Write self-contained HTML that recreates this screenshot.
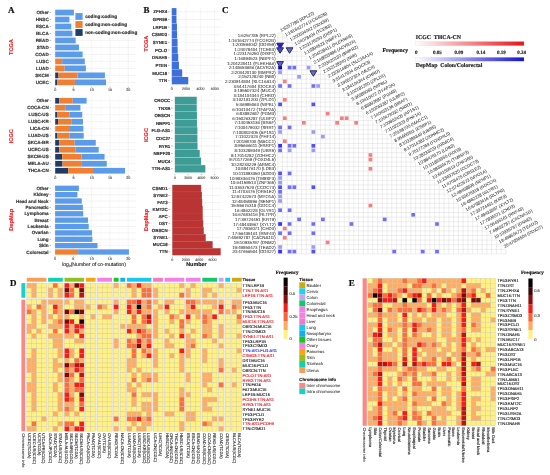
<!DOCTYPE html><html><head><meta charset="utf-8"><title>Co-mutation figure</title><style>html,body{margin:0;padding:0;background:#fff;width:550px;height:475px;overflow:hidden}svg{display:block}</style></head><body><svg width="550" height="475" viewBox="0 0 550 475" shape-rendering="auto" text-rendering="geometricPrecision">
<rect x="0" y="0" width="550" height="475" fill="#fff"/>
<line x1="55.20" y1="9.20" x2="55.20" y2="86.30" stroke="#E6E6E6" stroke-width="0.45"/>
<line x1="73.47" y1="9.20" x2="73.47" y2="86.30" stroke="#E6E6E6" stroke-width="0.45"/>
<line x1="91.75" y1="9.20" x2="91.75" y2="86.30" stroke="#E6E6E6" stroke-width="0.45"/>
<line x1="110.03" y1="9.20" x2="110.03" y2="86.30" stroke="#E6E6E6" stroke-width="0.45"/>
<line x1="128.30" y1="9.20" x2="128.30" y2="86.30" stroke="#E6E6E6" stroke-width="0.45"/>
<line x1="64.34" y1="9.20" x2="64.34" y2="86.30" stroke="#F2F2F2" stroke-width="0.3"/>
<line x1="82.61" y1="9.20" x2="82.61" y2="86.30" stroke="#F2F2F2" stroke-width="0.3"/>
<line x1="100.89" y1="9.20" x2="100.89" y2="86.30" stroke="#F2F2F2" stroke-width="0.3"/>
<line x1="119.16" y1="9.20" x2="119.16" y2="86.30" stroke="#F2F2F2" stroke-width="0.3"/>
<line x1="53.70" y1="12.55" x2="136.00" y2="12.55" stroke="#E6E6E6" stroke-width="0.45"/>
<line x1="53.70" y1="19.53" x2="136.00" y2="19.53" stroke="#E6E6E6" stroke-width="0.45"/>
<line x1="53.70" y1="26.51" x2="136.00" y2="26.51" stroke="#E6E6E6" stroke-width="0.45"/>
<line x1="53.70" y1="33.49" x2="136.00" y2="33.49" stroke="#E6E6E6" stroke-width="0.45"/>
<line x1="53.70" y1="40.47" x2="136.00" y2="40.47" stroke="#E6E6E6" stroke-width="0.45"/>
<line x1="53.70" y1="47.45" x2="136.00" y2="47.45" stroke="#E6E6E6" stroke-width="0.45"/>
<line x1="53.70" y1="54.43" x2="136.00" y2="54.43" stroke="#E6E6E6" stroke-width="0.45"/>
<line x1="53.70" y1="61.41" x2="136.00" y2="61.41" stroke="#E6E6E6" stroke-width="0.45"/>
<line x1="53.70" y1="68.39" x2="136.00" y2="68.39" stroke="#E6E6E6" stroke-width="0.45"/>
<line x1="53.70" y1="75.37" x2="136.00" y2="75.37" stroke="#E6E6E6" stroke-width="0.45"/>
<line x1="53.70" y1="82.35" x2="136.00" y2="82.35" stroke="#E6E6E6" stroke-width="0.45"/>
<rect x="55.2" y="9.68" width="18.64" height="5.75" fill="#5B9BE8"/>
<text x="48.70" y="12.55" font-size="4.55" fill="#333333" stroke="#333333" stroke-width="0.16" text-anchor="end" font-family="'Liberation Sans', Arial, sans-serif" font-weight="bold" dominant-baseline="central">Other</text>
<line x1="49.70" y1="12.55" x2="51.20" y2="12.55" stroke="#555" stroke-width="0.4"/>
<rect x="55.2" y="16.66" width="14.25" height="5.75" fill="#5B9BE8"/>
<text x="48.70" y="19.53" font-size="4.55" fill="#333333" stroke="#333333" stroke-width="0.16" text-anchor="end" font-family="'Liberation Sans', Arial, sans-serif" font-weight="bold" dominant-baseline="central">HNSC</text>
<line x1="49.70" y1="19.53" x2="51.20" y2="19.53" stroke="#555" stroke-width="0.4"/>
<rect x="55.2" y="23.64" width="16.08" height="5.75" fill="#5B9BE8"/>
<text x="48.70" y="26.51" font-size="4.55" fill="#333333" stroke="#333333" stroke-width="0.16" text-anchor="end" font-family="'Liberation Sans', Arial, sans-serif" font-weight="bold" dominant-baseline="central">ESCA</text>
<line x1="49.70" y1="26.51" x2="51.20" y2="26.51" stroke="#555" stroke-width="0.4"/>
<rect x="55.2" y="30.62" width="17.18" height="5.75" fill="#5B9BE8"/>
<text x="48.70" y="33.49" font-size="4.55" fill="#333333" stroke="#333333" stroke-width="0.16" text-anchor="end" font-family="'Liberation Sans', Arial, sans-serif" font-weight="bold" dominant-baseline="central">BLCA</text>
<line x1="49.70" y1="33.49" x2="51.20" y2="33.49" stroke="#555" stroke-width="0.4"/>
<rect x="55.2" y="37.59" width="20.47" height="5.75" fill="#5B9BE8"/>
<text x="48.70" y="40.47" font-size="4.55" fill="#333333" stroke="#333333" stroke-width="0.16" text-anchor="end" font-family="'Liberation Sans', Arial, sans-serif" font-weight="bold" dominant-baseline="central">READ</text>
<line x1="49.70" y1="40.47" x2="51.20" y2="40.47" stroke="#555" stroke-width="0.4"/>
<rect x="55.2" y="44.58" width="23.76" height="5.75" fill="#5B9BE8"/>
<text x="48.70" y="47.45" font-size="4.55" fill="#333333" stroke="#333333" stroke-width="0.16" text-anchor="end" font-family="'Liberation Sans', Arial, sans-serif" font-weight="bold" dominant-baseline="central">STAD</text>
<line x1="49.70" y1="47.45" x2="51.20" y2="47.45" stroke="#555" stroke-width="0.4"/>
<rect x="55.2" y="51.56" width="27.41" height="5.75" fill="#5B9BE8"/>
<text x="48.70" y="54.43" font-size="4.55" fill="#333333" stroke="#333333" stroke-width="0.16" text-anchor="end" font-family="'Liberation Sans', Arial, sans-serif" font-weight="bold" dominant-baseline="central">COAD</text>
<line x1="49.70" y1="54.43" x2="51.20" y2="54.43" stroke="#555" stroke-width="0.4"/>
<rect x="55.2" y="58.53" width="6.94" height="5.75" fill="#EF7F32"/>
<rect x="62.14" y="58.53" width="22.66" height="5.75" fill="#5B9BE8"/>
<text x="48.70" y="61.41" font-size="4.55" fill="#333333" stroke="#333333" stroke-width="0.16" text-anchor="end" font-family="'Liberation Sans', Arial, sans-serif" font-weight="bold" dominant-baseline="central">LUSC</text>
<line x1="49.70" y1="61.41" x2="51.20" y2="61.41" stroke="#555" stroke-width="0.4"/>
<rect x="55.2" y="65.52" width="9.5" height="5.75" fill="#EF7F32"/>
<rect x="64.7" y="65.52" width="21.2" height="5.75" fill="#5B9BE8"/>
<text x="48.70" y="68.39" font-size="4.55" fill="#333333" stroke="#333333" stroke-width="0.16" text-anchor="end" font-family="'Liberation Sans', Arial, sans-serif" font-weight="bold" dominant-baseline="central">LUAD</text>
<line x1="49.70" y1="68.39" x2="51.20" y2="68.39" stroke="#555" stroke-width="0.4"/>
<rect x="55.2" y="72.5" width="3.29" height="5.75" fill="#1F3B66"/>
<rect x="58.49" y="72.5" width="19.01" height="5.75" fill="#EF7F32"/>
<rect x="77.5" y="72.5" width="27.41" height="5.75" fill="#5B9BE8"/>
<text x="48.70" y="75.37" font-size="4.55" fill="#333333" stroke="#333333" stroke-width="0.16" text-anchor="end" font-family="'Liberation Sans', Arial, sans-serif" font-weight="bold" dominant-baseline="central">SKCM</text>
<line x1="49.70" y1="75.37" x2="51.20" y2="75.37" stroke="#555" stroke-width="0.4"/>
<rect x="55.2" y="79.48" width="2.19" height="5.75" fill="#1F3B66"/>
<rect x="57.39" y="79.48" width="17.54" height="5.75" fill="#EF7F32"/>
<rect x="74.94" y="79.48" width="31.07" height="5.75" fill="#5B9BE8"/>
<text x="48.70" y="82.35" font-size="4.55" fill="#333333" stroke="#333333" stroke-width="0.16" text-anchor="end" font-family="'Liberation Sans', Arial, sans-serif" font-weight="bold" dominant-baseline="central">UCEC</text>
<line x1="49.70" y1="82.35" x2="51.20" y2="82.35" stroke="#555" stroke-width="0.4"/>
<line x1="55.20" y1="86.80" x2="55.20" y2="88.10" stroke="#555" stroke-width="0.4"/>
<text x="55.20" y="89.80" font-size="3.7" fill="#555" stroke="#555" stroke-width="0.14" text-anchor="middle" font-family="'Liberation Sans', Arial, sans-serif" dominant-baseline="central">0</text>
<line x1="73.47" y1="86.80" x2="73.47" y2="88.10" stroke="#555" stroke-width="0.4"/>
<text x="73.47" y="89.80" font-size="3.7" fill="#555" stroke="#555" stroke-width="0.14" text-anchor="middle" font-family="'Liberation Sans', Arial, sans-serif" dominant-baseline="central">5</text>
<line x1="91.75" y1="86.80" x2="91.75" y2="88.10" stroke="#555" stroke-width="0.4"/>
<text x="91.75" y="89.80" font-size="3.7" fill="#555" stroke="#555" stroke-width="0.14" text-anchor="middle" font-family="'Liberation Sans', Arial, sans-serif" dominant-baseline="central">10</text>
<line x1="110.03" y1="86.80" x2="110.03" y2="88.10" stroke="#555" stroke-width="0.4"/>
<text x="110.03" y="89.80" font-size="3.7" fill="#555" stroke="#555" stroke-width="0.14" text-anchor="middle" font-family="'Liberation Sans', Arial, sans-serif" dominant-baseline="central">15</text>
<line x1="128.30" y1="86.80" x2="128.30" y2="88.10" stroke="#555" stroke-width="0.4"/>
<text x="128.30" y="89.80" font-size="3.7" fill="#555" stroke="#555" stroke-width="0.14" text-anchor="middle" font-family="'Liberation Sans', Arial, sans-serif" dominant-baseline="central">20</text>
<text x="11.50" y="47.00" font-size="5.6" fill="#E8262A" stroke="#E8262A" stroke-width="0.16" text-anchor="middle" font-family="'Liberation Sans', Arial, sans-serif" font-weight="bold" dominant-baseline="central" transform="rotate(-90 11.50 47.00)">TCGA</text>
<line x1="55.20" y1="97.00" x2="55.20" y2="174.60" stroke="#E6E6E6" stroke-width="0.45"/>
<line x1="73.47" y1="97.00" x2="73.47" y2="174.60" stroke="#E6E6E6" stroke-width="0.45"/>
<line x1="91.75" y1="97.00" x2="91.75" y2="174.60" stroke="#E6E6E6" stroke-width="0.45"/>
<line x1="110.03" y1="97.00" x2="110.03" y2="174.60" stroke="#E6E6E6" stroke-width="0.45"/>
<line x1="128.30" y1="97.00" x2="128.30" y2="174.60" stroke="#E6E6E6" stroke-width="0.45"/>
<line x1="64.34" y1="97.00" x2="64.34" y2="174.60" stroke="#F2F2F2" stroke-width="0.3"/>
<line x1="82.61" y1="97.00" x2="82.61" y2="174.60" stroke="#F2F2F2" stroke-width="0.3"/>
<line x1="100.89" y1="97.00" x2="100.89" y2="174.60" stroke="#F2F2F2" stroke-width="0.3"/>
<line x1="119.16" y1="97.00" x2="119.16" y2="174.60" stroke="#F2F2F2" stroke-width="0.3"/>
<line x1="53.70" y1="100.75" x2="136.00" y2="100.75" stroke="#E6E6E6" stroke-width="0.45"/>
<line x1="53.70" y1="107.75" x2="136.00" y2="107.75" stroke="#E6E6E6" stroke-width="0.45"/>
<line x1="53.70" y1="114.75" x2="136.00" y2="114.75" stroke="#E6E6E6" stroke-width="0.45"/>
<line x1="53.70" y1="121.75" x2="136.00" y2="121.75" stroke="#E6E6E6" stroke-width="0.45"/>
<line x1="53.70" y1="128.75" x2="136.00" y2="128.75" stroke="#E6E6E6" stroke-width="0.45"/>
<line x1="53.70" y1="135.75" x2="136.00" y2="135.75" stroke="#E6E6E6" stroke-width="0.45"/>
<line x1="53.70" y1="142.75" x2="136.00" y2="142.75" stroke="#E6E6E6" stroke-width="0.45"/>
<line x1="53.70" y1="149.75" x2="136.00" y2="149.75" stroke="#E6E6E6" stroke-width="0.45"/>
<line x1="53.70" y1="156.75" x2="136.00" y2="156.75" stroke="#E6E6E6" stroke-width="0.45"/>
<line x1="53.70" y1="163.75" x2="136.00" y2="163.75" stroke="#E6E6E6" stroke-width="0.45"/>
<line x1="53.70" y1="170.75" x2="136.00" y2="170.75" stroke="#E6E6E6" stroke-width="0.45"/>
<rect x="55.2" y="97.9" width="4.02" height="5.7" fill="#1F3B66"/>
<rect x="59.22" y="97.9" width="13.52" height="5.7" fill="#EF7F32"/>
<rect x="72.74" y="97.9" width="13.89" height="5.7" fill="#5B9BE8"/>
<text x="48.70" y="100.75" font-size="4.55" fill="#333333" stroke="#333333" stroke-width="0.16" text-anchor="end" font-family="'Liberation Sans', Arial, sans-serif" font-weight="bold" dominant-baseline="central">Other</text>
<line x1="49.70" y1="100.75" x2="51.20" y2="100.75" stroke="#555" stroke-width="0.4"/>
<rect x="55.2" y="104.9" width="10.6" height="5.7" fill="#EF7F32"/>
<rect x="65.8" y="104.9" width="14.62" height="5.7" fill="#5B9BE8"/>
<text x="48.70" y="107.75" font-size="4.55" fill="#333333" stroke="#333333" stroke-width="0.16" text-anchor="end" font-family="'Liberation Sans', Arial, sans-serif" font-weight="bold" dominant-baseline="central">COCA-CN</text>
<line x1="49.70" y1="107.75" x2="51.20" y2="107.75" stroke="#555" stroke-width="0.4"/>
<rect x="55.2" y="111.9" width="1.83" height="5.7" fill="#1F3B66"/>
<rect x="57.03" y="111.9" width="12.43" height="5.7" fill="#EF7F32"/>
<rect x="69.45" y="111.9" width="12.79" height="5.7" fill="#5B9BE8"/>
<text x="48.70" y="114.75" font-size="4.55" fill="#333333" stroke="#333333" stroke-width="0.16" text-anchor="end" font-family="'Liberation Sans', Arial, sans-serif" font-weight="bold" dominant-baseline="central">LUSC-US</text>
<line x1="49.70" y1="114.75" x2="51.20" y2="114.75" stroke="#555" stroke-width="0.4"/>
<rect x="55.2" y="118.9" width="2.92" height="5.7" fill="#1F3B66"/>
<rect x="58.12" y="118.9" width="13.16" height="5.7" fill="#EF7F32"/>
<rect x="71.28" y="118.9" width="11.7" height="5.7" fill="#5B9BE8"/>
<text x="48.70" y="121.75" font-size="4.55" fill="#333333" stroke="#333333" stroke-width="0.16" text-anchor="end" font-family="'Liberation Sans', Arial, sans-serif" font-weight="bold" dominant-baseline="central">LUSC-KR</text>
<line x1="49.70" y1="121.75" x2="51.20" y2="121.75" stroke="#555" stroke-width="0.4"/>
<rect x="55.2" y="125.9" width="13.89" height="5.7" fill="#EF7F32"/>
<rect x="69.09" y="125.9" width="14.25" height="5.7" fill="#5B9BE8"/>
<text x="48.70" y="128.75" font-size="4.55" fill="#333333" stroke="#333333" stroke-width="0.16" text-anchor="end" font-family="'Liberation Sans', Arial, sans-serif" font-weight="bold" dominant-baseline="central">LICA-CN</text>
<line x1="49.70" y1="128.75" x2="51.20" y2="128.75" stroke="#555" stroke-width="0.4"/>
<rect x="55.2" y="132.9" width="1.83" height="5.7" fill="#1F3B66"/>
<rect x="57.03" y="132.9" width="12.43" height="5.7" fill="#EF7F32"/>
<rect x="69.45" y="132.9" width="14.25" height="5.7" fill="#5B9BE8"/>
<text x="48.70" y="135.75" font-size="4.55" fill="#333333" stroke="#333333" stroke-width="0.16" text-anchor="end" font-family="'Liberation Sans', Arial, sans-serif" font-weight="bold" dominant-baseline="central">LUAD-US</text>
<line x1="49.70" y1="135.75" x2="51.20" y2="135.75" stroke="#555" stroke-width="0.4"/>
<rect x="55.2" y="139.9" width="4.02" height="5.7" fill="#1F3B66"/>
<rect x="59.22" y="139.9" width="15.35" height="5.7" fill="#EF7F32"/>
<rect x="74.57" y="139.9" width="21.2" height="5.7" fill="#5B9BE8"/>
<text x="48.70" y="142.75" font-size="4.55" fill="#333333" stroke="#333333" stroke-width="0.16" text-anchor="end" font-family="'Liberation Sans', Arial, sans-serif" font-weight="bold" dominant-baseline="central">SKCA-BR</text>
<line x1="49.70" y1="142.75" x2="51.20" y2="142.75" stroke="#555" stroke-width="0.4"/>
<rect x="55.2" y="146.9" width="4.02" height="5.7" fill="#1F3B66"/>
<rect x="59.22" y="146.9" width="16.45" height="5.7" fill="#EF7F32"/>
<rect x="75.67" y="146.9" width="23.03" height="5.7" fill="#5B9BE8"/>
<text x="48.70" y="149.75" font-size="4.55" fill="#333333" stroke="#333333" stroke-width="0.16" text-anchor="end" font-family="'Liberation Sans', Arial, sans-serif" font-weight="bold" dominant-baseline="central">UCEC-US</text>
<line x1="49.70" y1="149.75" x2="51.20" y2="149.75" stroke="#555" stroke-width="0.4"/>
<rect x="55.2" y="153.9" width="6.94" height="5.7" fill="#1F3B66"/>
<rect x="62.14" y="153.9" width="19.37" height="5.7" fill="#EF7F32"/>
<rect x="81.52" y="153.9" width="23.03" height="5.7" fill="#5B9BE8"/>
<text x="48.70" y="156.75" font-size="4.55" fill="#333333" stroke="#333333" stroke-width="0.16" text-anchor="end" font-family="'Liberation Sans', Arial, sans-serif" font-weight="bold" dominant-baseline="central">SKCM-US</text>
<line x1="49.70" y1="156.75" x2="51.20" y2="156.75" stroke="#555" stroke-width="0.4"/>
<rect x="55.2" y="160.9" width="7.31" height="5.7" fill="#1F3B66"/>
<rect x="62.51" y="160.9" width="19.37" height="5.7" fill="#EF7F32"/>
<rect x="81.88" y="160.9" width="24.85" height="5.7" fill="#5B9BE8"/>
<text x="48.70" y="163.75" font-size="4.55" fill="#333333" stroke="#333333" stroke-width="0.16" text-anchor="end" font-family="'Liberation Sans', Arial, sans-serif" font-weight="bold" dominant-baseline="central">MELA-AU</text>
<line x1="49.70" y1="163.75" x2="51.20" y2="163.75" stroke="#555" stroke-width="0.4"/>
<rect x="55.2" y="167.9" width="12.98" height="5.7" fill="#1F3B66"/>
<rect x="68.18" y="167.9" width="24.85" height="5.7" fill="#EF7F32"/>
<rect x="93.03" y="167.9" width="31.98" height="5.7" fill="#5B9BE8"/>
<text x="48.70" y="170.75" font-size="4.55" fill="#333333" stroke="#333333" stroke-width="0.16" text-anchor="end" font-family="'Liberation Sans', Arial, sans-serif" font-weight="bold" dominant-baseline="central">THCA-CN</text>
<line x1="49.70" y1="170.75" x2="51.20" y2="170.75" stroke="#555" stroke-width="0.4"/>
<line x1="55.20" y1="175.10" x2="55.20" y2="176.40" stroke="#555" stroke-width="0.4"/>
<text x="55.20" y="178.00" font-size="3.7" fill="#555" stroke="#555" stroke-width="0.14" text-anchor="middle" font-family="'Liberation Sans', Arial, sans-serif" dominant-baseline="central">0</text>
<line x1="73.47" y1="175.10" x2="73.47" y2="176.40" stroke="#555" stroke-width="0.4"/>
<text x="73.47" y="178.00" font-size="3.7" fill="#555" stroke="#555" stroke-width="0.14" text-anchor="middle" font-family="'Liberation Sans', Arial, sans-serif" dominant-baseline="central">5</text>
<line x1="91.75" y1="175.10" x2="91.75" y2="176.40" stroke="#555" stroke-width="0.4"/>
<text x="91.75" y="178.00" font-size="3.7" fill="#555" stroke="#555" stroke-width="0.14" text-anchor="middle" font-family="'Liberation Sans', Arial, sans-serif" dominant-baseline="central">10</text>
<line x1="110.03" y1="175.10" x2="110.03" y2="176.40" stroke="#555" stroke-width="0.4"/>
<text x="110.03" y="178.00" font-size="3.7" fill="#555" stroke="#555" stroke-width="0.14" text-anchor="middle" font-family="'Liberation Sans', Arial, sans-serif" dominant-baseline="central">15</text>
<line x1="128.30" y1="175.10" x2="128.30" y2="176.40" stroke="#555" stroke-width="0.4"/>
<text x="128.30" y="178.00" font-size="3.7" fill="#555" stroke="#555" stroke-width="0.14" text-anchor="middle" font-family="'Liberation Sans', Arial, sans-serif" dominant-baseline="central">20</text>
<text x="11.60" y="136.20" font-size="5.6" fill="#E8262A" stroke="#E8262A" stroke-width="0.16" text-anchor="middle" font-family="'Liberation Sans', Arial, sans-serif" font-weight="bold" dominant-baseline="central" transform="rotate(-90 11.60 136.20)">ICGC</text>
<line x1="55.10" y1="185.20" x2="55.10" y2="255.40" stroke="#E6E6E6" stroke-width="0.45"/>
<line x1="73.38" y1="185.20" x2="73.38" y2="255.40" stroke="#E6E6E6" stroke-width="0.45"/>
<line x1="91.65" y1="185.20" x2="91.65" y2="255.40" stroke="#E6E6E6" stroke-width="0.45"/>
<line x1="109.92" y1="185.20" x2="109.92" y2="255.40" stroke="#E6E6E6" stroke-width="0.45"/>
<line x1="128.20" y1="185.20" x2="128.20" y2="255.40" stroke="#E6E6E6" stroke-width="0.45"/>
<line x1="64.24" y1="185.20" x2="64.24" y2="255.40" stroke="#F2F2F2" stroke-width="0.3"/>
<line x1="82.51" y1="185.20" x2="82.51" y2="255.40" stroke="#F2F2F2" stroke-width="0.3"/>
<line x1="100.79" y1="185.20" x2="100.79" y2="255.40" stroke="#F2F2F2" stroke-width="0.3"/>
<line x1="119.06" y1="185.20" x2="119.06" y2="255.40" stroke="#F2F2F2" stroke-width="0.3"/>
<line x1="53.60" y1="188.30" x2="136.00" y2="188.30" stroke="#E6E6E6" stroke-width="0.45"/>
<line x1="53.60" y1="194.67" x2="136.00" y2="194.67" stroke="#E6E6E6" stroke-width="0.45"/>
<line x1="53.60" y1="201.04" x2="136.00" y2="201.04" stroke="#E6E6E6" stroke-width="0.45"/>
<line x1="53.60" y1="207.41" x2="136.00" y2="207.41" stroke="#E6E6E6" stroke-width="0.45"/>
<line x1="53.60" y1="213.78" x2="136.00" y2="213.78" stroke="#E6E6E6" stroke-width="0.45"/>
<line x1="53.60" y1="220.15" x2="136.00" y2="220.15" stroke="#E6E6E6" stroke-width="0.45"/>
<line x1="53.60" y1="226.52" x2="136.00" y2="226.52" stroke="#E6E6E6" stroke-width="0.45"/>
<line x1="53.60" y1="232.89" x2="136.00" y2="232.89" stroke="#E6E6E6" stroke-width="0.45"/>
<line x1="53.60" y1="239.26" x2="136.00" y2="239.26" stroke="#E6E6E6" stroke-width="0.45"/>
<line x1="53.60" y1="245.63" x2="136.00" y2="245.63" stroke="#E6E6E6" stroke-width="0.45"/>
<line x1="53.60" y1="252.00" x2="136.00" y2="252.00" stroke="#E6E6E6" stroke-width="0.45"/>
<rect x="55.1" y="185.65" width="23.76" height="5.3" fill="#5B9BE8"/>
<text x="48.60" y="188.30" font-size="4.55" fill="#333333" stroke="#333333" stroke-width="0.16" text-anchor="end" font-family="'Liberation Sans', Arial, sans-serif" font-weight="bold" dominant-baseline="central">Other</text>
<line x1="49.60" y1="188.30" x2="51.10" y2="188.30" stroke="#555" stroke-width="0.4"/>
<rect x="55.1" y="192.02" width="22.3" height="5.3" fill="#5B9BE8"/>
<text x="48.60" y="194.67" font-size="4.55" fill="#333333" stroke="#333333" stroke-width="0.16" text-anchor="end" font-family="'Liberation Sans', Arial, sans-serif" font-weight="bold" dominant-baseline="central">Kidney</text>
<line x1="49.60" y1="194.67" x2="51.10" y2="194.67" stroke="#555" stroke-width="0.4"/>
<rect x="55.1" y="198.39" width="26.68" height="5.3" fill="#5B9BE8"/>
<text x="48.60" y="201.04" font-size="4.55" fill="#333333" stroke="#333333" stroke-width="0.16" text-anchor="end" font-family="'Liberation Sans', Arial, sans-serif" font-weight="bold" dominant-baseline="central">Head and Neck</text>
<line x1="49.60" y1="201.04" x2="51.10" y2="201.04" stroke="#555" stroke-width="0.4"/>
<rect x="55.1" y="204.76" width="27.78" height="5.3" fill="#5B9BE8"/>
<text x="48.60" y="207.41" font-size="4.55" fill="#333333" stroke="#333333" stroke-width="0.16" text-anchor="end" font-family="'Liberation Sans', Arial, sans-serif" font-weight="bold" dominant-baseline="central">Pancreatic</text>
<line x1="49.60" y1="207.41" x2="51.10" y2="207.41" stroke="#555" stroke-width="0.4"/>
<rect x="55.1" y="211.13" width="28.14" height="5.3" fill="#5B9BE8"/>
<text x="48.60" y="213.78" font-size="4.55" fill="#333333" stroke="#333333" stroke-width="0.16" text-anchor="end" font-family="'Liberation Sans', Arial, sans-serif" font-weight="bold" dominant-baseline="central">Lymphoma</text>
<line x1="49.60" y1="213.78" x2="51.10" y2="213.78" stroke="#555" stroke-width="0.4"/>
<rect x="55.1" y="217.5" width="32.89" height="5.3" fill="#5B9BE8"/>
<text x="48.60" y="220.15" font-size="4.55" fill="#333333" stroke="#333333" stroke-width="0.16" text-anchor="end" font-family="'Liberation Sans', Arial, sans-serif" font-weight="bold" dominant-baseline="central">Breast</text>
<line x1="49.60" y1="220.15" x2="51.10" y2="220.15" stroke="#555" stroke-width="0.4"/>
<rect x="55.1" y="223.87" width="33.63" height="5.3" fill="#5B9BE8"/>
<text x="48.60" y="226.52" font-size="4.55" fill="#333333" stroke="#333333" stroke-width="0.16" text-anchor="end" font-family="'Liberation Sans', Arial, sans-serif" font-weight="bold" dominant-baseline="central">Leukemia</text>
<line x1="49.60" y1="226.52" x2="51.10" y2="226.52" stroke="#555" stroke-width="0.4"/>
<rect x="55.1" y="230.24" width="36.92" height="5.3" fill="#5B9BE8"/>
<text x="48.60" y="232.89" font-size="4.55" fill="#333333" stroke="#333333" stroke-width="0.16" text-anchor="end" font-family="'Liberation Sans', Arial, sans-serif" font-weight="bold" dominant-baseline="central">Ovarian</text>
<line x1="49.60" y1="232.89" x2="51.10" y2="232.89" stroke="#555" stroke-width="0.4"/>
<rect x="55.1" y="236.61" width="37.28" height="5.3" fill="#5B9BE8"/>
<text x="48.60" y="239.26" font-size="4.55" fill="#333333" stroke="#333333" stroke-width="0.16" text-anchor="end" font-family="'Liberation Sans', Arial, sans-serif" font-weight="bold" dominant-baseline="central">Lung</text>
<line x1="49.60" y1="239.26" x2="51.10" y2="239.26" stroke="#555" stroke-width="0.4"/>
<rect x="55.1" y="242.98" width="42.4" height="5.3" fill="#5B9BE8"/>
<text x="48.60" y="245.63" font-size="4.55" fill="#333333" stroke="#333333" stroke-width="0.16" text-anchor="end" font-family="'Liberation Sans', Arial, sans-serif" font-weight="bold" dominant-baseline="central">Skin</text>
<line x1="49.60" y1="245.63" x2="51.10" y2="245.63" stroke="#555" stroke-width="0.4"/>
<rect x="55.1" y="249.35" width="23.03" height="5.3" fill="#EF7F32"/>
<rect x="78.13" y="249.35" width="50.8" height="5.3" fill="#5B9BE8"/>
<text x="48.60" y="252.00" font-size="4.55" fill="#333333" stroke="#333333" stroke-width="0.16" text-anchor="end" font-family="'Liberation Sans', Arial, sans-serif" font-weight="bold" dominant-baseline="central">Colorectal</text>
<line x1="49.60" y1="252.00" x2="51.10" y2="252.00" stroke="#555" stroke-width="0.4"/>
<line x1="55.10" y1="255.90" x2="55.10" y2="257.20" stroke="#555" stroke-width="0.4"/>
<text x="55.10" y="258.60" font-size="3.7" fill="#555" stroke="#555" stroke-width="0.14" text-anchor="middle" font-family="'Liberation Sans', Arial, sans-serif" dominant-baseline="central">0</text>
<line x1="73.38" y1="255.90" x2="73.38" y2="257.20" stroke="#555" stroke-width="0.4"/>
<text x="73.38" y="258.60" font-size="3.7" fill="#555" stroke="#555" stroke-width="0.14" text-anchor="middle" font-family="'Liberation Sans', Arial, sans-serif" dominant-baseline="central">5</text>
<line x1="91.65" y1="255.90" x2="91.65" y2="257.20" stroke="#555" stroke-width="0.4"/>
<text x="91.65" y="258.60" font-size="3.7" fill="#555" stroke="#555" stroke-width="0.14" text-anchor="middle" font-family="'Liberation Sans', Arial, sans-serif" dominant-baseline="central">10</text>
<line x1="109.92" y1="255.90" x2="109.92" y2="257.20" stroke="#555" stroke-width="0.4"/>
<text x="109.92" y="258.60" font-size="3.7" fill="#555" stroke="#555" stroke-width="0.14" text-anchor="middle" font-family="'Liberation Sans', Arial, sans-serif" dominant-baseline="central">15</text>
<line x1="128.20" y1="255.90" x2="128.20" y2="257.20" stroke="#555" stroke-width="0.4"/>
<text x="128.20" y="258.60" font-size="3.7" fill="#555" stroke="#555" stroke-width="0.14" text-anchor="middle" font-family="'Liberation Sans', Arial, sans-serif" dominant-baseline="central">20</text>
<text x="11.70" y="219.80" font-size="5.6" fill="#E8262A" stroke="#E8262A" stroke-width="0.16" text-anchor="middle" font-family="'Liberation Sans', Arial, sans-serif" font-weight="bold" dominant-baseline="central" transform="rotate(-90 11.70 219.80)">DepMap</text>
<rect x="74" y="11.5" width="64" height="25.5" fill="#fff"/>
<rect x="75.4" y="13.1" width="7.2" height="6.8" fill="#5B9BE8"/>
<text x="85.20" y="16.50" font-size="4.65" fill="#333333" stroke="#333333" stroke-width="0.16" text-anchor="start" font-family="'Liberation Sans', Arial, sans-serif" font-weight="bold" dominant-baseline="central">coding:coding</text>
<rect x="75.4" y="21.1" width="7.2" height="6.8" fill="#EF7F32"/>
<text x="85.20" y="24.50" font-size="4.65" fill="#333333" stroke="#333333" stroke-width="0.16" text-anchor="start" font-family="'Liberation Sans', Arial, sans-serif" font-weight="bold" dominant-baseline="central">coding:non-coding</text>
<rect x="75.4" y="29.1" width="7.2" height="6.8" fill="#1F3B66"/>
<text x="85.20" y="32.50" font-size="4.65" fill="#333333" stroke="#333333" stroke-width="0.16" text-anchor="start" font-family="'Liberation Sans', Arial, sans-serif" font-weight="bold" dominant-baseline="central">non-coding:non-coding</text>
<text x="94.00" y="265.00" font-size="5.1" fill="#333" stroke="#333" stroke-width="0.14" text-anchor="middle" font-family="'Liberation Sans', Arial, sans-serif" dominant-baseline="central">log<tspan font-size="3.1" dy="1.3">2</tspan><tspan dy="-1.3">(Number of co-mutation)</tspan></text>
<line x1="171.80" y1="7.50" x2="171.80" y2="86.00" stroke="#E6E6E6" stroke-width="0.45"/>
<line x1="186.10" y1="7.50" x2="186.10" y2="86.00" stroke="#E6E6E6" stroke-width="0.45"/>
<line x1="200.40" y1="7.50" x2="200.40" y2="86.00" stroke="#E6E6E6" stroke-width="0.45"/>
<line x1="214.70" y1="7.50" x2="214.70" y2="86.00" stroke="#E6E6E6" stroke-width="0.45"/>
<line x1="178.95" y1="7.50" x2="178.95" y2="86.00" stroke="#F2F2F2" stroke-width="0.3"/>
<line x1="193.25" y1="7.50" x2="193.25" y2="86.00" stroke="#F2F2F2" stroke-width="0.3"/>
<line x1="207.55" y1="7.50" x2="207.55" y2="86.00" stroke="#F2F2F2" stroke-width="0.3"/>
<line x1="170.30" y1="11.80" x2="221.50" y2="11.80" stroke="#E6E6E6" stroke-width="0.45"/>
<line x1="170.30" y1="19.45" x2="221.50" y2="19.45" stroke="#E6E6E6" stroke-width="0.45"/>
<line x1="170.30" y1="27.10" x2="221.50" y2="27.10" stroke="#E6E6E6" stroke-width="0.45"/>
<line x1="170.30" y1="34.75" x2="221.50" y2="34.75" stroke="#E6E6E6" stroke-width="0.45"/>
<line x1="170.30" y1="42.40" x2="221.50" y2="42.40" stroke="#E6E6E6" stroke-width="0.45"/>
<line x1="170.30" y1="50.05" x2="221.50" y2="50.05" stroke="#E6E6E6" stroke-width="0.45"/>
<line x1="170.30" y1="57.70" x2="221.50" y2="57.70" stroke="#E6E6E6" stroke-width="0.45"/>
<line x1="170.30" y1="65.35" x2="221.50" y2="65.35" stroke="#E6E6E6" stroke-width="0.45"/>
<line x1="170.30" y1="73.00" x2="221.50" y2="73.00" stroke="#E6E6E6" stroke-width="0.45"/>
<line x1="170.30" y1="80.65" x2="221.50" y2="80.65" stroke="#E6E6E6" stroke-width="0.45"/>
<rect x="171.8" y="8.12" width="4.65" height="7.35" fill="#3D70D8"/>
<text x="167.20" y="11.80" font-size="4.4" fill="#333333" stroke="#333333" stroke-width="0.16" text-anchor="end" font-family="'Liberation Sans', Arial, sans-serif" font-weight="bold" dominant-baseline="central">ZFHX4</text>
<line x1="168.00" y1="11.80" x2="169.60" y2="11.80" stroke="#555" stroke-width="0.4"/>
<rect x="171.8" y="15.78" width="4.65" height="7.35" fill="#3D70D8"/>
<text x="167.20" y="19.45" font-size="4.4" fill="#333333" stroke="#333333" stroke-width="0.16" text-anchor="end" font-family="'Liberation Sans', Arial, sans-serif" font-weight="bold" dominant-baseline="central">GPR98</text>
<line x1="168.00" y1="19.45" x2="169.60" y2="19.45" stroke="#555" stroke-width="0.4"/>
<rect x="171.8" y="23.43" width="5.15" height="7.35" fill="#3D70D8"/>
<text x="167.20" y="27.10" font-size="4.4" fill="#333333" stroke="#333333" stroke-width="0.16" text-anchor="end" font-family="'Liberation Sans', Arial, sans-serif" font-weight="bold" dominant-baseline="central">LRP1B</text>
<line x1="168.00" y1="27.10" x2="169.60" y2="27.10" stroke="#555" stroke-width="0.4"/>
<rect x="171.8" y="31.07" width="5.29" height="7.35" fill="#3D70D8"/>
<text x="167.20" y="34.75" font-size="4.4" fill="#333333" stroke="#333333" stroke-width="0.16" text-anchor="end" font-family="'Liberation Sans', Arial, sans-serif" font-weight="bold" dominant-baseline="central">CSMD3</text>
<line x1="168.00" y1="34.75" x2="169.60" y2="34.75" stroke="#555" stroke-width="0.4"/>
<rect x="171.8" y="38.73" width="5.72" height="7.35" fill="#3D70D8"/>
<text x="167.20" y="42.40" font-size="4.4" fill="#333333" stroke="#333333" stroke-width="0.16" text-anchor="end" font-family="'Liberation Sans', Arial, sans-serif" font-weight="bold" dominant-baseline="central">SYNE1</text>
<line x1="168.00" y1="42.40" x2="169.60" y2="42.40" stroke="#555" stroke-width="0.4"/>
<rect x="171.8" y="46.37" width="5.86" height="7.35" fill="#3D70D8"/>
<text x="167.20" y="50.05" font-size="4.4" fill="#333333" stroke="#333333" stroke-width="0.16" text-anchor="end" font-family="'Liberation Sans', Arial, sans-serif" font-weight="bold" dominant-baseline="central">PCLO</text>
<line x1="168.00" y1="50.05" x2="169.60" y2="50.05" stroke="#555" stroke-width="0.4"/>
<rect x="171.8" y="54.02" width="6.44" height="7.35" fill="#3D70D8"/>
<text x="167.20" y="57.70" font-size="4.4" fill="#333333" stroke="#333333" stroke-width="0.16" text-anchor="end" font-family="'Liberation Sans', Arial, sans-serif" font-weight="bold" dominant-baseline="central">DNAH5</text>
<line x1="168.00" y1="57.70" x2="169.60" y2="57.70" stroke="#555" stroke-width="0.4"/>
<rect x="171.8" y="61.68" width="7.15" height="7.35" fill="#3D70D8"/>
<text x="167.20" y="65.35" font-size="4.4" fill="#333333" stroke="#333333" stroke-width="0.16" text-anchor="end" font-family="'Liberation Sans', Arial, sans-serif" font-weight="bold" dominant-baseline="central">PTEN</text>
<line x1="168.00" y1="65.35" x2="169.60" y2="65.35" stroke="#555" stroke-width="0.4"/>
<rect x="171.8" y="69.33" width="10.37" height="7.35" fill="#3D70D8"/>
<text x="167.20" y="73.00" font-size="4.4" fill="#333333" stroke="#333333" stroke-width="0.16" text-anchor="end" font-family="'Liberation Sans', Arial, sans-serif" font-weight="bold" dominant-baseline="central">MUC16</text>
<line x1="168.00" y1="73.00" x2="169.60" y2="73.00" stroke="#555" stroke-width="0.4"/>
<rect x="171.8" y="76.98" width="16.45" height="7.35" fill="#3D70D8"/>
<text x="167.20" y="80.65" font-size="4.4" fill="#333333" stroke="#333333" stroke-width="0.16" text-anchor="end" font-family="'Liberation Sans', Arial, sans-serif" font-weight="bold" dominant-baseline="central">TTN</text>
<line x1="168.00" y1="80.65" x2="169.60" y2="80.65" stroke="#555" stroke-width="0.4"/>
<line x1="171.80" y1="86.50" x2="171.80" y2="87.80" stroke="#555" stroke-width="0.4"/>
<text x="171.80" y="88.70" font-size="3.6" fill="#555" stroke="#555" stroke-width="0.14" text-anchor="middle" font-family="'Liberation Sans', Arial, sans-serif" dominant-baseline="central">0</text>
<line x1="186.10" y1="86.50" x2="186.10" y2="87.80" stroke="#555" stroke-width="0.4"/>
<text x="186.10" y="88.70" font-size="3.6" fill="#555" stroke="#555" stroke-width="0.14" text-anchor="middle" font-family="'Liberation Sans', Arial, sans-serif" dominant-baseline="central">2000</text>
<line x1="200.40" y1="86.50" x2="200.40" y2="87.80" stroke="#555" stroke-width="0.4"/>
<text x="200.40" y="88.70" font-size="3.6" fill="#555" stroke="#555" stroke-width="0.14" text-anchor="middle" font-family="'Liberation Sans', Arial, sans-serif" dominant-baseline="central">4000</text>
<line x1="214.70" y1="86.50" x2="214.70" y2="87.80" stroke="#555" stroke-width="0.4"/>
<text x="214.70" y="88.70" font-size="3.6" fill="#555" stroke="#555" stroke-width="0.14" text-anchor="middle" font-family="'Liberation Sans', Arial, sans-serif" dominant-baseline="central">6000</text>
<text x="146.70" y="43.60" font-size="5.6" fill="#E8262A" stroke="#E8262A" stroke-width="0.16" text-anchor="middle" font-family="'Liberation Sans', Arial, sans-serif" font-weight="bold" dominant-baseline="central" transform="rotate(-90 146.70 43.60)">TCGA</text>
<line x1="174.90" y1="95.50" x2="174.90" y2="173.50" stroke="#E6E6E6" stroke-width="0.45"/>
<line x1="188.14" y1="95.50" x2="188.14" y2="173.50" stroke="#E6E6E6" stroke-width="0.45"/>
<line x1="201.38" y1="95.50" x2="201.38" y2="173.50" stroke="#E6E6E6" stroke-width="0.45"/>
<line x1="214.62" y1="95.50" x2="214.62" y2="173.50" stroke="#E6E6E6" stroke-width="0.45"/>
<line x1="181.52" y1="95.50" x2="181.52" y2="173.50" stroke="#F2F2F2" stroke-width="0.3"/>
<line x1="194.76" y1="95.50" x2="194.76" y2="173.50" stroke="#F2F2F2" stroke-width="0.3"/>
<line x1="208.00" y1="95.50" x2="208.00" y2="173.50" stroke="#F2F2F2" stroke-width="0.3"/>
<line x1="221.24" y1="95.50" x2="221.24" y2="173.50" stroke="#F2F2F2" stroke-width="0.3"/>
<line x1="173.40" y1="100.40" x2="221.50" y2="100.40" stroke="#E6E6E6" stroke-width="0.45"/>
<line x1="173.40" y1="108.00" x2="221.50" y2="108.00" stroke="#E6E6E6" stroke-width="0.45"/>
<line x1="173.40" y1="115.60" x2="221.50" y2="115.60" stroke="#E6E6E6" stroke-width="0.45"/>
<line x1="173.40" y1="123.20" x2="221.50" y2="123.20" stroke="#E6E6E6" stroke-width="0.45"/>
<line x1="173.40" y1="130.80" x2="221.50" y2="130.80" stroke="#E6E6E6" stroke-width="0.45"/>
<line x1="173.40" y1="138.40" x2="221.50" y2="138.40" stroke="#E6E6E6" stroke-width="0.45"/>
<line x1="173.40" y1="146.00" x2="221.50" y2="146.00" stroke="#E6E6E6" stroke-width="0.45"/>
<line x1="173.40" y1="153.60" x2="221.50" y2="153.60" stroke="#E6E6E6" stroke-width="0.45"/>
<line x1="173.40" y1="161.20" x2="221.50" y2="161.20" stroke="#E6E6E6" stroke-width="0.45"/>
<line x1="173.40" y1="168.80" x2="221.50" y2="168.80" stroke="#E6E6E6" stroke-width="0.45"/>
<rect x="174.9" y="96.75" width="21.85" height="7.3" fill="#3E9C97"/>
<text x="170.30" y="100.40" font-size="4.4" fill="#333333" stroke="#333333" stroke-width="0.16" text-anchor="end" font-family="'Liberation Sans', Arial, sans-serif" font-weight="bold" dominant-baseline="central">CROCC</text>
<line x1="171.10" y1="100.40" x2="172.70" y2="100.40" stroke="#555" stroke-width="0.4"/>
<rect x="174.9" y="104.35" width="21.85" height="7.3" fill="#3E9C97"/>
<text x="170.30" y="108.00" font-size="4.4" fill="#333333" stroke="#333333" stroke-width="0.16" text-anchor="end" font-family="'Liberation Sans', Arial, sans-serif" font-weight="bold" dominant-baseline="central">TNXB</text>
<line x1="171.10" y1="108.00" x2="172.70" y2="108.00" stroke="#555" stroke-width="0.4"/>
<rect x="174.9" y="111.95" width="22.04" height="7.3" fill="#3E9C97"/>
<text x="170.30" y="115.60" font-size="4.4" fill="#333333" stroke="#333333" stroke-width="0.16" text-anchor="end" font-family="'Liberation Sans', Arial, sans-serif" font-weight="bold" dominant-baseline="central">OBSCN</text>
<line x1="171.10" y1="115.60" x2="172.70" y2="115.60" stroke="#555" stroke-width="0.4"/>
<rect x="174.9" y="119.55" width="22.04" height="7.3" fill="#3E9C97"/>
<text x="170.30" y="123.20" font-size="4.4" fill="#333333" stroke="#333333" stroke-width="0.16" text-anchor="end" font-family="'Liberation Sans', Arial, sans-serif" font-weight="bold" dominant-baseline="central">NBPF1</text>
<line x1="171.10" y1="123.20" x2="172.70" y2="123.20" stroke="#555" stroke-width="0.4"/>
<rect x="174.9" y="127.15" width="22.51" height="7.3" fill="#3E9C97"/>
<text x="170.30" y="130.80" font-size="4.4" fill="#333333" stroke="#333333" stroke-width="0.16" text-anchor="end" font-family="'Liberation Sans', Arial, sans-serif" font-weight="bold" dominant-baseline="central">FLG-AS1</text>
<line x1="171.10" y1="130.80" x2="172.70" y2="130.80" stroke="#555" stroke-width="0.4"/>
<rect x="174.9" y="134.75" width="22.51" height="7.3" fill="#3E9C97"/>
<text x="170.30" y="138.40" font-size="4.4" fill="#333333" stroke="#333333" stroke-width="0.16" text-anchor="end" font-family="'Liberation Sans', Arial, sans-serif" font-weight="bold" dominant-baseline="central">CDC27</text>
<line x1="171.10" y1="138.40" x2="172.70" y2="138.40" stroke="#555" stroke-width="0.4"/>
<rect x="174.9" y="142.35" width="22.64" height="7.3" fill="#3E9C97"/>
<text x="170.30" y="146.00" font-size="4.4" fill="#333333" stroke="#333333" stroke-width="0.16" text-anchor="end" font-family="'Liberation Sans', Arial, sans-serif" font-weight="bold" dominant-baseline="central">RYR1</text>
<line x1="171.10" y1="146.00" x2="172.70" y2="146.00" stroke="#555" stroke-width="0.4"/>
<rect x="174.9" y="149.95" width="24.82" height="7.3" fill="#3E9C97"/>
<text x="170.30" y="153.60" font-size="4.4" fill="#333333" stroke="#333333" stroke-width="0.16" text-anchor="end" font-family="'Liberation Sans', Arial, sans-serif" font-weight="bold" dominant-baseline="central">NBPF20</text>
<line x1="171.10" y1="153.60" x2="172.70" y2="153.60" stroke="#555" stroke-width="0.4"/>
<rect x="174.9" y="157.55" width="26.15" height="7.3" fill="#3E9C97"/>
<text x="170.30" y="161.20" font-size="4.4" fill="#333333" stroke="#333333" stroke-width="0.16" text-anchor="end" font-family="'Liberation Sans', Arial, sans-serif" font-weight="bold" dominant-baseline="central">MUC4</text>
<line x1="171.10" y1="161.20" x2="172.70" y2="161.20" stroke="#555" stroke-width="0.4"/>
<rect x="174.9" y="165.15" width="30.45" height="7.3" fill="#3E9C97"/>
<text x="170.30" y="168.80" font-size="4.4" fill="#333333" stroke="#333333" stroke-width="0.16" text-anchor="end" font-family="'Liberation Sans', Arial, sans-serif" font-weight="bold" dominant-baseline="central">TTN-AS1</text>
<line x1="171.10" y1="168.80" x2="172.70" y2="168.80" stroke="#555" stroke-width="0.4"/>
<line x1="174.90" y1="174.00" x2="174.90" y2="175.30" stroke="#555" stroke-width="0.4"/>
<text x="174.90" y="177.50" font-size="3.6" fill="#555" stroke="#555" stroke-width="0.14" text-anchor="middle" font-family="'Liberation Sans', Arial, sans-serif" dominant-baseline="central">0</text>
<line x1="188.14" y1="174.00" x2="188.14" y2="175.30" stroke="#555" stroke-width="0.4"/>
<text x="188.14" y="177.50" font-size="3.6" fill="#555" stroke="#555" stroke-width="0.14" text-anchor="middle" font-family="'Liberation Sans', Arial, sans-serif" dominant-baseline="central">2000</text>
<line x1="201.38" y1="174.00" x2="201.38" y2="175.30" stroke="#555" stroke-width="0.4"/>
<text x="201.38" y="177.50" font-size="3.6" fill="#555" stroke="#555" stroke-width="0.14" text-anchor="middle" font-family="'Liberation Sans', Arial, sans-serif" dominant-baseline="central">4000</text>
<line x1="214.62" y1="174.00" x2="214.62" y2="175.30" stroke="#555" stroke-width="0.4"/>
<text x="214.62" y="177.50" font-size="3.6" fill="#555" stroke="#555" stroke-width="0.14" text-anchor="middle" font-family="'Liberation Sans', Arial, sans-serif" dominant-baseline="central">6000</text>
<text x="146.70" y="135.00" font-size="5.6" fill="#E8262A" stroke="#E8262A" stroke-width="0.16" text-anchor="middle" font-family="'Liberation Sans', Arial, sans-serif" font-weight="bold" dominant-baseline="central" transform="rotate(-90 146.70 135.00)">ICGC</text>
<line x1="172.30" y1="184.50" x2="172.30" y2="256.00" stroke="#E6E6E6" stroke-width="0.45"/>
<line x1="185.74" y1="184.50" x2="185.74" y2="256.00" stroke="#E6E6E6" stroke-width="0.45"/>
<line x1="199.18" y1="184.50" x2="199.18" y2="256.00" stroke="#E6E6E6" stroke-width="0.45"/>
<line x1="212.62" y1="184.50" x2="212.62" y2="256.00" stroke="#E6E6E6" stroke-width="0.45"/>
<line x1="179.02" y1="184.50" x2="179.02" y2="256.00" stroke="#F2F2F2" stroke-width="0.3"/>
<line x1="192.46" y1="184.50" x2="192.46" y2="256.00" stroke="#F2F2F2" stroke-width="0.3"/>
<line x1="205.90" y1="184.50" x2="205.90" y2="256.00" stroke="#F2F2F2" stroke-width="0.3"/>
<line x1="219.34" y1="184.50" x2="219.34" y2="256.00" stroke="#F2F2F2" stroke-width="0.3"/>
<line x1="170.80" y1="188.40" x2="221.50" y2="188.40" stroke="#E6E6E6" stroke-width="0.45"/>
<line x1="170.80" y1="195.44" x2="221.50" y2="195.44" stroke="#E6E6E6" stroke-width="0.45"/>
<line x1="170.80" y1="202.48" x2="221.50" y2="202.48" stroke="#E6E6E6" stroke-width="0.45"/>
<line x1="170.80" y1="209.52" x2="221.50" y2="209.52" stroke="#E6E6E6" stroke-width="0.45"/>
<line x1="170.80" y1="216.56" x2="221.50" y2="216.56" stroke="#E6E6E6" stroke-width="0.45"/>
<line x1="170.80" y1="223.60" x2="221.50" y2="223.60" stroke="#E6E6E6" stroke-width="0.45"/>
<line x1="170.80" y1="230.64" x2="221.50" y2="230.64" stroke="#E6E6E6" stroke-width="0.45"/>
<line x1="170.80" y1="237.68" x2="221.50" y2="237.68" stroke="#E6E6E6" stroke-width="0.45"/>
<line x1="170.80" y1="244.72" x2="221.50" y2="244.72" stroke="#E6E6E6" stroke-width="0.45"/>
<line x1="170.80" y1="251.76" x2="221.50" y2="251.76" stroke="#E6E6E6" stroke-width="0.45"/>
<rect x="172.3" y="184.88" width="28.9" height="7.04" fill="#BA3434"/>
<text x="167.70" y="188.40" font-size="4.4" fill="#333333" stroke="#333333" stroke-width="0.16" text-anchor="end" font-family="'Liberation Sans', Arial, sans-serif" font-weight="bold" dominant-baseline="central">CSMD1</text>
<line x1="168.50" y1="188.40" x2="170.10" y2="188.40" stroke="#555" stroke-width="0.4"/>
<rect x="172.3" y="191.92" width="29.57" height="7.04" fill="#BA3434"/>
<text x="167.70" y="195.44" font-size="4.4" fill="#333333" stroke="#333333" stroke-width="0.16" text-anchor="end" font-family="'Liberation Sans', Arial, sans-serif" font-weight="bold" dominant-baseline="central">SYNE2</text>
<line x1="168.50" y1="195.44" x2="170.10" y2="195.44" stroke="#555" stroke-width="0.4"/>
<rect x="172.3" y="198.96" width="29.9" height="7.04" fill="#BA3434"/>
<text x="167.70" y="202.48" font-size="4.4" fill="#333333" stroke="#333333" stroke-width="0.16" text-anchor="end" font-family="'Liberation Sans', Arial, sans-serif" font-weight="bold" dominant-baseline="central">FAT3</text>
<line x1="168.50" y1="202.48" x2="170.10" y2="202.48" stroke="#555" stroke-width="0.4"/>
<rect x="172.3" y="206" width="30.37" height="7.04" fill="#BA3434"/>
<text x="167.70" y="209.52" font-size="4.4" fill="#333333" stroke="#333333" stroke-width="0.16" text-anchor="end" font-family="'Liberation Sans', Arial, sans-serif" font-weight="bold" dominant-baseline="central">KMT2C</text>
<line x1="168.50" y1="209.52" x2="170.10" y2="209.52" stroke="#555" stroke-width="0.4"/>
<rect x="172.3" y="213.04" width="30.44" height="7.04" fill="#BA3434"/>
<text x="167.70" y="216.56" font-size="4.4" fill="#333333" stroke="#333333" stroke-width="0.16" text-anchor="end" font-family="'Liberation Sans', Arial, sans-serif" font-weight="bold" dominant-baseline="central">APC</text>
<line x1="168.50" y1="216.56" x2="170.10" y2="216.56" stroke="#555" stroke-width="0.4"/>
<rect x="172.3" y="220.08" width="30.91" height="7.04" fill="#BA3434"/>
<text x="167.70" y="223.60" font-size="4.4" fill="#333333" stroke="#333333" stroke-width="0.16" text-anchor="end" font-family="'Liberation Sans', Arial, sans-serif" font-weight="bold" dominant-baseline="central">DST</text>
<line x1="168.50" y1="223.60" x2="170.10" y2="223.60" stroke="#555" stroke-width="0.4"/>
<rect x="172.3" y="227.12" width="31.45" height="7.04" fill="#BA3434"/>
<text x="167.70" y="230.64" font-size="4.4" fill="#333333" stroke="#333333" stroke-width="0.16" text-anchor="end" font-family="'Liberation Sans', Arial, sans-serif" font-weight="bold" dominant-baseline="central">OBSCN</text>
<line x1="168.50" y1="230.64" x2="170.10" y2="230.64" stroke="#555" stroke-width="0.4"/>
<rect x="172.3" y="234.16" width="33.4" height="7.04" fill="#BA3434"/>
<text x="167.70" y="237.68" font-size="4.4" fill="#333333" stroke="#333333" stroke-width="0.16" text-anchor="end" font-family="'Liberation Sans', Arial, sans-serif" font-weight="bold" dominant-baseline="central">SYNE1</text>
<line x1="168.50" y1="237.68" x2="170.10" y2="237.68" stroke="#555" stroke-width="0.4"/>
<rect x="172.3" y="241.2" width="40.32" height="7.04" fill="#BA3434"/>
<text x="167.70" y="244.72" font-size="4.4" fill="#333333" stroke="#333333" stroke-width="0.16" text-anchor="end" font-family="'Liberation Sans', Arial, sans-serif" font-weight="bold" dominant-baseline="central">MUC16</text>
<line x1="168.50" y1="244.72" x2="170.10" y2="244.72" stroke="#555" stroke-width="0.4"/>
<rect x="172.3" y="248.24" width="48.38" height="7.04" fill="#BA3434"/>
<text x="167.70" y="251.76" font-size="4.4" fill="#333333" stroke="#333333" stroke-width="0.16" text-anchor="end" font-family="'Liberation Sans', Arial, sans-serif" font-weight="bold" dominant-baseline="central">TTN</text>
<line x1="168.50" y1="251.76" x2="170.10" y2="251.76" stroke="#555" stroke-width="0.4"/>
<line x1="172.30" y1="256.50" x2="172.30" y2="257.80" stroke="#555" stroke-width="0.4"/>
<text x="172.30" y="259.60" font-size="3.6" fill="#555" stroke="#555" stroke-width="0.14" text-anchor="middle" font-family="'Liberation Sans', Arial, sans-serif" dominant-baseline="central">0</text>
<line x1="185.74" y1="256.50" x2="185.74" y2="257.80" stroke="#555" stroke-width="0.4"/>
<text x="185.74" y="259.60" font-size="3.6" fill="#555" stroke="#555" stroke-width="0.14" text-anchor="middle" font-family="'Liberation Sans', Arial, sans-serif" dominant-baseline="central">2000</text>
<line x1="199.18" y1="256.50" x2="199.18" y2="257.80" stroke="#555" stroke-width="0.4"/>
<text x="199.18" y="259.60" font-size="3.6" fill="#555" stroke="#555" stroke-width="0.14" text-anchor="middle" font-family="'Liberation Sans', Arial, sans-serif" dominant-baseline="central">4000</text>
<line x1="212.62" y1="256.50" x2="212.62" y2="257.80" stroke="#555" stroke-width="0.4"/>
<text x="212.62" y="259.60" font-size="3.6" fill="#555" stroke="#555" stroke-width="0.14" text-anchor="middle" font-family="'Liberation Sans', Arial, sans-serif" dominant-baseline="central">6000</text>
<text x="147.00" y="220.00" font-size="5.6" fill="#E8262A" stroke="#E8262A" stroke-width="0.16" text-anchor="middle" font-family="'Liberation Sans', Arial, sans-serif" font-weight="bold" dominant-baseline="central" transform="rotate(-90 147.00 220.00)">DepMap</text>
<text x="196.40" y="264.80" font-size="5.4" fill="#222" stroke="#222" stroke-width="0.16" text-anchor="middle" font-family="'Liberation Sans', Arial, sans-serif" font-weight="bold" dominant-baseline="central">Number</text>
<rect x="277.7" y="33.1" width="4.75" height="4.6" fill="#fff" stroke="none"/>
<rect x="277.7" y="37.7" width="9.51" height="4.6" fill="#fff" stroke="none"/>
<rect x="277.7" y="42.3" width="14.27" height="4.6" fill="#fff" stroke="none"/>
<rect x="277.7" y="46.9" width="19.02" height="4.6" fill="#fff" stroke="none"/>
<rect x="277.7" y="51.5" width="23.77" height="4.6" fill="#fff" stroke="none"/>
<rect x="277.7" y="56.1" width="28.53" height="4.6" fill="#fff" stroke="none"/>
<rect x="277.7" y="60.7" width="33.28" height="4.6" fill="#fff" stroke="none"/>
<rect x="277.7" y="65.3" width="38.04" height="4.6" fill="#fff" stroke="none"/>
<rect x="277.7" y="69.9" width="42.8" height="4.6" fill="#fff" stroke="none"/>
<rect x="277.7" y="74.5" width="47.55" height="4.6" fill="#fff" stroke="none"/>
<rect x="277.7" y="79.1" width="52.3" height="4.6" fill="#fff" stroke="none"/>
<rect x="277.7" y="83.7" width="57.06" height="4.6" fill="#fff" stroke="none"/>
<rect x="277.7" y="88.3" width="61.81" height="4.6" fill="#fff" stroke="none"/>
<rect x="277.7" y="92.9" width="66.57" height="4.6" fill="#fff" stroke="none"/>
<rect x="277.7" y="97.5" width="71.33" height="4.6" fill="#fff" stroke="none"/>
<rect x="277.7" y="102.1" width="76.08" height="4.6" fill="#fff" stroke="none"/>
<rect x="277.7" y="106.7" width="80.83" height="4.6" fill="#fff" stroke="none"/>
<rect x="277.7" y="111.3" width="85.59" height="4.6" fill="#fff" stroke="none"/>
<rect x="277.7" y="115.9" width="90.34" height="4.6" fill="#fff" stroke="none"/>
<rect x="277.7" y="120.5" width="95.1" height="4.6" fill="#fff" stroke="none"/>
<rect x="277.7" y="125.1" width="99.86" height="4.6" fill="#fff" stroke="none"/>
<rect x="277.7" y="129.7" width="104.61" height="4.6" fill="#fff" stroke="none"/>
<rect x="277.7" y="134.3" width="109.36" height="4.6" fill="#fff" stroke="none"/>
<rect x="277.7" y="138.9" width="114.12" height="4.6" fill="#fff" stroke="none"/>
<rect x="277.7" y="143.5" width="118.88" height="4.6" fill="#fff" stroke="none"/>
<rect x="277.7" y="148.1" width="123.63" height="4.6" fill="#fff" stroke="none"/>
<rect x="277.7" y="152.7" width="128.38" height="4.6" fill="#fff" stroke="none"/>
<rect x="277.7" y="157.3" width="133.14" height="4.6" fill="#fff" stroke="none"/>
<rect x="277.7" y="161.9" width="137.9" height="4.6" fill="#fff" stroke="none"/>
<rect x="277.7" y="166.5" width="142.65" height="4.6" fill="#fff" stroke="none"/>
<rect x="277.7" y="171.1" width="147.41" height="4.6" fill="#fff" stroke="none"/>
<rect x="277.7" y="175.7" width="152.16" height="4.6" fill="#fff" stroke="none"/>
<rect x="277.7" y="180.3" width="156.91" height="4.6" fill="#fff" stroke="none"/>
<rect x="277.7" y="184.9" width="161.67" height="4.6" fill="#fff" stroke="none"/>
<rect x="277.7" y="189.5" width="166.42" height="4.6" fill="#fff" stroke="none"/>
<rect x="277.7" y="194.1" width="171.18" height="4.6" fill="#fff" stroke="none"/>
<rect x="277.7" y="198.7" width="175.94" height="4.6" fill="#fff" stroke="none"/>
<rect x="277.7" y="203.3" width="180.69" height="4.6" fill="#fff" stroke="none"/>
<rect x="277.7" y="207.9" width="185.44" height="4.6" fill="#fff" stroke="none"/>
<rect x="277.7" y="212.5" width="190.2" height="4.6" fill="#fff" stroke="none"/>
<rect x="277.7" y="217.1" width="194.95" height="4.6" fill="#fff" stroke="none"/>
<rect x="277.7" y="221.7" width="199.71" height="4.6" fill="#fff" stroke="none"/>
<rect x="277.7" y="226.3" width="204.47" height="4.6" fill="#fff" stroke="none"/>
<rect x="277.7" y="230.9" width="209.22" height="4.6" fill="#fff" stroke="none"/>
<rect x="277.7" y="235.5" width="213.97" height="4.6" fill="#fff" stroke="none"/>
<rect x="277.7" y="240.1" width="218.73" height="4.6" fill="#fff" stroke="none"/>
<rect x="277.7" y="244.7" width="223.48" height="4.6" fill="#fff" stroke="none"/>
<rect x="277.7" y="249.3" width="228.24" height="4.6" fill="#fff" stroke="none"/>
<path d="M277.70 33.10H282.45M277.70 37.70H287.21M277.70 42.30H291.96M277.70 46.90H296.72M277.70 51.50H301.47M277.70 56.10H306.23M277.70 60.70H310.99M277.70 65.30H315.74M277.70 69.90H320.50M277.70 74.50H325.25M277.70 79.10H330.00M277.70 83.70H334.76M277.70 88.30H339.51M277.70 92.90H344.27M277.70 97.50H349.02M277.70 102.10H353.78M277.70 106.70H358.53M277.70 111.30H363.29M277.70 115.90H368.04M277.70 120.50H372.80M277.70 125.10H377.56M277.70 129.70H382.31M277.70 134.30H387.06M277.70 138.90H391.82M277.70 143.50H396.57M277.70 148.10H401.33M277.70 152.70H406.08M277.70 157.30H410.84M277.70 161.90H415.60M277.70 166.50H420.35M277.70 171.10H425.11M277.70 175.70H429.86M277.70 180.30H434.62M277.70 184.90H439.37M277.70 189.50H444.12M277.70 194.10H448.88M277.70 198.70H453.63M277.70 203.30H458.39M277.70 207.90H463.14M277.70 212.50H467.90M277.70 217.10H472.65M277.70 221.70H477.41M277.70 226.30H482.16M277.70 230.90H486.92M277.70 235.50H491.67M277.70 240.10H496.43M277.70 244.70H501.18M277.70 249.30H505.94M277.70 253.90H505.94M277.70 33.10V253.90M282.45 33.10V253.90M287.21 37.70V253.90M291.96 42.30V253.90M296.72 46.90V253.90M301.47 51.50V253.90M306.23 56.10V253.90M310.99 60.70V253.90M315.74 65.30V253.90M320.50 69.90V253.90M325.25 74.50V253.90M330.00 79.10V253.90M334.76 83.70V253.90M339.51 88.30V253.90M344.27 92.90V253.90M349.02 97.50V253.90M353.78 102.10V253.90M358.53 106.70V253.90M363.29 111.30V253.90M368.04 115.90V253.90M372.80 120.50V253.90M377.56 125.10V253.90M382.31 129.70V253.90M387.06 134.30V253.90M391.82 138.90V253.90M396.57 143.50V253.90M401.33 148.10V253.90M406.08 152.70V253.90M410.84 157.30V253.90M415.60 161.90V253.90M420.35 166.50V253.90M425.11 171.10V253.90M429.86 175.70V253.90M434.62 180.30V253.90M439.37 184.90V253.90M444.12 189.50V253.90M448.88 194.10V253.90M453.63 198.70V253.90M458.39 203.30V253.90M463.14 207.90V253.90M467.90 212.50V253.90M472.65 217.10V253.90M477.41 221.70V253.90M482.16 226.30V253.90M486.92 230.90V253.90M491.67 235.50V253.90M496.43 240.10V253.90M501.18 244.70V253.90M505.94 249.30V253.90" stroke="#CFCFCF" stroke-width="0.35" fill="none"/>
<rect x="278.2" y="65.8" width="3.75" height="3.6" fill="#0000E6"/>
<rect x="287.71" y="65.8" width="3.75" height="3.6" fill="#7070F2"/>
<rect x="292.46" y="65.8" width="3.75" height="3.6" fill="#7070F2"/>
<rect x="306.73" y="65.8" width="3.75" height="3.6" fill="#9C9CF3"/>
<rect x="278.2" y="70.4" width="3.75" height="3.6" fill="#9C9CF3"/>
<rect x="297.22" y="75" width="3.75" height="3.6" fill="#9C9CF3"/>
<rect x="282.95" y="79.6" width="3.75" height="3.6" fill="#F47F7F"/>
<rect x="278.2" y="84.2" width="3.75" height="3.6" fill="#7070F2"/>
<rect x="287.71" y="84.2" width="3.75" height="3.6" fill="#7070F2"/>
<rect x="311.49" y="84.2" width="3.75" height="3.6" fill="#7070F2"/>
<rect x="316.24" y="84.2" width="3.75" height="3.6" fill="#9C9CF3"/>
<rect x="282.95" y="98" width="3.75" height="3.6" fill="#F47F7F"/>
<rect x="278.2" y="102.6" width="3.75" height="3.6" fill="#5252F0"/>
<rect x="311.49" y="102.6" width="3.75" height="3.6" fill="#5252F0"/>
<rect x="325.75" y="111.8" width="3.75" height="3.6" fill="#F47F7F"/>
<rect x="282.95" y="116.4" width="3.75" height="3.6" fill="#F47F7F"/>
<rect x="340.01" y="116.4" width="3.75" height="3.6" fill="#F47F7F"/>
<rect x="344.77" y="116.4" width="3.75" height="3.6" fill="#F47F7F"/>
<rect x="301.97" y="121" width="3.75" height="3.6" fill="#F47F7F"/>
<rect x="335.26" y="121" width="3.75" height="3.6" fill="#F47F7F"/>
<rect x="354.28" y="121" width="3.75" height="3.6" fill="#F47F7F"/>
<rect x="278.2" y="125.6" width="3.75" height="3.6" fill="#7070F2"/>
<rect x="287.71" y="125.6" width="3.75" height="3.6" fill="#7070F2"/>
<rect x="278.2" y="130.2" width="3.75" height="3.6" fill="#9C9CF3"/>
<rect x="311.49" y="130.2" width="3.75" height="3.6" fill="#9C9CF3"/>
<rect x="321" y="134.8" width="3.75" height="3.6" fill="#9C9CF3"/>
<rect x="282.95" y="139.4" width="3.75" height="3.6" fill="#F47F7F"/>
<rect x="278.2" y="144" width="3.75" height="3.6" fill="#3434EE"/>
<rect x="287.71" y="144" width="3.75" height="3.6" fill="#7070F2"/>
<rect x="292.46" y="144" width="3.75" height="3.6" fill="#7070F2"/>
<rect x="311.49" y="144" width="3.75" height="3.6" fill="#5252F0"/>
<rect x="278.2" y="148.6" width="3.75" height="3.6" fill="#7070F2"/>
<rect x="287.71" y="148.6" width="3.75" height="3.6" fill="#9C9CF3"/>
<rect x="311.49" y="148.6" width="3.75" height="3.6" fill="#9C9CF3"/>
<rect x="368.54" y="153.2" width="3.75" height="3.6" fill="#F47F7F"/>
<rect x="368.54" y="157.8" width="3.75" height="3.6" fill="#F47F7F"/>
<rect x="368.54" y="167" width="3.75" height="3.6" fill="#F47F7F"/>
<rect x="278.2" y="171.6" width="3.75" height="3.6" fill="#5252F0"/>
<rect x="287.71" y="171.6" width="3.75" height="3.6" fill="#7070F2"/>
<rect x="278.2" y="176.2" width="3.75" height="3.6" fill="#9C9CF3"/>
<rect x="278.2" y="180.8" width="3.75" height="3.6" fill="#9C9CF3"/>
<rect x="278.2" y="185.4" width="3.75" height="3.6" fill="#5252F0"/>
<rect x="287.71" y="185.4" width="3.75" height="3.6" fill="#7070F2"/>
<rect x="292.46" y="185.4" width="3.75" height="3.6" fill="#7070F2"/>
<rect x="311.49" y="185.4" width="3.75" height="3.6" fill="#5252F0"/>
<rect x="278.2" y="190" width="3.75" height="3.6" fill="#7070F2"/>
<rect x="278.2" y="194.6" width="3.75" height="3.6" fill="#9C9CF3"/>
<rect x="278.2" y="199.2" width="3.75" height="3.6" fill="#9C9CF3"/>
<rect x="368.54" y="203.8" width="3.75" height="3.6" fill="#F47F7F"/>
<rect x="278.2" y="208.4" width="3.75" height="3.6" fill="#7070F2"/>
<rect x="287.71" y="208.4" width="3.75" height="3.6" fill="#7070F2"/>
<rect x="411.34" y="213" width="3.75" height="3.6" fill="#7070F2"/>
<rect x="297.22" y="217.6" width="3.75" height="3.6" fill="#7070F2"/>
<rect x="321" y="217.6" width="3.75" height="3.6" fill="#7070F2"/>
<rect x="382.81" y="217.6" width="3.75" height="3.6" fill="#7070F2"/>
<rect x="278.2" y="222.2" width="3.75" height="3.6" fill="#3434EE"/>
<rect x="287.71" y="222.2" width="3.75" height="3.6" fill="#7070F2"/>
<rect x="311.49" y="222.2" width="3.75" height="3.6" fill="#7070F2"/>
<rect x="349.52" y="222.2" width="3.75" height="3.6" fill="#7070F2"/>
<rect x="435.12" y="222.2" width="3.75" height="3.6" fill="#7070F2"/>
<rect x="282.95" y="226.8" width="3.75" height="3.6" fill="#F47F7F"/>
<rect x="278.2" y="231.4" width="3.75" height="3.6" fill="#7070F2"/>
<rect x="287.71" y="231.4" width="3.75" height="3.6" fill="#7070F2"/>
<rect x="311.49" y="231.4" width="3.75" height="3.6" fill="#7070F2"/>
<rect x="282.95" y="236" width="3.75" height="3.6" fill="#F47F7F"/>
<rect x="325.75" y="240.6" width="3.75" height="3.6" fill="#F47F7F"/>
<rect x="278.2" y="245.2" width="3.75" height="3.6" fill="#9C9CF3"/>
<rect x="311.49" y="245.2" width="3.75" height="3.6" fill="#9C9CF3"/>
<rect x="278.2" y="249.8" width="3.75" height="3.6" fill="#3434EE"/>
<rect x="287.71" y="249.8" width="3.75" height="3.6" fill="#7070F2"/>
<rect x="292.46" y="249.8" width="3.75" height="3.6" fill="#7070F2"/>
<rect x="311.49" y="249.8" width="3.75" height="3.6" fill="#5252F0"/>
<rect x="392.32" y="249.8" width="3.75" height="3.6" fill="#7070F2"/>
<rect x="420.85" y="249.8" width="3.75" height="3.6" fill="#7070F2"/>
<rect x="435.12" y="249.8" width="3.75" height="3.6" fill="#7070F2"/>
<path d="M276.68 43.20H283.48L280.08 48.70Z" fill="#2020EA" stroke="#2E2E3E" stroke-width="1.0" stroke-linejoin="round"/>
<path d="M276.68 47.80H283.48L280.08 53.30Z" fill="#4646E6" stroke="#2E2E3E" stroke-width="1.0" stroke-linejoin="round"/>
<path d="M286.19 47.80H292.99L289.59 53.30Z" fill="#6666E6" stroke="#2E2E3E" stroke-width="1.0" stroke-linejoin="round"/>
<path d="M276.68 61.60H283.48L280.08 67.10Z" fill="#6060E8" stroke="#2E2E3E" stroke-width="1.0" stroke-linejoin="round"/>
<path d="M309.96 70.80H316.76L313.36 76.30Z" fill="#6A6AE8" stroke="#2E2E3E" stroke-width="1.0" stroke-linejoin="round"/>
<text x="275.60" y="35.40" font-size="4.35" fill="#3a3a3a" stroke="#3a3a3a" stroke-width="0.05" text-anchor="end" font-family="'Liberation Sans', Arial, sans-serif" dominant-baseline="central">1:6257785 (RPL22)</text>
<text x="275.60" y="40.00" font-size="4.35" fill="#3a3a3a" stroke="#3a3a3a" stroke-width="0.05" text-anchor="end" font-family="'Liberation Sans', Arial, sans-serif" dominant-baseline="central">1:161642774 (FCGR2B)</text>
<text x="275.60" y="44.60" font-size="4.35" fill="#3a3a3a" stroke="#3a3a3a" stroke-width="0.05" text-anchor="end" font-family="'Liberation Sans', Arial, sans-serif" dominant-baseline="central">1:200594042 (DDX59)</text>
<text x="275.60" y="49.20" font-size="4.35" fill="#3a3a3a" stroke="#3a3a3a" stroke-width="0.05" text-anchor="end" font-family="'Liberation Sans', Arial, sans-serif" dominant-baseline="central">1:24078404 (TCEB3)</text>
<text x="275.60" y="53.80" font-size="4.35" fill="#3a3a3a" stroke="#3a3a3a" stroke-width="0.05" text-anchor="end" font-family="'Liberation Sans', Arial, sans-serif" dominant-baseline="central">1:223176250 (DISP1)</text>
<text x="275.60" y="58.40" font-size="4.35" fill="#3a3a3a" stroke="#3a3a3a" stroke-width="0.05" text-anchor="end" font-family="'Liberation Sans', Arial, sans-serif" dominant-baseline="central">1:16894523 (NBPF1)</text>
<text x="275.60" y="63.00" font-size="4.35" fill="#3a3a3a" stroke="#3a3a3a" stroke-width="0.05" text-anchor="end" font-family="'Liberation Sans', Arial, sans-serif" dominant-baseline="central">1:204228411 (PLEKHA6)</text>
<text x="275.60" y="67.60" font-size="4.35" fill="#3a3a3a" stroke="#3a3a3a" stroke-width="0.05" text-anchor="end" font-family="'Liberation Sans', Arial, sans-serif" dominant-baseline="central">2:148653686 (ACVR2A)</text>
<text x="275.60" y="72.20" font-size="4.35" fill="#3a3a3a" stroke="#3a3a3a" stroke-width="0.05" text-anchor="end" font-family="'Liberation Sans', Arial, sans-serif" dominant-baseline="central">2:203420130 (BMPR2)</text>
<text x="275.60" y="76.80" font-size="4.35" fill="#3a3a3a" stroke="#3a3a3a" stroke-width="0.05" text-anchor="end" font-family="'Liberation Sans', Arial, sans-serif" dominant-baseline="central">2:152128240 (NMI)</text>
<text x="275.60" y="81.40" font-size="4.35" fill="#3a3a3a" stroke="#3a3a3a" stroke-width="0.05" text-anchor="end" font-family="'Liberation Sans', Arial, sans-serif" dominant-baseline="central">2:230914804 (SLC16A14)</text>
<text x="275.60" y="86.00" font-size="4.35" fill="#3a3a3a" stroke="#3a3a3a" stroke-width="0.05" text-anchor="end" font-family="'Liberation Sans', Arial, sans-serif" dominant-baseline="central">3:51417604 (DOCK3)</text>
<text x="275.60" y="90.60" font-size="4.35" fill="#3a3a3a" stroke="#3a3a3a" stroke-width="0.05" text-anchor="end" font-family="'Liberation Sans', Arial, sans-serif" dominant-baseline="central">3:195507324 (MUC4)</text>
<text x="275.60" y="95.20" font-size="4.35" fill="#3a3a3a" stroke="#3a3a3a" stroke-width="0.05" text-anchor="end" font-family="'Liberation Sans', Arial, sans-serif" dominant-baseline="central">3:184104344 (CHRD)</text>
<text x="275.60" y="99.80" font-size="4.35" fill="#3a3a3a" stroke="#3a3a3a" stroke-width="0.05" text-anchor="end" font-family="'Liberation Sans', Arial, sans-serif" dominant-baseline="central">3:102181200 (ZPLD1)</text>
<text x="275.60" y="104.40" font-size="4.35" fill="#3a3a3a" stroke="#3a3a3a" stroke-width="0.05" text-anchor="end" font-family="'Liberation Sans', Arial, sans-serif" dominant-baseline="central">5:36985063 (NIPBL)</text>
<text x="275.60" y="109.00" font-size="4.35" fill="#3a3a3a" stroke="#3a3a3a" stroke-width="0.05" text-anchor="end" font-family="'Liberation Sans', Arial, sans-serif" dominant-baseline="central">6:10410472 (TFAP2A)</text>
<text x="275.60" y="113.60" font-size="4.35" fill="#3a3a3a" stroke="#3a3a3a" stroke-width="0.05" text-anchor="end" font-family="'Liberation Sans', Arial, sans-serif" dominant-baseline="central">6:83892687 (PGM3)</text>
<text x="275.60" y="118.20" font-size="4.35" fill="#3a3a3a" stroke="#3a3a3a" stroke-width="0.05" text-anchor="end" font-family="'Liberation Sans', Arial, sans-serif" dominant-baseline="central">6:150263287 (ULBP2)</text>
<text x="275.60" y="122.80" font-size="4.35" fill="#3a3a3a" stroke="#3a3a3a" stroke-width="0.05" text-anchor="end" font-family="'Liberation Sans', Arial, sans-serif" dominant-baseline="central">7:140453136 (BRAF)</text>
<text x="275.60" y="127.40" font-size="4.35" fill="#3a3a3a" stroke="#3a3a3a" stroke-width="0.05" text-anchor="end" font-family="'Liberation Sans', Arial, sans-serif" dominant-baseline="central">7:100479032 (SRRT)</text>
<text x="275.60" y="132.00" font-size="4.35" fill="#3a3a3a" stroke="#3a3a3a" stroke-width="0.05" text-anchor="end" font-family="'Liberation Sans', Arial, sans-serif" dominant-baseline="central">7:100802405 (AP1S1)</text>
<text x="275.60" y="136.60" font-size="4.35" fill="#3a3a3a" stroke="#3a3a3a" stroke-width="0.05" text-anchor="end" font-family="'Liberation Sans', Arial, sans-serif" dominant-baseline="central">7:11022323 (PHF14)</text>
<text x="275.60" y="141.20" font-size="4.35" fill="#3a3a3a" stroke="#3a3a3a" stroke-width="0.05" text-anchor="end" font-family="'Liberation Sans', Arial, sans-serif" dominant-baseline="central">7:20198700 (MACC1)</text>
<text x="275.60" y="145.80" font-size="4.35" fill="#3a3a3a" stroke="#3a3a3a" stroke-width="0.05" text-anchor="end" font-family="'Liberation Sans', Arial, sans-serif" dominant-baseline="central">8:95666611 (ESRP1)</text>
<text x="275.60" y="150.40" font-size="4.35" fill="#3a3a3a" stroke="#3a3a3a" stroke-width="0.05" text-anchor="end" font-family="'Liberation Sans', Arial, sans-serif" dominant-baseline="central">8:103289349 (UBR5)</text>
<text x="275.60" y="155.00" font-size="4.35" fill="#3a3a3a" stroke="#3a3a3a" stroke-width="0.05" text-anchor="end" font-family="'Liberation Sans', Arial, sans-serif" dominant-baseline="central">8:17014282 (ZDHHC2)</text>
<text x="275.60" y="159.60" font-size="4.35" fill="#3a3a3a" stroke="#3a3a3a" stroke-width="0.05" text-anchor="end" font-family="'Liberation Sans', Arial, sans-serif" dominant-baseline="central">9:70177269 (FOXD4L5)</text>
<text x="275.60" y="164.20" font-size="4.35" fill="#3a3a3a" stroke="#3a3a3a" stroke-width="0.05" text-anchor="end" font-family="'Liberation Sans', Arial, sans-serif" dominant-baseline="central">10:28233229 (ARMC4)</text>
<text x="275.60" y="168.80" font-size="4.35" fill="#3a3a3a" stroke="#3a3a3a" stroke-width="0.05" text-anchor="end" font-family="'Liberation Sans', Arial, sans-serif" dominant-baseline="central">10:88476170 (LDB3)</text>
<text x="275.60" y="173.40" font-size="4.35" fill="#3a3a3a" stroke="#3a3a3a" stroke-width="0.05" text-anchor="end" font-family="'Liberation Sans', Arial, sans-serif" dominant-baseline="central">10:111893350 (ADD3)</text>
<text x="275.60" y="178.00" font-size="4.35" fill="#3a3a3a" stroke="#3a3a3a" stroke-width="0.05" text-anchor="end" font-family="'Liberation Sans', Arial, sans-serif" dominant-baseline="central">10:98336475 (TM9SF3)</text>
<text x="275.60" y="182.60" font-size="4.35" fill="#3a3a3a" stroke="#3a3a3a" stroke-width="0.05" text-anchor="end" font-family="'Liberation Sans', Arial, sans-serif" dominant-baseline="central">10:64159513 (ZNF365)</text>
<text x="275.60" y="187.20" font-size="4.35" fill="#3a3a3a" stroke="#3a3a3a" stroke-width="0.05" text-anchor="end" font-family="'Liberation Sans', Arial, sans-serif" dominant-baseline="central">11:33637520 (CCDC73)</text>
<text x="275.60" y="191.80" font-size="4.35" fill="#3a3a3a" stroke="#3a3a3a" stroke-width="0.05" text-anchor="end" font-family="'Liberation Sans', Arial, sans-serif" dominant-baseline="central">11:4703475 (OR51E2)</text>
<text x="275.60" y="196.40" font-size="4.35" fill="#3a3a3a" stroke="#3a3a3a" stroke-width="0.05" text-anchor="end" font-family="'Liberation Sans', Arial, sans-serif" dominant-baseline="central">12:57422573 (MYO1A)</text>
<text x="275.60" y="201.00" font-size="4.35" fill="#3a3a3a" stroke="#3a3a3a" stroke-width="0.05" text-anchor="end" font-family="'Liberation Sans', Arial, sans-serif" dominant-baseline="central">12:48458896 (SENP1)</text>
<text x="275.60" y="205.60" font-size="4.35" fill="#3a3a3a" stroke="#3a3a3a" stroke-width="0.05" text-anchor="end" font-family="'Liberation Sans', Arial, sans-serif" dominant-baseline="central">15:55676318 (GDCC4)</text>
<text x="275.60" y="210.20" font-size="4.35" fill="#3a3a3a" stroke="#3a3a3a" stroke-width="0.05" text-anchor="end" font-family="'Liberation Sans', Arial, sans-serif" dominant-baseline="central">16:4862228 (GLYR1)</text>
<text x="275.60" y="214.80" font-size="4.35" fill="#3a3a3a" stroke="#3a3a3a" stroke-width="0.05" text-anchor="end" font-family="'Liberation Sans', Arial, sans-serif" dominant-baseline="central">16:67683416 (RLTPR)</text>
<text x="275.60" y="219.40" font-size="4.35" fill="#3a3a3a" stroke="#3a3a3a" stroke-width="0.05" text-anchor="end" font-family="'Liberation Sans', Arial, sans-serif" dominant-baseline="central">17:39724451 (KRT9)</text>
<text x="275.60" y="224.00" font-size="4.35" fill="#3a3a3a" stroke="#3a3a3a" stroke-width="0.05" text-anchor="end" font-family="'Liberation Sans', Arial, sans-serif" dominant-baseline="central">17:48433967 (XYLT2)</text>
<text x="275.60" y="228.60" font-size="4.35" fill="#3a3a3a" stroke="#3a3a3a" stroke-width="0.05" text-anchor="end" font-family="'Liberation Sans', Arial, sans-serif" dominant-baseline="central">17:7806071 (CHD3)</text>
<text x="275.60" y="233.20" font-size="4.35" fill="#3a3a3a" stroke="#3a3a3a" stroke-width="0.05" text-anchor="end" font-family="'Liberation Sans', Arial, sans-serif" dominant-baseline="central">17:56435161 (RNF43)</text>
<text x="275.60" y="237.80" font-size="4.35" fill="#3a3a3a" stroke="#3a3a3a" stroke-width="0.05" text-anchor="end" font-family="'Liberation Sans', Arial, sans-serif" dominant-baseline="central">7:48692787 (CACNA1G)</text>
<text x="275.60" y="242.40" font-size="4.35" fill="#3a3a3a" stroke="#3a3a3a" stroke-width="0.05" text-anchor="end" font-family="'Liberation Sans', Arial, sans-serif" dominant-baseline="central">19:10935797 (DNM2)</text>
<text x="275.60" y="247.00" font-size="4.35" fill="#3a3a3a" stroke="#3a3a3a" stroke-width="0.05" text-anchor="end" font-family="'Liberation Sans', Arial, sans-serif" dominant-baseline="central">19:49850473 (TEAD2)</text>
<text x="275.60" y="251.60" font-size="4.35" fill="#3a3a3a" stroke="#3a3a3a" stroke-width="0.05" text-anchor="end" font-family="'Liberation Sans', Arial, sans-serif" dominant-baseline="central">20:47656504 (DDX27)</text>
<text x="280.45" y="30.50" font-size="4.35" fill="#3a3a3a" stroke="#3a3a3a" stroke-width="0.05" font-family="'Liberation Sans', Arial, sans-serif" dominant-baseline="central" transform="rotate(-28 280.45 30.50)">1:6257785 (RPL22)</text>
<text x="285.21" y="35.10" font-size="4.35" fill="#3a3a3a" stroke="#3a3a3a" stroke-width="0.05" font-family="'Liberation Sans', Arial, sans-serif" dominant-baseline="central" transform="rotate(-28 285.21 35.10)">1:161642774 (FCGR2B)</text>
<text x="289.96" y="39.70" font-size="4.35" fill="#3a3a3a" stroke="#3a3a3a" stroke-width="0.05" font-family="'Liberation Sans', Arial, sans-serif" dominant-baseline="central" transform="rotate(-28 289.96 39.70)">1:200594042 (DDX59)</text>
<text x="294.72" y="44.30" font-size="4.35" fill="#3a3a3a" stroke="#3a3a3a" stroke-width="0.05" font-family="'Liberation Sans', Arial, sans-serif" dominant-baseline="central" transform="rotate(-28 294.72 44.30)">1:24078404 (TCEB3)</text>
<text x="299.47" y="48.90" font-size="4.35" fill="#3a3a3a" stroke="#3a3a3a" stroke-width="0.05" font-family="'Liberation Sans', Arial, sans-serif" dominant-baseline="central" transform="rotate(-28 299.47 48.90)">1:223176250 (DISP1)</text>
<text x="304.23" y="53.50" font-size="4.35" fill="#3a3a3a" stroke="#3a3a3a" stroke-width="0.05" font-family="'Liberation Sans', Arial, sans-serif" dominant-baseline="central" transform="rotate(-28 304.23 53.50)">1:16894523 (NBPF1)</text>
<text x="308.99" y="58.10" font-size="4.35" fill="#3a3a3a" stroke="#3a3a3a" stroke-width="0.05" font-family="'Liberation Sans', Arial, sans-serif" dominant-baseline="central" transform="rotate(-28 308.99 58.10)">1:204228411 (PLEKHA6)</text>
<text x="313.74" y="62.70" font-size="4.35" fill="#3a3a3a" stroke="#3a3a3a" stroke-width="0.05" font-family="'Liberation Sans', Arial, sans-serif" dominant-baseline="central" transform="rotate(-28 313.74 62.70)">2:148653686 (ACVR2A)</text>
<text x="318.50" y="67.30" font-size="4.35" fill="#3a3a3a" stroke="#3a3a3a" stroke-width="0.05" font-family="'Liberation Sans', Arial, sans-serif" dominant-baseline="central" transform="rotate(-28 318.50 67.30)">2:203420130 (BMPR2)</text>
<text x="323.25" y="71.90" font-size="4.35" fill="#3a3a3a" stroke="#3a3a3a" stroke-width="0.05" font-family="'Liberation Sans', Arial, sans-serif" dominant-baseline="central" transform="rotate(-28 323.25 71.90)">2:152128240 (NMI)</text>
<text x="328.00" y="76.50" font-size="4.35" fill="#3a3a3a" stroke="#3a3a3a" stroke-width="0.05" font-family="'Liberation Sans', Arial, sans-serif" dominant-baseline="central" transform="rotate(-28 328.00 76.50)">2:230914804 (SLC16A14)</text>
<text x="332.76" y="81.10" font-size="4.35" fill="#3a3a3a" stroke="#3a3a3a" stroke-width="0.05" font-family="'Liberation Sans', Arial, sans-serif" dominant-baseline="central" transform="rotate(-28 332.76 81.10)">3:51417604 (DOCK3)</text>
<text x="337.51" y="85.70" font-size="4.35" fill="#3a3a3a" stroke="#3a3a3a" stroke-width="0.05" font-family="'Liberation Sans', Arial, sans-serif" dominant-baseline="central" transform="rotate(-28 337.51 85.70)">3:195507324 (MUC4)</text>
<text x="342.27" y="90.30" font-size="4.35" fill="#3a3a3a" stroke="#3a3a3a" stroke-width="0.05" font-family="'Liberation Sans', Arial, sans-serif" dominant-baseline="central" transform="rotate(-28 342.27 90.30)">3:184104344 (CHRD)</text>
<text x="347.02" y="94.90" font-size="4.35" fill="#3a3a3a" stroke="#3a3a3a" stroke-width="0.05" font-family="'Liberation Sans', Arial, sans-serif" dominant-baseline="central" transform="rotate(-28 347.02 94.90)">3:102181200 (ZPLD1)</text>
<text x="351.78" y="99.50" font-size="4.35" fill="#3a3a3a" stroke="#3a3a3a" stroke-width="0.05" font-family="'Liberation Sans', Arial, sans-serif" dominant-baseline="central" transform="rotate(-28 351.78 99.50)">5:36985063 (NIPBL)</text>
<text x="356.53" y="104.10" font-size="4.35" fill="#3a3a3a" stroke="#3a3a3a" stroke-width="0.05" font-family="'Liberation Sans', Arial, sans-serif" dominant-baseline="central" transform="rotate(-28 356.53 104.10)">6:10410472 (TFAP2A)</text>
<text x="361.29" y="108.70" font-size="4.35" fill="#3a3a3a" stroke="#3a3a3a" stroke-width="0.05" font-family="'Liberation Sans', Arial, sans-serif" dominant-baseline="central" transform="rotate(-28 361.29 108.70)">6:83892687 (PGM3)</text>
<text x="366.04" y="113.30" font-size="4.35" fill="#3a3a3a" stroke="#3a3a3a" stroke-width="0.05" font-family="'Liberation Sans', Arial, sans-serif" dominant-baseline="central" transform="rotate(-28 366.04 113.30)">6:150263287 (ULBP2)</text>
<text x="370.80" y="117.90" font-size="4.35" fill="#3a3a3a" stroke="#3a3a3a" stroke-width="0.05" font-family="'Liberation Sans', Arial, sans-serif" dominant-baseline="central" transform="rotate(-28 370.80 117.90)">7:140453136 (BRAF)</text>
<text x="375.56" y="122.50" font-size="4.35" fill="#3a3a3a" stroke="#3a3a3a" stroke-width="0.05" font-family="'Liberation Sans', Arial, sans-serif" dominant-baseline="central" transform="rotate(-28 375.56 122.50)">7:100479032 (SRRT)</text>
<text x="380.31" y="127.10" font-size="4.35" fill="#3a3a3a" stroke="#3a3a3a" stroke-width="0.05" font-family="'Liberation Sans', Arial, sans-serif" dominant-baseline="central" transform="rotate(-28 380.31 127.10)">7:100802405 (AP1S1)</text>
<text x="385.06" y="131.70" font-size="4.35" fill="#3a3a3a" stroke="#3a3a3a" stroke-width="0.05" font-family="'Liberation Sans', Arial, sans-serif" dominant-baseline="central" transform="rotate(-28 385.06 131.70)">7:11022323 (PHF14)</text>
<text x="389.82" y="136.30" font-size="4.35" fill="#3a3a3a" stroke="#3a3a3a" stroke-width="0.05" font-family="'Liberation Sans', Arial, sans-serif" dominant-baseline="central" transform="rotate(-28 389.82 136.30)">7:20198700 (MACC1)</text>
<text x="394.57" y="140.90" font-size="4.35" fill="#3a3a3a" stroke="#3a3a3a" stroke-width="0.05" font-family="'Liberation Sans', Arial, sans-serif" dominant-baseline="central" transform="rotate(-28 394.57 140.90)">8:95666611 (ESRP1)</text>
<text x="399.33" y="145.50" font-size="4.35" fill="#3a3a3a" stroke="#3a3a3a" stroke-width="0.05" font-family="'Liberation Sans', Arial, sans-serif" dominant-baseline="central" transform="rotate(-28 399.33 145.50)">8:103289349 (UBR5)</text>
<text x="404.08" y="150.10" font-size="4.35" fill="#3a3a3a" stroke="#3a3a3a" stroke-width="0.05" font-family="'Liberation Sans', Arial, sans-serif" dominant-baseline="central" transform="rotate(-28 404.08 150.10)">8:17014282 (ZDHHC2)</text>
<text x="408.84" y="154.70" font-size="4.35" fill="#3a3a3a" stroke="#3a3a3a" stroke-width="0.05" font-family="'Liberation Sans', Arial, sans-serif" dominant-baseline="central" transform="rotate(-28 408.84 154.70)">9:70177269 (FOXD4L5)</text>
<text x="413.60" y="159.30" font-size="4.35" fill="#3a3a3a" stroke="#3a3a3a" stroke-width="0.05" font-family="'Liberation Sans', Arial, sans-serif" dominant-baseline="central" transform="rotate(-28 413.60 159.30)">10:28233229 (ARMC4)</text>
<text x="418.35" y="163.90" font-size="4.35" fill="#3a3a3a" stroke="#3a3a3a" stroke-width="0.05" font-family="'Liberation Sans', Arial, sans-serif" dominant-baseline="central" transform="rotate(-28 418.35 163.90)">10:88476170 (LDB3)</text>
<text x="423.11" y="168.50" font-size="4.35" fill="#3a3a3a" stroke="#3a3a3a" stroke-width="0.05" font-family="'Liberation Sans', Arial, sans-serif" dominant-baseline="central" transform="rotate(-28 423.11 168.50)">10:111893350 (ADD3)</text>
<text x="427.86" y="173.10" font-size="4.35" fill="#3a3a3a" stroke="#3a3a3a" stroke-width="0.05" font-family="'Liberation Sans', Arial, sans-serif" dominant-baseline="central" transform="rotate(-28 427.86 173.10)">10:98336475 (TM9SF3)</text>
<text x="432.62" y="177.70" font-size="4.35" fill="#3a3a3a" stroke="#3a3a3a" stroke-width="0.05" font-family="'Liberation Sans', Arial, sans-serif" dominant-baseline="central" transform="rotate(-28 432.62 177.70)">10:64159513 (ZNF365)</text>
<text x="437.37" y="182.30" font-size="4.35" fill="#3a3a3a" stroke="#3a3a3a" stroke-width="0.05" font-family="'Liberation Sans', Arial, sans-serif" dominant-baseline="central" transform="rotate(-28 437.37 182.30)">11:33637520 (CCDC73)</text>
<text x="442.12" y="186.90" font-size="4.35" fill="#3a3a3a" stroke="#3a3a3a" stroke-width="0.05" font-family="'Liberation Sans', Arial, sans-serif" dominant-baseline="central" transform="rotate(-28 442.12 186.90)">11:4703475 (OR51E2)</text>
<text x="446.88" y="191.50" font-size="4.35" fill="#3a3a3a" stroke="#3a3a3a" stroke-width="0.05" font-family="'Liberation Sans', Arial, sans-serif" dominant-baseline="central" transform="rotate(-28 446.88 191.50)">12:57422573 (MYO1A)</text>
<text x="451.63" y="196.10" font-size="4.35" fill="#3a3a3a" stroke="#3a3a3a" stroke-width="0.05" font-family="'Liberation Sans', Arial, sans-serif" dominant-baseline="central" transform="rotate(-28 451.63 196.10)">12:48458896 (SENP1)</text>
<text x="456.39" y="200.70" font-size="4.35" fill="#3a3a3a" stroke="#3a3a3a" stroke-width="0.05" font-family="'Liberation Sans', Arial, sans-serif" dominant-baseline="central" transform="rotate(-28 456.39 200.70)">15:55676318 (GDCC4)</text>
<text x="461.14" y="205.30" font-size="4.35" fill="#3a3a3a" stroke="#3a3a3a" stroke-width="0.05" font-family="'Liberation Sans', Arial, sans-serif" dominant-baseline="central" transform="rotate(-28 461.14 205.30)">16:4862228 (GLYR1)</text>
<text x="465.90" y="209.90" font-size="4.35" fill="#3a3a3a" stroke="#3a3a3a" stroke-width="0.05" font-family="'Liberation Sans', Arial, sans-serif" dominant-baseline="central" transform="rotate(-28 465.90 209.90)">16:67683416 (RLTPR)</text>
<text x="470.65" y="214.50" font-size="4.35" fill="#3a3a3a" stroke="#3a3a3a" stroke-width="0.05" font-family="'Liberation Sans', Arial, sans-serif" dominant-baseline="central" transform="rotate(-28 470.65 214.50)">17:39724451 (KRT9)</text>
<text x="475.41" y="219.10" font-size="4.35" fill="#3a3a3a" stroke="#3a3a3a" stroke-width="0.05" font-family="'Liberation Sans', Arial, sans-serif" dominant-baseline="central" transform="rotate(-28 475.41 219.10)">17:48433967 (XYLT2)</text>
<text x="480.16" y="223.70" font-size="4.35" fill="#3a3a3a" stroke="#3a3a3a" stroke-width="0.05" font-family="'Liberation Sans', Arial, sans-serif" dominant-baseline="central" transform="rotate(-28 480.16 223.70)">17:7806071 (CHD3)</text>
<text x="484.92" y="228.30" font-size="4.35" fill="#3a3a3a" stroke="#3a3a3a" stroke-width="0.05" font-family="'Liberation Sans', Arial, sans-serif" dominant-baseline="central" transform="rotate(-28 484.92 228.30)">17:56435161 (RNF43)</text>
<text x="489.67" y="232.90" font-size="4.35" fill="#3a3a3a" stroke="#3a3a3a" stroke-width="0.05" font-family="'Liberation Sans', Arial, sans-serif" dominant-baseline="central" transform="rotate(-28 489.67 232.90)">7:48692787 (CACNA1G)</text>
<text x="494.43" y="237.50" font-size="4.35" fill="#3a3a3a" stroke="#3a3a3a" stroke-width="0.05" font-family="'Liberation Sans', Arial, sans-serif" dominant-baseline="central" transform="rotate(-28 494.43 237.50)">19:10935797 (DNM2)</text>
<text x="499.18" y="242.10" font-size="4.35" fill="#3a3a3a" stroke="#3a3a3a" stroke-width="0.05" font-family="'Liberation Sans', Arial, sans-serif" dominant-baseline="central" transform="rotate(-28 499.18 242.10)">19:49850473 (TEAD2)</text>
<text x="503.94" y="246.70" font-size="4.35" fill="#3a3a3a" stroke="#3a3a3a" stroke-width="0.05" font-family="'Liberation Sans', Arial, sans-serif" dominant-baseline="central" transform="rotate(-28 503.94 246.70)">20:47656504 (DDX27)</text>
<defs><linearGradient id="gr" x1="0" x2="1" y1="0" y2="0"><stop offset="0" stop-color="#ffffff"/><stop offset="1" stop-color="#E8121A"/></linearGradient><linearGradient id="gb" x1="0" x2="1" y1="0" y2="0"><stop offset="0" stop-color="#ffffff"/><stop offset="1" stop-color="#1414D2"/></linearGradient></defs>
<text x="415.80" y="38.40" font-size="5.8" fill="#222" stroke="#222" stroke-width="0.16" text-anchor="start" font-family="'Liberation Serif', 'Times New Roman', serif" font-weight="bold" dominant-baseline="central">ICGC&#160;&#160;THCA-CN</text>
<rect x="415.5" y="41.5" width="108.5" height="4.2" fill="url(#gr)" stroke="#ccc" stroke-width="0.2"/>
<text x="382.60" y="50.70" font-size="5.6" fill="#111" stroke="#111" stroke-width="0.16" text-anchor="start" font-family="'Liberation Serif', 'Times New Roman', serif" font-weight="bold" dominant-baseline="central">Frequency</text>
<text x="416.30" y="53.00" font-size="5.0" fill="#222" stroke="#222" stroke-width="0.16" text-anchor="middle" font-family="'Liberation Serif', 'Times New Roman', serif" font-weight="bold" dominant-baseline="central">0</text>
<text x="437.30" y="53.00" font-size="5.0" fill="#222" stroke="#222" stroke-width="0.16" text-anchor="middle" font-family="'Liberation Serif', 'Times New Roman', serif" font-weight="bold" dominant-baseline="central">0.05</text>
<text x="458.90" y="53.00" font-size="5.0" fill="#222" stroke="#222" stroke-width="0.16" text-anchor="middle" font-family="'Liberation Serif', 'Times New Roman', serif" font-weight="bold" dominant-baseline="central">0.09</text>
<text x="480.80" y="53.00" font-size="5.0" fill="#222" stroke="#222" stroke-width="0.16" text-anchor="middle" font-family="'Liberation Serif', 'Times New Roman', serif" font-weight="bold" dominant-baseline="central">0.14</text>
<text x="501.40" y="53.00" font-size="5.0" fill="#222" stroke="#222" stroke-width="0.16" text-anchor="middle" font-family="'Liberation Serif', 'Times New Roman', serif" font-weight="bold" dominant-baseline="central">0.19</text>
<text x="521.50" y="53.00" font-size="5.0" fill="#222" stroke="#222" stroke-width="0.16" text-anchor="middle" font-family="'Liberation Serif', 'Times New Roman', serif" font-weight="bold" dominant-baseline="central">0.24</text>
<rect x="415.5" y="57.3" width="108.5" height="3.9" fill="url(#gb)" stroke="#ccc" stroke-width="0.2"/>
<text x="415.80" y="65.60" font-size="5.8" fill="#222" stroke="#222" stroke-width="0.16" text-anchor="start" font-family="'Liberation Serif', 'Times New Roman', serif" font-weight="bold" dominant-baseline="central">DepMap&#160;&#160;Colon/Colorectal</text>
<rect x="26.8" y="283.1" width="214.9" height="148.09" fill="#ECEAF1"/>
<rect x="26.8" y="277.8" width="19.6" height="3.9" fill="#F99E55"/>
<rect x="48.1" y="277.8" width="14.7" height="3.9" fill="#12D1B0"/>
<rect x="64.5" y="277.8" width="19.6" height="3.9" fill="#93C01F"/>
<rect x="85.8" y="277.8" width="9.8" height="3.9" fill="#F5A70E"/>
<rect x="97.3" y="277.8" width="14.7" height="3.9" fill="#F57FE6"/>
<rect x="113.7" y="277.8" width="4.9" height="3.9" fill="#17C817"/>
<rect x="120.3" y="277.8" width="4.9" height="3.9" fill="#1AADEE"/>
<rect x="126.9" y="277.8" width="24.5" height="3.9" fill="#17C8F0"/>
<rect x="153.1" y="277.8" width="9.8" height="3.9" fill="#F07BC3"/>
<rect x="164.6" y="277.8" width="19.6" height="3.9" fill="#F57FE6"/>
<rect x="185.9" y="277.8" width="14.7" height="3.9" fill="#F57FE6"/>
<rect x="202.3" y="277.8" width="14.7" height="3.9" fill="#12C86B"/>
<rect x="218.7" y="277.8" width="4.9" height="3.9" fill="#C5A5F2"/>
<rect x="225.3" y="277.8" width="4.9" height="3.9" fill="#17C8F0"/>
<rect x="231.9" y="277.8" width="9.8" height="3.9" fill="#CDAA0E"/>
<rect x="21.4" y="283.1" width="3.8" height="14.61" fill="#17CFCB"/>
<rect x="21.4" y="299.7" width="3.8" height="131.49" fill="#F98886"/>
<g stroke="#C9C2A8" stroke-width="0.3">
<rect x="26.8" y="283.1" width="4.9" height="4.87" fill="#FDAD66"/>
<rect x="31.7" y="283.1" width="4.9" height="4.87" fill="#FDAD66"/>
<rect x="36.6" y="283.1" width="4.9" height="4.87" fill="#FFF282"/>
<rect x="41.5" y="283.1" width="4.9" height="4.87" fill="#FFF282"/>
<rect x="48.1" y="283.1" width="4.9" height="4.87" fill="#FFF282"/>
<rect x="53" y="283.1" width="4.9" height="4.87" fill="#FC6E3E"/>
<rect x="57.9" y="283.1" width="4.9" height="4.87" fill="#FFF282"/>
<rect x="64.5" y="283.1" width="4.9" height="4.87" fill="#F61C19"/>
<rect x="69.4" y="283.1" width="4.9" height="4.87" fill="#FDAD66"/>
<rect x="74.3" y="283.1" width="4.9" height="4.87" fill="#7A0A0A"/>
<rect x="79.2" y="283.1" width="4.9" height="4.87" fill="#F61C19"/>
<rect x="85.8" y="283.1" width="4.9" height="4.87" fill="#FFF282"/>
<rect x="90.7" y="283.1" width="4.9" height="4.87" fill="#FFF282"/>
<rect x="97.3" y="283.1" width="4.9" height="4.87" fill="#FFF282"/>
<rect x="102.2" y="283.1" width="4.9" height="4.87" fill="#FFF282"/>
<rect x="107.1" y="283.1" width="4.9" height="4.87" fill="#FFF282"/>
<rect x="113.7" y="283.1" width="4.9" height="4.87" fill="#FDAD66"/>
<rect x="120.3" y="283.1" width="4.9" height="4.87" fill="#FFF282"/>
<rect x="126.9" y="283.1" width="4.9" height="4.87" fill="#FC6E3E"/>
<rect x="131.8" y="283.1" width="4.9" height="4.87" fill="#FDAD66"/>
<rect x="136.7" y="283.1" width="4.9" height="4.87" fill="#F61C19"/>
<rect x="141.6" y="283.1" width="4.9" height="4.87" fill="#FDAD66"/>
<rect x="146.5" y="283.1" width="4.9" height="4.87" fill="#FDAD66"/>
<rect x="153.1" y="283.1" width="4.9" height="4.87" fill="#FFF282"/>
<rect x="158" y="283.1" width="4.9" height="4.87" fill="#FFF282"/>
<rect x="164.6" y="283.1" width="4.9" height="4.87" fill="#FFF282"/>
<rect x="169.5" y="283.1" width="4.9" height="4.87" fill="#FFF282"/>
<rect x="174.4" y="283.1" width="4.9" height="4.87" fill="#FFF282"/>
<rect x="179.3" y="283.1" width="4.9" height="4.87" fill="#FDAD66"/>
<rect x="185.9" y="283.1" width="4.9" height="4.87" fill="#FFF282"/>
<rect x="190.8" y="283.1" width="4.9" height="4.87" fill="#FDAD66"/>
<rect x="195.7" y="283.1" width="4.9" height="4.87" fill="#FFF282"/>
<rect x="202.3" y="283.1" width="4.9" height="4.87" fill="#FFF282"/>
<rect x="207.2" y="283.1" width="4.9" height="4.87" fill="#FFF282"/>
<rect x="212.1" y="283.1" width="4.9" height="4.87" fill="#FFF282"/>
<rect x="218.7" y="283.1" width="4.9" height="4.87" fill="#FDAD66"/>
<rect x="225.3" y="283.1" width="4.9" height="4.87" fill="#FFF282"/>
<rect x="231.9" y="283.1" width="4.9" height="4.87" fill="#FFF282"/>
<rect x="236.8" y="283.1" width="4.9" height="4.87" fill="#FFF282"/>
<rect x="26.8" y="287.97" width="4.9" height="4.87" fill="#FFF282"/>
<rect x="31.7" y="287.97" width="4.9" height="4.87" fill="#FDAD66"/>
<rect x="36.6" y="287.97" width="4.9" height="4.87" fill="#FFF282"/>
<rect x="41.5" y="287.97" width="4.9" height="4.87" fill="#FFF282"/>
<rect x="48.1" y="287.97" width="4.9" height="4.87" fill="#FDAD66"/>
<rect x="53" y="287.97" width="4.9" height="4.87" fill="#FFF282"/>
<rect x="57.9" y="287.97" width="4.9" height="4.87" fill="#FDAD66"/>
<rect x="64.5" y="287.97" width="4.9" height="4.87" fill="#7A0A0A"/>
<rect x="69.4" y="287.97" width="4.9" height="4.87" fill="#FC6E3E"/>
<rect x="74.3" y="287.97" width="4.9" height="4.87" fill="#FFF282"/>
<rect x="79.2" y="287.97" width="4.9" height="4.87" fill="#7A0A0A"/>
<rect x="85.8" y="287.97" width="4.9" height="4.87" fill="#FFF282"/>
<rect x="90.7" y="287.97" width="4.9" height="4.87" fill="#FFF282"/>
<rect x="97.3" y="287.97" width="4.9" height="4.87" fill="#FFF282"/>
<rect x="102.2" y="287.97" width="4.9" height="4.87" fill="#FFF282"/>
<rect x="107.1" y="287.97" width="4.9" height="4.87" fill="#FFF282"/>
<rect x="113.7" y="287.97" width="4.9" height="4.87" fill="#FFF282"/>
<rect x="120.3" y="287.97" width="4.9" height="4.87" fill="#FFF282"/>
<rect x="126.9" y="287.97" width="4.9" height="4.87" fill="#FFF282"/>
<rect x="131.8" y="287.97" width="4.9" height="4.87" fill="#FDAD66"/>
<rect x="136.7" y="287.97" width="4.9" height="4.87" fill="#FFF282"/>
<rect x="141.6" y="287.97" width="4.9" height="4.87" fill="#FC6E3E"/>
<rect x="146.5" y="287.97" width="4.9" height="4.87" fill="#FC6E3E"/>
<rect x="153.1" y="287.97" width="4.9" height="4.87" fill="#FDAD66"/>
<rect x="158" y="287.97" width="4.9" height="4.87" fill="#FFF282"/>
<rect x="164.6" y="287.97" width="4.9" height="4.87" fill="#FFF282"/>
<rect x="169.5" y="287.97" width="4.9" height="4.87" fill="#FFF282"/>
<rect x="174.4" y="287.97" width="4.9" height="4.87" fill="#FFF282"/>
<rect x="179.3" y="287.97" width="4.9" height="4.87" fill="#FFF282"/>
<rect x="185.9" y="287.97" width="4.9" height="4.87" fill="#FDAD66"/>
<rect x="190.8" y="287.97" width="4.9" height="4.87" fill="#FFF282"/>
<rect x="195.7" y="287.97" width="4.9" height="4.87" fill="#FFF282"/>
<rect x="202.3" y="287.97" width="4.9" height="4.87" fill="#FDAD66"/>
<rect x="207.2" y="287.97" width="4.9" height="4.87" fill="#FDAD66"/>
<rect x="212.1" y="287.97" width="4.9" height="4.87" fill="#FFF282"/>
<rect x="218.7" y="287.97" width="4.9" height="4.87" fill="#FFF282"/>
<rect x="225.3" y="287.97" width="4.9" height="4.87" fill="#FFF282"/>
<rect x="231.9" y="287.97" width="4.9" height="4.87" fill="#FFF282"/>
<rect x="236.8" y="287.97" width="4.9" height="4.87" fill="#FDAD66"/>
<rect x="26.8" y="292.84" width="4.9" height="4.87" fill="#FFF282"/>
<rect x="31.7" y="292.84" width="4.9" height="4.87" fill="#FDAD66"/>
<rect x="36.6" y="292.84" width="4.9" height="4.87" fill="#FFF282"/>
<rect x="41.5" y="292.84" width="4.9" height="4.87" fill="#FFF282"/>
<rect x="48.1" y="292.84" width="4.9" height="4.87" fill="#FDAD66"/>
<rect x="53" y="292.84" width="4.9" height="4.87" fill="#FFF282"/>
<rect x="57.9" y="292.84" width="4.9" height="4.87" fill="#FDAD66"/>
<rect x="64.5" y="292.84" width="4.9" height="4.87" fill="#F61C19"/>
<rect x="69.4" y="292.84" width="4.9" height="4.87" fill="#FC6E3E"/>
<rect x="74.3" y="292.84" width="4.9" height="4.87" fill="#FFF282"/>
<rect x="79.2" y="292.84" width="4.9" height="4.87" fill="#BC1212"/>
<rect x="85.8" y="292.84" width="4.9" height="4.87" fill="#FFF282"/>
<rect x="90.7" y="292.84" width="4.9" height="4.87" fill="#FFF282"/>
<rect x="97.3" y="292.84" width="4.9" height="4.87" fill="#FFF282"/>
<rect x="102.2" y="292.84" width="4.9" height="4.87" fill="#FFF282"/>
<rect x="107.1" y="292.84" width="4.9" height="4.87" fill="#FFF282"/>
<rect x="113.7" y="292.84" width="4.9" height="4.87" fill="#FFF282"/>
<rect x="120.3" y="292.84" width="4.9" height="4.87" fill="#FFF282"/>
<rect x="126.9" y="292.84" width="4.9" height="4.87" fill="#FFF282"/>
<rect x="131.8" y="292.84" width="4.9" height="4.87" fill="#FDAD66"/>
<rect x="136.7" y="292.84" width="4.9" height="4.87" fill="#FFF282"/>
<rect x="141.6" y="292.84" width="4.9" height="4.87" fill="#FC6E3E"/>
<rect x="146.5" y="292.84" width="4.9" height="4.87" fill="#FC6E3E"/>
<rect x="153.1" y="292.84" width="4.9" height="4.87" fill="#FDAD66"/>
<rect x="158" y="292.84" width="4.9" height="4.87" fill="#FFF282"/>
<rect x="164.6" y="292.84" width="4.9" height="4.87" fill="#FFF282"/>
<rect x="169.5" y="292.84" width="4.9" height="4.87" fill="#FFF282"/>
<rect x="174.4" y="292.84" width="4.9" height="4.87" fill="#FFF282"/>
<rect x="179.3" y="292.84" width="4.9" height="4.87" fill="#FC6E3E"/>
<rect x="185.9" y="292.84" width="4.9" height="4.87" fill="#FDAD66"/>
<rect x="190.8" y="292.84" width="4.9" height="4.87" fill="#FFF282"/>
<rect x="195.7" y="292.84" width="4.9" height="4.87" fill="#FFF282"/>
<rect x="202.3" y="292.84" width="4.9" height="4.87" fill="#FDAD66"/>
<rect x="207.2" y="292.84" width="4.9" height="4.87" fill="#FFF282"/>
<rect x="212.1" y="292.84" width="4.9" height="4.87" fill="#FDAD66"/>
<rect x="218.7" y="292.84" width="4.9" height="4.87" fill="#FFF282"/>
<rect x="225.3" y="292.84" width="4.9" height="4.87" fill="#FFF282"/>
<rect x="231.9" y="292.84" width="4.9" height="4.87" fill="#FFF282"/>
<rect x="236.8" y="292.84" width="4.9" height="4.87" fill="#FFF282"/>
<rect x="26.8" y="299.7" width="4.9" height="4.87" fill="#FFF282"/>
<rect x="31.7" y="299.7" width="4.9" height="4.87" fill="#FFF282"/>
<rect x="36.6" y="299.7" width="4.9" height="4.87" fill="#FFF282"/>
<rect x="41.5" y="299.7" width="4.9" height="4.87" fill="#FDAD66"/>
<rect x="48.1" y="299.7" width="4.9" height="4.87" fill="#FDAD66"/>
<rect x="53" y="299.7" width="4.9" height="4.87" fill="#FDAD66"/>
<rect x="57.9" y="299.7" width="4.9" height="4.87" fill="#FDAD66"/>
<rect x="64.5" y="299.7" width="4.9" height="4.87" fill="#FDAD66"/>
<rect x="69.4" y="299.7" width="4.9" height="4.87" fill="#FFF282"/>
<rect x="74.3" y="299.7" width="4.9" height="4.87" fill="#FDAD66"/>
<rect x="79.2" y="299.7" width="4.9" height="4.87" fill="#FDAD66"/>
<rect x="85.8" y="299.7" width="4.9" height="4.87" fill="#FFF282"/>
<rect x="90.7" y="299.7" width="4.9" height="4.87" fill="#FFF282"/>
<rect x="97.3" y="299.7" width="4.9" height="4.87" fill="#FFF282"/>
<rect x="102.2" y="299.7" width="4.9" height="4.87" fill="#FFF282"/>
<rect x="107.1" y="299.7" width="4.9" height="4.87" fill="#FFF282"/>
<rect x="113.7" y="299.7" width="4.9" height="4.87" fill="#FDAD66"/>
<rect x="120.3" y="299.7" width="4.9" height="4.87" fill="#FFF282"/>
<rect x="126.9" y="299.7" width="4.9" height="4.87" fill="#FC6E3E"/>
<rect x="131.8" y="299.7" width="4.9" height="4.87" fill="#FC6E3E"/>
<rect x="136.7" y="299.7" width="4.9" height="4.87" fill="#F61C19"/>
<rect x="141.6" y="299.7" width="4.9" height="4.87" fill="#FDAD66"/>
<rect x="146.5" y="299.7" width="4.9" height="4.87" fill="#FC6E3E"/>
<rect x="153.1" y="299.7" width="4.9" height="4.87" fill="#FDAD66"/>
<rect x="158" y="299.7" width="4.9" height="4.87" fill="#FFF282"/>
<rect x="164.6" y="299.7" width="4.9" height="4.87" fill="#FDAD66"/>
<rect x="169.5" y="299.7" width="4.9" height="4.87" fill="#FDAD66"/>
<rect x="174.4" y="299.7" width="4.9" height="4.87" fill="#FFF282"/>
<rect x="179.3" y="299.7" width="4.9" height="4.87" fill="#FFF282"/>
<rect x="185.9" y="299.7" width="4.9" height="4.87" fill="#FC6E3E"/>
<rect x="190.8" y="299.7" width="4.9" height="4.87" fill="#FC6E3E"/>
<rect x="195.7" y="299.7" width="4.9" height="4.87" fill="#FDAD66"/>
<rect x="202.3" y="299.7" width="4.9" height="4.87" fill="#FDAD66"/>
<rect x="207.2" y="299.7" width="4.9" height="4.87" fill="#FDAD66"/>
<rect x="212.1" y="299.7" width="4.9" height="4.87" fill="#FDAD66"/>
<rect x="218.7" y="299.7" width="4.9" height="4.87" fill="#FDAD66"/>
<rect x="225.3" y="299.7" width="4.9" height="4.87" fill="#FFF282"/>
<rect x="231.9" y="299.7" width="4.9" height="4.87" fill="#FDAD66"/>
<rect x="236.8" y="299.7" width="4.9" height="4.87" fill="#FDAD66"/>
<rect x="26.8" y="304.57" width="4.9" height="4.87" fill="#FDAD66"/>
<rect x="31.7" y="304.57" width="4.9" height="4.87" fill="#FFF282"/>
<rect x="36.6" y="304.57" width="4.9" height="4.87" fill="#FC6E3E"/>
<rect x="41.5" y="304.57" width="4.9" height="4.87" fill="#FDAD66"/>
<rect x="48.1" y="304.57" width="4.9" height="4.87" fill="#FFF282"/>
<rect x="53" y="304.57" width="4.9" height="4.87" fill="#F61C19"/>
<rect x="57.9" y="304.57" width="4.9" height="4.87" fill="#FDAD66"/>
<rect x="64.5" y="304.57" width="4.9" height="4.87" fill="#FFF282"/>
<rect x="69.4" y="304.57" width="4.9" height="4.87" fill="#FFF282"/>
<rect x="74.3" y="304.57" width="4.9" height="4.87" fill="#FDAD66"/>
<rect x="79.2" y="304.57" width="4.9" height="4.87" fill="#FDAD66"/>
<rect x="85.8" y="304.57" width="4.9" height="4.87" fill="#FDAD66"/>
<rect x="90.7" y="304.57" width="4.9" height="4.87" fill="#FFF282"/>
<rect x="97.3" y="304.57" width="4.9" height="4.87" fill="#FC6E3E"/>
<rect x="102.2" y="304.57" width="4.9" height="4.87" fill="#FDAD66"/>
<rect x="107.1" y="304.57" width="4.9" height="4.87" fill="#FFF282"/>
<rect x="113.7" y="304.57" width="4.9" height="4.87" fill="#F61C19"/>
<rect x="120.3" y="304.57" width="4.9" height="4.87" fill="#FFF282"/>
<rect x="126.9" y="304.57" width="4.9" height="4.87" fill="#F61C19"/>
<rect x="131.8" y="304.57" width="4.9" height="4.87" fill="#FDAD66"/>
<rect x="136.7" y="304.57" width="4.9" height="4.87" fill="#120404"/>
<rect x="141.6" y="304.57" width="4.9" height="4.87" fill="#FDAD66"/>
<rect x="146.5" y="304.57" width="4.9" height="4.87" fill="#FC6E3E"/>
<rect x="153.1" y="304.57" width="4.9" height="4.87" fill="#FFF282"/>
<rect x="158" y="304.57" width="4.9" height="4.87" fill="#FDAD66"/>
<rect x="164.6" y="304.57" width="4.9" height="4.87" fill="#F61C19"/>
<rect x="169.5" y="304.57" width="4.9" height="4.87" fill="#FFF282"/>
<rect x="174.4" y="304.57" width="4.9" height="4.87" fill="#FFF282"/>
<rect x="179.3" y="304.57" width="4.9" height="4.87" fill="#FFF282"/>
<rect x="185.9" y="304.57" width="4.9" height="4.87" fill="#FDAD66"/>
<rect x="190.8" y="304.57" width="4.9" height="4.87" fill="#F61C19"/>
<rect x="195.7" y="304.57" width="4.9" height="4.87" fill="#FFF282"/>
<rect x="202.3" y="304.57" width="4.9" height="4.87" fill="#FFF282"/>
<rect x="207.2" y="304.57" width="4.9" height="4.87" fill="#FFF282"/>
<rect x="212.1" y="304.57" width="4.9" height="4.87" fill="#FDAD66"/>
<rect x="218.7" y="304.57" width="4.9" height="4.87" fill="#F61C19"/>
<rect x="225.3" y="304.57" width="4.9" height="4.87" fill="#FFF282"/>
<rect x="231.9" y="304.57" width="4.9" height="4.87" fill="#FC6E3E"/>
<rect x="236.8" y="304.57" width="4.9" height="4.87" fill="#FDAD66"/>
<rect x="26.8" y="309.44" width="4.9" height="4.87" fill="#FC6E3E"/>
<rect x="31.7" y="309.44" width="4.9" height="4.87" fill="#FDAD66"/>
<rect x="36.6" y="309.44" width="4.9" height="4.87" fill="#FFF282"/>
<rect x="41.5" y="309.44" width="4.9" height="4.87" fill="#FDAD66"/>
<rect x="48.1" y="309.44" width="4.9" height="4.87" fill="#FFF282"/>
<rect x="53" y="309.44" width="4.9" height="4.87" fill="#FC6E3E"/>
<rect x="57.9" y="309.44" width="4.9" height="4.87" fill="#FDAD66"/>
<rect x="64.5" y="309.44" width="4.9" height="4.87" fill="#7A0A0A"/>
<rect x="69.4" y="309.44" width="4.9" height="4.87" fill="#FC6E3E"/>
<rect x="74.3" y="309.44" width="4.9" height="4.87" fill="#120404"/>
<rect x="79.2" y="309.44" width="4.9" height="4.87" fill="#7A0A0A"/>
<rect x="85.8" y="309.44" width="4.9" height="4.87" fill="#FFF282"/>
<rect x="90.7" y="309.44" width="4.9" height="4.87" fill="#FFF282"/>
<rect x="97.3" y="309.44" width="4.9" height="4.87" fill="#FFF282"/>
<rect x="102.2" y="309.44" width="4.9" height="4.87" fill="#FFF282"/>
<rect x="107.1" y="309.44" width="4.9" height="4.87" fill="#FFF282"/>
<rect x="113.7" y="309.44" width="4.9" height="4.87" fill="#FDAD66"/>
<rect x="120.3" y="309.44" width="4.9" height="4.87" fill="#FFF282"/>
<rect x="126.9" y="309.44" width="4.9" height="4.87" fill="#F61C19"/>
<rect x="131.8" y="309.44" width="4.9" height="4.87" fill="#FDAD66"/>
<rect x="136.7" y="309.44" width="4.9" height="4.87" fill="#F61C19"/>
<rect x="141.6" y="309.44" width="4.9" height="4.87" fill="#FDAD66"/>
<rect x="146.5" y="309.44" width="4.9" height="4.87" fill="#FDAD66"/>
<rect x="153.1" y="309.44" width="4.9" height="4.87" fill="#FDAD66"/>
<rect x="158" y="309.44" width="4.9" height="4.87" fill="#FFF282"/>
<rect x="164.6" y="309.44" width="4.9" height="4.87" fill="#FDAD66"/>
<rect x="169.5" y="309.44" width="4.9" height="4.87" fill="#FFF282"/>
<rect x="174.4" y="309.44" width="4.9" height="4.87" fill="#FFF282"/>
<rect x="179.3" y="309.44" width="4.9" height="4.87" fill="#FDAD66"/>
<rect x="185.9" y="309.44" width="4.9" height="4.87" fill="#FDAD66"/>
<rect x="190.8" y="309.44" width="4.9" height="4.87" fill="#FDAD66"/>
<rect x="195.7" y="309.44" width="4.9" height="4.87" fill="#FDAD66"/>
<rect x="202.3" y="309.44" width="4.9" height="4.87" fill="#FDAD66"/>
<rect x="207.2" y="309.44" width="4.9" height="4.87" fill="#FDAD66"/>
<rect x="212.1" y="309.44" width="4.9" height="4.87" fill="#FFF282"/>
<rect x="218.7" y="309.44" width="4.9" height="4.87" fill="#FC6E3E"/>
<rect x="225.3" y="309.44" width="4.9" height="4.87" fill="#FDAD66"/>
<rect x="231.9" y="309.44" width="4.9" height="4.87" fill="#FDAD66"/>
<rect x="236.8" y="309.44" width="4.9" height="4.87" fill="#FFF282"/>
<rect x="26.8" y="314.31" width="4.9" height="4.87" fill="#FFF282"/>
<rect x="31.7" y="314.31" width="4.9" height="4.87" fill="#FDAD66"/>
<rect x="36.6" y="314.31" width="4.9" height="4.87" fill="#FFF282"/>
<rect x="41.5" y="314.31" width="4.9" height="4.87" fill="#FDAD66"/>
<rect x="48.1" y="314.31" width="4.9" height="4.87" fill="#FDAD66"/>
<rect x="53" y="314.31" width="4.9" height="4.87" fill="#FFF282"/>
<rect x="57.9" y="314.31" width="4.9" height="4.87" fill="#FDAD66"/>
<rect x="64.5" y="314.31" width="4.9" height="4.87" fill="#FDAD66"/>
<rect x="69.4" y="314.31" width="4.9" height="4.87" fill="#FFF282"/>
<rect x="74.3" y="314.31" width="4.9" height="4.87" fill="#FFF282"/>
<rect x="79.2" y="314.31" width="4.9" height="4.87" fill="#FDAD66"/>
<rect x="85.8" y="314.31" width="4.9" height="4.87" fill="#FFF282"/>
<rect x="90.7" y="314.31" width="4.9" height="4.87" fill="#FDAD66"/>
<rect x="97.3" y="314.31" width="4.9" height="4.87" fill="#FFF282"/>
<rect x="102.2" y="314.31" width="4.9" height="4.87" fill="#FDAD66"/>
<rect x="107.1" y="314.31" width="4.9" height="4.87" fill="#FDAD66"/>
<rect x="113.7" y="314.31" width="4.9" height="4.87" fill="#FFF282"/>
<rect x="120.3" y="314.31" width="4.9" height="4.87" fill="#FFF282"/>
<rect x="126.9" y="314.31" width="4.9" height="4.87" fill="#FFF282"/>
<rect x="131.8" y="314.31" width="4.9" height="4.87" fill="#FC6E3E"/>
<rect x="136.7" y="314.31" width="4.9" height="4.87" fill="#FFF282"/>
<rect x="141.6" y="314.31" width="4.9" height="4.87" fill="#FC6E3E"/>
<rect x="146.5" y="314.31" width="4.9" height="4.87" fill="#BC1212"/>
<rect x="153.1" y="314.31" width="4.9" height="4.87" fill="#FDAD66"/>
<rect x="158" y="314.31" width="4.9" height="4.87" fill="#FFF282"/>
<rect x="164.6" y="314.31" width="4.9" height="4.87" fill="#FFF282"/>
<rect x="169.5" y="314.31" width="4.9" height="4.87" fill="#FC6E3E"/>
<rect x="174.4" y="314.31" width="4.9" height="4.87" fill="#FDAD66"/>
<rect x="179.3" y="314.31" width="4.9" height="4.87" fill="#FFF282"/>
<rect x="185.9" y="314.31" width="4.9" height="4.87" fill="#F61C19"/>
<rect x="190.8" y="314.31" width="4.9" height="4.87" fill="#FFF282"/>
<rect x="195.7" y="314.31" width="4.9" height="4.87" fill="#FDAD66"/>
<rect x="202.3" y="314.31" width="4.9" height="4.87" fill="#FC6E3E"/>
<rect x="207.2" y="314.31" width="4.9" height="4.87" fill="#FDAD66"/>
<rect x="212.1" y="314.31" width="4.9" height="4.87" fill="#F61C19"/>
<rect x="218.7" y="314.31" width="4.9" height="4.87" fill="#FFF282"/>
<rect x="225.3" y="314.31" width="4.9" height="4.87" fill="#FFF282"/>
<rect x="231.9" y="314.31" width="4.9" height="4.87" fill="#FFF282"/>
<rect x="236.8" y="314.31" width="4.9" height="4.87" fill="#FC6E3E"/>
<rect x="26.8" y="319.18" width="4.9" height="4.87" fill="#FFF282"/>
<rect x="31.7" y="319.18" width="4.9" height="4.87" fill="#FDAD66"/>
<rect x="36.6" y="319.18" width="4.9" height="4.87" fill="#FFF282"/>
<rect x="41.5" y="319.18" width="4.9" height="4.87" fill="#FDAD66"/>
<rect x="48.1" y="319.18" width="4.9" height="4.87" fill="#FFF282"/>
<rect x="53" y="319.18" width="4.9" height="4.87" fill="#FDAD66"/>
<rect x="57.9" y="319.18" width="4.9" height="4.87" fill="#FC6E3E"/>
<rect x="64.5" y="319.18" width="4.9" height="4.87" fill="#7A0A0A"/>
<rect x="69.4" y="319.18" width="4.9" height="4.87" fill="#F61C19"/>
<rect x="74.3" y="319.18" width="4.9" height="4.87" fill="#FFF282"/>
<rect x="79.2" y="319.18" width="4.9" height="4.87" fill="#120404"/>
<rect x="85.8" y="319.18" width="4.9" height="4.87" fill="#FFF282"/>
<rect x="90.7" y="319.18" width="4.9" height="4.87" fill="#FFF282"/>
<rect x="97.3" y="319.18" width="4.9" height="4.87" fill="#FFF282"/>
<rect x="102.2" y="319.18" width="4.9" height="4.87" fill="#FFF282"/>
<rect x="107.1" y="319.18" width="4.9" height="4.87" fill="#FFF282"/>
<rect x="113.7" y="319.18" width="4.9" height="4.87" fill="#FFF282"/>
<rect x="120.3" y="319.18" width="4.9" height="4.87" fill="#FFF282"/>
<rect x="126.9" y="319.18" width="4.9" height="4.87" fill="#FFF282"/>
<rect x="131.8" y="319.18" width="4.9" height="4.87" fill="#FC6E3E"/>
<rect x="136.7" y="319.18" width="4.9" height="4.87" fill="#FFF282"/>
<rect x="141.6" y="319.18" width="4.9" height="4.87" fill="#FC6E3E"/>
<rect x="146.5" y="319.18" width="4.9" height="4.87" fill="#F61C19"/>
<rect x="153.1" y="319.18" width="4.9" height="4.87" fill="#FDAD66"/>
<rect x="158" y="319.18" width="4.9" height="4.87" fill="#FFF282"/>
<rect x="164.6" y="319.18" width="4.9" height="4.87" fill="#FFF282"/>
<rect x="169.5" y="319.18" width="4.9" height="4.87" fill="#FDAD66"/>
<rect x="174.4" y="319.18" width="4.9" height="4.87" fill="#FFF282"/>
<rect x="179.3" y="319.18" width="4.9" height="4.87" fill="#FC6E3E"/>
<rect x="185.9" y="319.18" width="4.9" height="4.87" fill="#FDAD66"/>
<rect x="190.8" y="319.18" width="4.9" height="4.87" fill="#FFF282"/>
<rect x="195.7" y="319.18" width="4.9" height="4.87" fill="#FFF282"/>
<rect x="202.3" y="319.18" width="4.9" height="4.87" fill="#FC6E3E"/>
<rect x="207.2" y="319.18" width="4.9" height="4.87" fill="#FDAD66"/>
<rect x="212.1" y="319.18" width="4.9" height="4.87" fill="#FFF282"/>
<rect x="218.7" y="319.18" width="4.9" height="4.87" fill="#FFF282"/>
<rect x="225.3" y="319.18" width="4.9" height="4.87" fill="#FFF282"/>
<rect x="231.9" y="319.18" width="4.9" height="4.87" fill="#FFF282"/>
<rect x="236.8" y="319.18" width="4.9" height="4.87" fill="#FDAD66"/>
<rect x="26.8" y="324.05" width="4.9" height="4.87" fill="#FDAD66"/>
<rect x="31.7" y="324.05" width="4.9" height="4.87" fill="#FDAD66"/>
<rect x="36.6" y="324.05" width="4.9" height="4.87" fill="#FFF282"/>
<rect x="41.5" y="324.05" width="4.9" height="4.87" fill="#FFF282"/>
<rect x="48.1" y="324.05" width="4.9" height="4.87" fill="#FDAD66"/>
<rect x="53" y="324.05" width="4.9" height="4.87" fill="#FDAD66"/>
<rect x="57.9" y="324.05" width="4.9" height="4.87" fill="#FDAD66"/>
<rect x="64.5" y="324.05" width="4.9" height="4.87" fill="#F61C19"/>
<rect x="69.4" y="324.05" width="4.9" height="4.87" fill="#FDAD66"/>
<rect x="74.3" y="324.05" width="4.9" height="4.87" fill="#F61C19"/>
<rect x="79.2" y="324.05" width="4.9" height="4.87" fill="#F61C19"/>
<rect x="85.8" y="324.05" width="4.9" height="4.87" fill="#FFF282"/>
<rect x="90.7" y="324.05" width="4.9" height="4.87" fill="#FFF282"/>
<rect x="97.3" y="324.05" width="4.9" height="4.87" fill="#FFF282"/>
<rect x="102.2" y="324.05" width="4.9" height="4.87" fill="#FFF282"/>
<rect x="107.1" y="324.05" width="4.9" height="4.87" fill="#FFF282"/>
<rect x="113.7" y="324.05" width="4.9" height="4.87" fill="#FFF282"/>
<rect x="120.3" y="324.05" width="4.9" height="4.87" fill="#FDAD66"/>
<rect x="126.9" y="324.05" width="4.9" height="4.87" fill="#FDAD66"/>
<rect x="131.8" y="324.05" width="4.9" height="4.87" fill="#FDAD66"/>
<rect x="136.7" y="324.05" width="4.9" height="4.87" fill="#FDAD66"/>
<rect x="141.6" y="324.05" width="4.9" height="4.87" fill="#FDAD66"/>
<rect x="146.5" y="324.05" width="4.9" height="4.87" fill="#FFF282"/>
<rect x="153.1" y="324.05" width="4.9" height="4.87" fill="#FDAD66"/>
<rect x="158" y="324.05" width="4.9" height="4.87" fill="#FFF282"/>
<rect x="164.6" y="324.05" width="4.9" height="4.87" fill="#FFF282"/>
<rect x="169.5" y="324.05" width="4.9" height="4.87" fill="#FFF282"/>
<rect x="174.4" y="324.05" width="4.9" height="4.87" fill="#FFF282"/>
<rect x="179.3" y="324.05" width="4.9" height="4.87" fill="#FC6E3E"/>
<rect x="185.9" y="324.05" width="4.9" height="4.87" fill="#FFF282"/>
<rect x="190.8" y="324.05" width="4.9" height="4.87" fill="#FFF282"/>
<rect x="195.7" y="324.05" width="4.9" height="4.87" fill="#FFF282"/>
<rect x="202.3" y="324.05" width="4.9" height="4.87" fill="#FDAD66"/>
<rect x="207.2" y="324.05" width="4.9" height="4.87" fill="#FDAD66"/>
<rect x="212.1" y="324.05" width="4.9" height="4.87" fill="#FFF282"/>
<rect x="218.7" y="324.05" width="4.9" height="4.87" fill="#FDAD66"/>
<rect x="225.3" y="324.05" width="4.9" height="4.87" fill="#FFF282"/>
<rect x="231.9" y="324.05" width="4.9" height="4.87" fill="#FFF282"/>
<rect x="236.8" y="324.05" width="4.9" height="4.87" fill="#FFF282"/>
<rect x="26.8" y="328.92" width="4.9" height="4.87" fill="#FDAD66"/>
<rect x="31.7" y="328.92" width="4.9" height="4.87" fill="#FFF282"/>
<rect x="36.6" y="328.92" width="4.9" height="4.87" fill="#FDAD66"/>
<rect x="41.5" y="328.92" width="4.9" height="4.87" fill="#FFF282"/>
<rect x="48.1" y="328.92" width="4.9" height="4.87" fill="#FFF282"/>
<rect x="53" y="328.92" width="4.9" height="4.87" fill="#FC6E3E"/>
<rect x="57.9" y="328.92" width="4.9" height="4.87" fill="#FFF282"/>
<rect x="64.5" y="328.92" width="4.9" height="4.87" fill="#F61C19"/>
<rect x="69.4" y="328.92" width="4.9" height="4.87" fill="#FDAD66"/>
<rect x="74.3" y="328.92" width="4.9" height="4.87" fill="#F61C19"/>
<rect x="79.2" y="328.92" width="4.9" height="4.87" fill="#FDAD66"/>
<rect x="85.8" y="328.92" width="4.9" height="4.87" fill="#FFF282"/>
<rect x="90.7" y="328.92" width="4.9" height="4.87" fill="#FFF282"/>
<rect x="97.3" y="328.92" width="4.9" height="4.87" fill="#FFF282"/>
<rect x="102.2" y="328.92" width="4.9" height="4.87" fill="#FFF282"/>
<rect x="107.1" y="328.92" width="4.9" height="4.87" fill="#FFF282"/>
<rect x="113.7" y="328.92" width="4.9" height="4.87" fill="#FFF282"/>
<rect x="120.3" y="328.92" width="4.9" height="4.87" fill="#FFF282"/>
<rect x="126.9" y="328.92" width="4.9" height="4.87" fill="#F61C19"/>
<rect x="131.8" y="328.92" width="4.9" height="4.87" fill="#FDAD66"/>
<rect x="136.7" y="328.92" width="4.9" height="4.87" fill="#F61C19"/>
<rect x="141.6" y="328.92" width="4.9" height="4.87" fill="#FC6E3E"/>
<rect x="146.5" y="328.92" width="4.9" height="4.87" fill="#FDAD66"/>
<rect x="153.1" y="328.92" width="4.9" height="4.87" fill="#FDAD66"/>
<rect x="158" y="328.92" width="4.9" height="4.87" fill="#FFF282"/>
<rect x="164.6" y="328.92" width="4.9" height="4.87" fill="#FDAD66"/>
<rect x="169.5" y="328.92" width="4.9" height="4.87" fill="#FFF282"/>
<rect x="174.4" y="328.92" width="4.9" height="4.87" fill="#FFF282"/>
<rect x="179.3" y="328.92" width="4.9" height="4.87" fill="#FDAD66"/>
<rect x="185.9" y="328.92" width="4.9" height="4.87" fill="#FFF282"/>
<rect x="190.8" y="328.92" width="4.9" height="4.87" fill="#FDAD66"/>
<rect x="195.7" y="328.92" width="4.9" height="4.87" fill="#FFF282"/>
<rect x="202.3" y="328.92" width="4.9" height="4.87" fill="#FDAD66"/>
<rect x="207.2" y="328.92" width="4.9" height="4.87" fill="#FDAD66"/>
<rect x="212.1" y="328.92" width="4.9" height="4.87" fill="#FFF282"/>
<rect x="218.7" y="328.92" width="4.9" height="4.87" fill="#FDAD66"/>
<rect x="225.3" y="328.92" width="4.9" height="4.87" fill="#FFF282"/>
<rect x="231.9" y="328.92" width="4.9" height="4.87" fill="#FFF282"/>
<rect x="236.8" y="328.92" width="4.9" height="4.87" fill="#FFF282"/>
<rect x="26.8" y="333.79" width="4.9" height="4.87" fill="#FFF282"/>
<rect x="31.7" y="333.79" width="4.9" height="4.87" fill="#FDAD66"/>
<rect x="36.6" y="333.79" width="4.9" height="4.87" fill="#FFF282"/>
<rect x="41.5" y="333.79" width="4.9" height="4.87" fill="#FFF282"/>
<rect x="48.1" y="333.79" width="4.9" height="4.87" fill="#FDAD66"/>
<rect x="53" y="333.79" width="4.9" height="4.87" fill="#FDAD66"/>
<rect x="57.9" y="333.79" width="4.9" height="4.87" fill="#FDAD66"/>
<rect x="64.5" y="333.79" width="4.9" height="4.87" fill="#FDAD66"/>
<rect x="69.4" y="333.79" width="4.9" height="4.87" fill="#FDAD66"/>
<rect x="74.3" y="333.79" width="4.9" height="4.87" fill="#FFF282"/>
<rect x="79.2" y="333.79" width="4.9" height="4.87" fill="#F61C19"/>
<rect x="85.8" y="333.79" width="4.9" height="4.87" fill="#FFF282"/>
<rect x="90.7" y="333.79" width="4.9" height="4.87" fill="#FFF282"/>
<rect x="97.3" y="333.79" width="4.9" height="4.87" fill="#FFF282"/>
<rect x="102.2" y="333.79" width="4.9" height="4.87" fill="#FFF282"/>
<rect x="107.1" y="333.79" width="4.9" height="4.87" fill="#FFF282"/>
<rect x="113.7" y="333.79" width="4.9" height="4.87" fill="#FFF282"/>
<rect x="120.3" y="333.79" width="4.9" height="4.87" fill="#FFF282"/>
<rect x="126.9" y="333.79" width="4.9" height="4.87" fill="#FFF282"/>
<rect x="131.8" y="333.79" width="4.9" height="4.87" fill="#FFF282"/>
<rect x="136.7" y="333.79" width="4.9" height="4.87" fill="#FDAD66"/>
<rect x="141.6" y="333.79" width="4.9" height="4.87" fill="#FC6E3E"/>
<rect x="146.5" y="333.79" width="4.9" height="4.87" fill="#FC6E3E"/>
<rect x="153.1" y="333.79" width="4.9" height="4.87" fill="#FDAD66"/>
<rect x="158" y="333.79" width="4.9" height="4.87" fill="#FFF282"/>
<rect x="164.6" y="333.79" width="4.9" height="4.87" fill="#FFF282"/>
<rect x="169.5" y="333.79" width="4.9" height="4.87" fill="#FDAD66"/>
<rect x="174.4" y="333.79" width="4.9" height="4.87" fill="#FFF282"/>
<rect x="179.3" y="333.79" width="4.9" height="4.87" fill="#F61C19"/>
<rect x="185.9" y="333.79" width="4.9" height="4.87" fill="#FDAD66"/>
<rect x="190.8" y="333.79" width="4.9" height="4.87" fill="#FFF282"/>
<rect x="195.7" y="333.79" width="4.9" height="4.87" fill="#FFF282"/>
<rect x="202.3" y="333.79" width="4.9" height="4.87" fill="#FC6E3E"/>
<rect x="207.2" y="333.79" width="4.9" height="4.87" fill="#FDAD66"/>
<rect x="212.1" y="333.79" width="4.9" height="4.87" fill="#FFF282"/>
<rect x="218.7" y="333.79" width="4.9" height="4.87" fill="#FDAD66"/>
<rect x="225.3" y="333.79" width="4.9" height="4.87" fill="#FFF282"/>
<rect x="231.9" y="333.79" width="4.9" height="4.87" fill="#FFF282"/>
<rect x="236.8" y="333.79" width="4.9" height="4.87" fill="#FDAD66"/>
<rect x="26.8" y="338.66" width="4.9" height="4.87" fill="#FFF282"/>
<rect x="31.7" y="338.66" width="4.9" height="4.87" fill="#FFF282"/>
<rect x="36.6" y="338.66" width="4.9" height="4.87" fill="#FFF282"/>
<rect x="41.5" y="338.66" width="4.9" height="4.87" fill="#FFF282"/>
<rect x="48.1" y="338.66" width="4.9" height="4.87" fill="#FFF282"/>
<rect x="53" y="338.66" width="4.9" height="4.87" fill="#FDAD66"/>
<rect x="57.9" y="338.66" width="4.9" height="4.87" fill="#FDAD66"/>
<rect x="64.5" y="338.66" width="4.9" height="4.87" fill="#FFF282"/>
<rect x="69.4" y="338.66" width="4.9" height="4.87" fill="#FFF282"/>
<rect x="74.3" y="338.66" width="4.9" height="4.87" fill="#FDAD66"/>
<rect x="79.2" y="338.66" width="4.9" height="4.87" fill="#FDAD66"/>
<rect x="85.8" y="338.66" width="4.9" height="4.87" fill="#FFF282"/>
<rect x="90.7" y="338.66" width="4.9" height="4.87" fill="#FFF282"/>
<rect x="97.3" y="338.66" width="4.9" height="4.87" fill="#FFF282"/>
<rect x="102.2" y="338.66" width="4.9" height="4.87" fill="#FFF282"/>
<rect x="107.1" y="338.66" width="4.9" height="4.87" fill="#FFF282"/>
<rect x="113.7" y="338.66" width="4.9" height="4.87" fill="#FDAD66"/>
<rect x="120.3" y="338.66" width="4.9" height="4.87" fill="#FFF282"/>
<rect x="126.9" y="338.66" width="4.9" height="4.87" fill="#FC6E3E"/>
<rect x="131.8" y="338.66" width="4.9" height="4.87" fill="#FDAD66"/>
<rect x="136.7" y="338.66" width="4.9" height="4.87" fill="#F61C19"/>
<rect x="141.6" y="338.66" width="4.9" height="4.87" fill="#FDAD66"/>
<rect x="146.5" y="338.66" width="4.9" height="4.87" fill="#FC6E3E"/>
<rect x="153.1" y="338.66" width="4.9" height="4.87" fill="#FFF282"/>
<rect x="158" y="338.66" width="4.9" height="4.87" fill="#FFF282"/>
<rect x="164.6" y="338.66" width="4.9" height="4.87" fill="#FDAD66"/>
<rect x="169.5" y="338.66" width="4.9" height="4.87" fill="#FFF282"/>
<rect x="174.4" y="338.66" width="4.9" height="4.87" fill="#FFF282"/>
<rect x="179.3" y="338.66" width="4.9" height="4.87" fill="#FFF282"/>
<rect x="185.9" y="338.66" width="4.9" height="4.87" fill="#FDAD66"/>
<rect x="190.8" y="338.66" width="4.9" height="4.87" fill="#FDAD66"/>
<rect x="195.7" y="338.66" width="4.9" height="4.87" fill="#FFF282"/>
<rect x="202.3" y="338.66" width="4.9" height="4.87" fill="#FFF282"/>
<rect x="207.2" y="338.66" width="4.9" height="4.87" fill="#FFF282"/>
<rect x="212.1" y="338.66" width="4.9" height="4.87" fill="#FDAD66"/>
<rect x="218.7" y="338.66" width="4.9" height="4.87" fill="#FFF282"/>
<rect x="225.3" y="338.66" width="4.9" height="4.87" fill="#FFF282"/>
<rect x="231.9" y="338.66" width="4.9" height="4.87" fill="#FFF282"/>
<rect x="236.8" y="338.66" width="4.9" height="4.87" fill="#FFF282"/>
<rect x="26.8" y="343.53" width="4.9" height="4.87" fill="#FFF282"/>
<rect x="31.7" y="343.53" width="4.9" height="4.87" fill="#FFF282"/>
<rect x="36.6" y="343.53" width="4.9" height="4.87" fill="#FFF282"/>
<rect x="41.5" y="343.53" width="4.9" height="4.87" fill="#FFF282"/>
<rect x="48.1" y="343.53" width="4.9" height="4.87" fill="#FFF282"/>
<rect x="53" y="343.53" width="4.9" height="4.87" fill="#FDAD66"/>
<rect x="57.9" y="343.53" width="4.9" height="4.87" fill="#FDAD66"/>
<rect x="64.5" y="343.53" width="4.9" height="4.87" fill="#FFF282"/>
<rect x="69.4" y="343.53" width="4.9" height="4.87" fill="#FFF282"/>
<rect x="74.3" y="343.53" width="4.9" height="4.87" fill="#FFF282"/>
<rect x="79.2" y="343.53" width="4.9" height="4.87" fill="#FFF282"/>
<rect x="85.8" y="343.53" width="4.9" height="4.87" fill="#FFF282"/>
<rect x="90.7" y="343.53" width="4.9" height="4.87" fill="#FFF282"/>
<rect x="97.3" y="343.53" width="4.9" height="4.87" fill="#FFF282"/>
<rect x="102.2" y="343.53" width="4.9" height="4.87" fill="#FFF282"/>
<rect x="107.1" y="343.53" width="4.9" height="4.87" fill="#FFF282"/>
<rect x="113.7" y="343.53" width="4.9" height="4.87" fill="#FDAD66"/>
<rect x="120.3" y="343.53" width="4.9" height="4.87" fill="#FFF282"/>
<rect x="126.9" y="343.53" width="4.9" height="4.87" fill="#FC6E3E"/>
<rect x="131.8" y="343.53" width="4.9" height="4.87" fill="#FC6E3E"/>
<rect x="136.7" y="343.53" width="4.9" height="4.87" fill="#7A0A0A"/>
<rect x="141.6" y="343.53" width="4.9" height="4.87" fill="#FDAD66"/>
<rect x="146.5" y="343.53" width="4.9" height="4.87" fill="#F61C19"/>
<rect x="153.1" y="343.53" width="4.9" height="4.87" fill="#FFF282"/>
<rect x="158" y="343.53" width="4.9" height="4.87" fill="#FFF282"/>
<rect x="164.6" y="343.53" width="4.9" height="4.87" fill="#FDAD66"/>
<rect x="169.5" y="343.53" width="4.9" height="4.87" fill="#FDAD66"/>
<rect x="174.4" y="343.53" width="4.9" height="4.87" fill="#FFF282"/>
<rect x="179.3" y="343.53" width="4.9" height="4.87" fill="#FFF282"/>
<rect x="185.9" y="343.53" width="4.9" height="4.87" fill="#FDAD66"/>
<rect x="190.8" y="343.53" width="4.9" height="4.87" fill="#FC6E3E"/>
<rect x="195.7" y="343.53" width="4.9" height="4.87" fill="#FFF282"/>
<rect x="202.3" y="343.53" width="4.9" height="4.87" fill="#FFF282"/>
<rect x="207.2" y="343.53" width="4.9" height="4.87" fill="#FFF282"/>
<rect x="212.1" y="343.53" width="4.9" height="4.87" fill="#FFF282"/>
<rect x="218.7" y="343.53" width="4.9" height="4.87" fill="#FDAD66"/>
<rect x="225.3" y="343.53" width="4.9" height="4.87" fill="#FFF282"/>
<rect x="231.9" y="343.53" width="4.9" height="4.87" fill="#FFF282"/>
<rect x="236.8" y="343.53" width="4.9" height="4.87" fill="#FFF282"/>
<rect x="26.8" y="348.4" width="4.9" height="4.87" fill="#FFF282"/>
<rect x="31.7" y="348.4" width="4.9" height="4.87" fill="#FDAD66"/>
<rect x="36.6" y="348.4" width="4.9" height="4.87" fill="#FFF282"/>
<rect x="41.5" y="348.4" width="4.9" height="4.87" fill="#FFF282"/>
<rect x="48.1" y="348.4" width="4.9" height="4.87" fill="#FFF282"/>
<rect x="53" y="348.4" width="4.9" height="4.87" fill="#FFF282"/>
<rect x="57.9" y="348.4" width="4.9" height="4.87" fill="#FDAD66"/>
<rect x="64.5" y="348.4" width="4.9" height="4.87" fill="#F61C19"/>
<rect x="69.4" y="348.4" width="4.9" height="4.87" fill="#FDAD66"/>
<rect x="74.3" y="348.4" width="4.9" height="4.87" fill="#FFF282"/>
<rect x="79.2" y="348.4" width="4.9" height="4.87" fill="#F61C19"/>
<rect x="85.8" y="348.4" width="4.9" height="4.87" fill="#FFF282"/>
<rect x="90.7" y="348.4" width="4.9" height="4.87" fill="#FFF282"/>
<rect x="97.3" y="348.4" width="4.9" height="4.87" fill="#FFF282"/>
<rect x="102.2" y="348.4" width="4.9" height="4.87" fill="#FFF282"/>
<rect x="107.1" y="348.4" width="4.9" height="4.87" fill="#FFF282"/>
<rect x="113.7" y="348.4" width="4.9" height="4.87" fill="#FFF282"/>
<rect x="120.3" y="348.4" width="4.9" height="4.87" fill="#FFF282"/>
<rect x="126.9" y="348.4" width="4.9" height="4.87" fill="#FFF282"/>
<rect x="131.8" y="348.4" width="4.9" height="4.87" fill="#FC6E3E"/>
<rect x="136.7" y="348.4" width="4.9" height="4.87" fill="#FFF282"/>
<rect x="141.6" y="348.4" width="4.9" height="4.87" fill="#FC6E3E"/>
<rect x="146.5" y="348.4" width="4.9" height="4.87" fill="#FDAD66"/>
<rect x="153.1" y="348.4" width="4.9" height="4.87" fill="#FDAD66"/>
<rect x="158" y="348.4" width="4.9" height="4.87" fill="#FFF282"/>
<rect x="164.6" y="348.4" width="4.9" height="4.87" fill="#FFF282"/>
<rect x="169.5" y="348.4" width="4.9" height="4.87" fill="#FFF282"/>
<rect x="174.4" y="348.4" width="4.9" height="4.87" fill="#FFF282"/>
<rect x="179.3" y="348.4" width="4.9" height="4.87" fill="#F61C19"/>
<rect x="185.9" y="348.4" width="4.9" height="4.87" fill="#FDAD66"/>
<rect x="190.8" y="348.4" width="4.9" height="4.87" fill="#FFF282"/>
<rect x="195.7" y="348.4" width="4.9" height="4.87" fill="#FFF282"/>
<rect x="202.3" y="348.4" width="4.9" height="4.87" fill="#FDAD66"/>
<rect x="207.2" y="348.4" width="4.9" height="4.87" fill="#FFF282"/>
<rect x="212.1" y="348.4" width="4.9" height="4.87" fill="#FFF282"/>
<rect x="218.7" y="348.4" width="4.9" height="4.87" fill="#FFF282"/>
<rect x="225.3" y="348.4" width="4.9" height="4.87" fill="#FFF282"/>
<rect x="231.9" y="348.4" width="4.9" height="4.87" fill="#FFF282"/>
<rect x="236.8" y="348.4" width="4.9" height="4.87" fill="#FDAD66"/>
<rect x="26.8" y="353.27" width="4.9" height="4.87" fill="#FFF282"/>
<rect x="31.7" y="353.27" width="4.9" height="4.87" fill="#FDAD66"/>
<rect x="36.6" y="353.27" width="4.9" height="4.87" fill="#FFF282"/>
<rect x="41.5" y="353.27" width="4.9" height="4.87" fill="#FFF282"/>
<rect x="48.1" y="353.27" width="4.9" height="4.87" fill="#FFF282"/>
<rect x="53" y="353.27" width="4.9" height="4.87" fill="#FFF282"/>
<rect x="57.9" y="353.27" width="4.9" height="4.87" fill="#FDAD66"/>
<rect x="64.5" y="353.27" width="4.9" height="4.87" fill="#F61C19"/>
<rect x="69.4" y="353.27" width="4.9" height="4.87" fill="#FDAD66"/>
<rect x="74.3" y="353.27" width="4.9" height="4.87" fill="#FFF282"/>
<rect x="79.2" y="353.27" width="4.9" height="4.87" fill="#F61C19"/>
<rect x="85.8" y="353.27" width="4.9" height="4.87" fill="#FFF282"/>
<rect x="90.7" y="353.27" width="4.9" height="4.87" fill="#FFF282"/>
<rect x="97.3" y="353.27" width="4.9" height="4.87" fill="#FFF282"/>
<rect x="102.2" y="353.27" width="4.9" height="4.87" fill="#FFF282"/>
<rect x="107.1" y="353.27" width="4.9" height="4.87" fill="#FFF282"/>
<rect x="113.7" y="353.27" width="4.9" height="4.87" fill="#FFF282"/>
<rect x="120.3" y="353.27" width="4.9" height="4.87" fill="#FFF282"/>
<rect x="126.9" y="353.27" width="4.9" height="4.87" fill="#FFF282"/>
<rect x="131.8" y="353.27" width="4.9" height="4.87" fill="#FC6E3E"/>
<rect x="136.7" y="353.27" width="4.9" height="4.87" fill="#FFF282"/>
<rect x="141.6" y="353.27" width="4.9" height="4.87" fill="#FDAD66"/>
<rect x="146.5" y="353.27" width="4.9" height="4.87" fill="#F61C19"/>
<rect x="153.1" y="353.27" width="4.9" height="4.87" fill="#FDAD66"/>
<rect x="158" y="353.27" width="4.9" height="4.87" fill="#FFF282"/>
<rect x="164.6" y="353.27" width="4.9" height="4.87" fill="#FFF282"/>
<rect x="169.5" y="353.27" width="4.9" height="4.87" fill="#FDAD66"/>
<rect x="174.4" y="353.27" width="4.9" height="4.87" fill="#FFF282"/>
<rect x="179.3" y="353.27" width="4.9" height="4.87" fill="#FDAD66"/>
<rect x="185.9" y="353.27" width="4.9" height="4.87" fill="#FDAD66"/>
<rect x="190.8" y="353.27" width="4.9" height="4.87" fill="#FFF282"/>
<rect x="195.7" y="353.27" width="4.9" height="4.87" fill="#FFF282"/>
<rect x="202.3" y="353.27" width="4.9" height="4.87" fill="#FDAD66"/>
<rect x="207.2" y="353.27" width="4.9" height="4.87" fill="#FFF282"/>
<rect x="212.1" y="353.27" width="4.9" height="4.87" fill="#FFF282"/>
<rect x="218.7" y="353.27" width="4.9" height="4.87" fill="#FFF282"/>
<rect x="225.3" y="353.27" width="4.9" height="4.87" fill="#FFF282"/>
<rect x="231.9" y="353.27" width="4.9" height="4.87" fill="#FFF282"/>
<rect x="236.8" y="353.27" width="4.9" height="4.87" fill="#FFF282"/>
<rect x="26.8" y="358.14" width="4.9" height="4.87" fill="#FDAD66"/>
<rect x="31.7" y="358.14" width="4.9" height="4.87" fill="#FDAD66"/>
<rect x="36.6" y="358.14" width="4.9" height="4.87" fill="#FFF282"/>
<rect x="41.5" y="358.14" width="4.9" height="4.87" fill="#FFF282"/>
<rect x="48.1" y="358.14" width="4.9" height="4.87" fill="#FFF282"/>
<rect x="53" y="358.14" width="4.9" height="4.87" fill="#FDAD66"/>
<rect x="57.9" y="358.14" width="4.9" height="4.87" fill="#FFF282"/>
<rect x="64.5" y="358.14" width="4.9" height="4.87" fill="#FDAD66"/>
<rect x="69.4" y="358.14" width="4.9" height="4.87" fill="#FFF282"/>
<rect x="74.3" y="358.14" width="4.9" height="4.87" fill="#FC6E3E"/>
<rect x="79.2" y="358.14" width="4.9" height="4.87" fill="#FDAD66"/>
<rect x="85.8" y="358.14" width="4.9" height="4.87" fill="#FFF282"/>
<rect x="90.7" y="358.14" width="4.9" height="4.87" fill="#FFF282"/>
<rect x="97.3" y="358.14" width="4.9" height="4.87" fill="#FFF282"/>
<rect x="102.2" y="358.14" width="4.9" height="4.87" fill="#FFF282"/>
<rect x="107.1" y="358.14" width="4.9" height="4.87" fill="#FFF282"/>
<rect x="113.7" y="358.14" width="4.9" height="4.87" fill="#FFF282"/>
<rect x="120.3" y="358.14" width="4.9" height="4.87" fill="#FFF282"/>
<rect x="126.9" y="358.14" width="4.9" height="4.87" fill="#FDAD66"/>
<rect x="131.8" y="358.14" width="4.9" height="4.87" fill="#FDAD66"/>
<rect x="136.7" y="358.14" width="4.9" height="4.87" fill="#FFF282"/>
<rect x="141.6" y="358.14" width="4.9" height="4.87" fill="#FFF282"/>
<rect x="146.5" y="358.14" width="4.9" height="4.87" fill="#FFF282"/>
<rect x="153.1" y="358.14" width="4.9" height="4.87" fill="#FDAD66"/>
<rect x="158" y="358.14" width="4.9" height="4.87" fill="#FFF282"/>
<rect x="164.6" y="358.14" width="4.9" height="4.87" fill="#FFF282"/>
<rect x="169.5" y="358.14" width="4.9" height="4.87" fill="#FFF282"/>
<rect x="174.4" y="358.14" width="4.9" height="4.87" fill="#FFF282"/>
<rect x="179.3" y="358.14" width="4.9" height="4.87" fill="#FDAD66"/>
<rect x="185.9" y="358.14" width="4.9" height="4.87" fill="#FFF282"/>
<rect x="190.8" y="358.14" width="4.9" height="4.87" fill="#FFF282"/>
<rect x="195.7" y="358.14" width="4.9" height="4.87" fill="#FFF282"/>
<rect x="202.3" y="358.14" width="4.9" height="4.87" fill="#FDAD66"/>
<rect x="207.2" y="358.14" width="4.9" height="4.87" fill="#FFF282"/>
<rect x="212.1" y="358.14" width="4.9" height="4.87" fill="#FFF282"/>
<rect x="218.7" y="358.14" width="4.9" height="4.87" fill="#FDAD66"/>
<rect x="225.3" y="358.14" width="4.9" height="4.87" fill="#FFF282"/>
<rect x="231.9" y="358.14" width="4.9" height="4.87" fill="#FFF282"/>
<rect x="236.8" y="358.14" width="4.9" height="4.87" fill="#FFF282"/>
<rect x="26.8" y="363.01" width="4.9" height="4.87" fill="#FDAD66"/>
<rect x="31.7" y="363.01" width="4.9" height="4.87" fill="#FDAD66"/>
<rect x="36.6" y="363.01" width="4.9" height="4.87" fill="#FFF282"/>
<rect x="41.5" y="363.01" width="4.9" height="4.87" fill="#FFF282"/>
<rect x="48.1" y="363.01" width="4.9" height="4.87" fill="#FFF282"/>
<rect x="53" y="363.01" width="4.9" height="4.87" fill="#FDAD66"/>
<rect x="57.9" y="363.01" width="4.9" height="4.87" fill="#FDAD66"/>
<rect x="64.5" y="363.01" width="4.9" height="4.87" fill="#7A0A0A"/>
<rect x="69.4" y="363.01" width="4.9" height="4.87" fill="#FC6E3E"/>
<rect x="74.3" y="363.01" width="4.9" height="4.87" fill="#BC1212"/>
<rect x="79.2" y="363.01" width="4.9" height="4.87" fill="#BC1212"/>
<rect x="85.8" y="363.01" width="4.9" height="4.87" fill="#FFF282"/>
<rect x="90.7" y="363.01" width="4.9" height="4.87" fill="#FFF282"/>
<rect x="97.3" y="363.01" width="4.9" height="4.87" fill="#FFF282"/>
<rect x="102.2" y="363.01" width="4.9" height="4.87" fill="#FFF282"/>
<rect x="107.1" y="363.01" width="4.9" height="4.87" fill="#FFF282"/>
<rect x="113.7" y="363.01" width="4.9" height="4.87" fill="#FFF282"/>
<rect x="120.3" y="363.01" width="4.9" height="4.87" fill="#FFF282"/>
<rect x="126.9" y="363.01" width="4.9" height="4.87" fill="#FDAD66"/>
<rect x="131.8" y="363.01" width="4.9" height="4.87" fill="#FDAD66"/>
<rect x="136.7" y="363.01" width="4.9" height="4.87" fill="#FFF282"/>
<rect x="141.6" y="363.01" width="4.9" height="4.87" fill="#FFF282"/>
<rect x="146.5" y="363.01" width="4.9" height="4.87" fill="#FFF282"/>
<rect x="153.1" y="363.01" width="4.9" height="4.87" fill="#FDAD66"/>
<rect x="158" y="363.01" width="4.9" height="4.87" fill="#FFF282"/>
<rect x="164.6" y="363.01" width="4.9" height="4.87" fill="#FFF282"/>
<rect x="169.5" y="363.01" width="4.9" height="4.87" fill="#FFF282"/>
<rect x="174.4" y="363.01" width="4.9" height="4.87" fill="#FFF282"/>
<rect x="179.3" y="363.01" width="4.9" height="4.87" fill="#FDAD66"/>
<rect x="185.9" y="363.01" width="4.9" height="4.87" fill="#FFF282"/>
<rect x="190.8" y="363.01" width="4.9" height="4.87" fill="#FFF282"/>
<rect x="195.7" y="363.01" width="4.9" height="4.87" fill="#FFF282"/>
<rect x="202.3" y="363.01" width="4.9" height="4.87" fill="#FFF282"/>
<rect x="207.2" y="363.01" width="4.9" height="4.87" fill="#FFF282"/>
<rect x="212.1" y="363.01" width="4.9" height="4.87" fill="#FFF282"/>
<rect x="218.7" y="363.01" width="4.9" height="4.87" fill="#FDAD66"/>
<rect x="225.3" y="363.01" width="4.9" height="4.87" fill="#FFF282"/>
<rect x="231.9" y="363.01" width="4.9" height="4.87" fill="#FFF282"/>
<rect x="236.8" y="363.01" width="4.9" height="4.87" fill="#FFF282"/>
<rect x="26.8" y="367.88" width="4.9" height="4.87" fill="#FDAD66"/>
<rect x="31.7" y="367.88" width="4.9" height="4.87" fill="#FDAD66"/>
<rect x="36.6" y="367.88" width="4.9" height="4.87" fill="#FFF282"/>
<rect x="41.5" y="367.88" width="4.9" height="4.87" fill="#FFF282"/>
<rect x="48.1" y="367.88" width="4.9" height="4.87" fill="#FFF282"/>
<rect x="53" y="367.88" width="4.9" height="4.87" fill="#FDAD66"/>
<rect x="57.9" y="367.88" width="4.9" height="4.87" fill="#FFF282"/>
<rect x="64.5" y="367.88" width="4.9" height="4.87" fill="#FC6E3E"/>
<rect x="69.4" y="367.88" width="4.9" height="4.87" fill="#FDAD66"/>
<rect x="74.3" y="367.88" width="4.9" height="4.87" fill="#F61C19"/>
<rect x="79.2" y="367.88" width="4.9" height="4.87" fill="#FC6E3E"/>
<rect x="85.8" y="367.88" width="4.9" height="4.87" fill="#FFF282"/>
<rect x="90.7" y="367.88" width="4.9" height="4.87" fill="#FFF282"/>
<rect x="97.3" y="367.88" width="4.9" height="4.87" fill="#FFF282"/>
<rect x="102.2" y="367.88" width="4.9" height="4.87" fill="#FFF282"/>
<rect x="107.1" y="367.88" width="4.9" height="4.87" fill="#FFF282"/>
<rect x="113.7" y="367.88" width="4.9" height="4.87" fill="#FFF282"/>
<rect x="120.3" y="367.88" width="4.9" height="4.87" fill="#FFF282"/>
<rect x="126.9" y="367.88" width="4.9" height="4.87" fill="#FDAD66"/>
<rect x="131.8" y="367.88" width="4.9" height="4.87" fill="#FFF282"/>
<rect x="136.7" y="367.88" width="4.9" height="4.87" fill="#FDAD66"/>
<rect x="141.6" y="367.88" width="4.9" height="4.87" fill="#FFF282"/>
<rect x="146.5" y="367.88" width="4.9" height="4.87" fill="#FFF282"/>
<rect x="153.1" y="367.88" width="4.9" height="4.87" fill="#FFF282"/>
<rect x="158" y="367.88" width="4.9" height="4.87" fill="#FFF282"/>
<rect x="164.6" y="367.88" width="4.9" height="4.87" fill="#FFF282"/>
<rect x="169.5" y="367.88" width="4.9" height="4.87" fill="#FFF282"/>
<rect x="174.4" y="367.88" width="4.9" height="4.87" fill="#FFF282"/>
<rect x="179.3" y="367.88" width="4.9" height="4.87" fill="#FDAD66"/>
<rect x="185.9" y="367.88" width="4.9" height="4.87" fill="#FFF282"/>
<rect x="190.8" y="367.88" width="4.9" height="4.87" fill="#FFF282"/>
<rect x="195.7" y="367.88" width="4.9" height="4.87" fill="#FFF282"/>
<rect x="202.3" y="367.88" width="4.9" height="4.87" fill="#FFF282"/>
<rect x="207.2" y="367.88" width="4.9" height="4.87" fill="#FFF282"/>
<rect x="212.1" y="367.88" width="4.9" height="4.87" fill="#FFF282"/>
<rect x="218.7" y="367.88" width="4.9" height="4.87" fill="#FC6E3E"/>
<rect x="225.3" y="367.88" width="4.9" height="4.87" fill="#FFF282"/>
<rect x="231.9" y="367.88" width="4.9" height="4.87" fill="#FDAD66"/>
<rect x="236.8" y="367.88" width="4.9" height="4.87" fill="#FFF282"/>
<rect x="26.8" y="372.75" width="4.9" height="4.87" fill="#FFF282"/>
<rect x="31.7" y="372.75" width="4.9" height="4.87" fill="#FDAD66"/>
<rect x="36.6" y="372.75" width="4.9" height="4.87" fill="#FFF282"/>
<rect x="41.5" y="372.75" width="4.9" height="4.87" fill="#FFF282"/>
<rect x="48.1" y="372.75" width="4.9" height="4.87" fill="#FFF282"/>
<rect x="53" y="372.75" width="4.9" height="4.87" fill="#FFF282"/>
<rect x="57.9" y="372.75" width="4.9" height="4.87" fill="#FDAD66"/>
<rect x="64.5" y="372.75" width="4.9" height="4.87" fill="#7A0A0A"/>
<rect x="69.4" y="372.75" width="4.9" height="4.87" fill="#FC6E3E"/>
<rect x="74.3" y="372.75" width="4.9" height="4.87" fill="#FFF282"/>
<rect x="79.2" y="372.75" width="4.9" height="4.87" fill="#BC1212"/>
<rect x="85.8" y="372.75" width="4.9" height="4.87" fill="#FFF282"/>
<rect x="90.7" y="372.75" width="4.9" height="4.87" fill="#FFF282"/>
<rect x="97.3" y="372.75" width="4.9" height="4.87" fill="#FFF282"/>
<rect x="102.2" y="372.75" width="4.9" height="4.87" fill="#FFF282"/>
<rect x="107.1" y="372.75" width="4.9" height="4.87" fill="#FFF282"/>
<rect x="113.7" y="372.75" width="4.9" height="4.87" fill="#FFF282"/>
<rect x="120.3" y="372.75" width="4.9" height="4.87" fill="#FFF282"/>
<rect x="126.9" y="372.75" width="4.9" height="4.87" fill="#FFF282"/>
<rect x="131.8" y="372.75" width="4.9" height="4.87" fill="#FDAD66"/>
<rect x="136.7" y="372.75" width="4.9" height="4.87" fill="#FFF282"/>
<rect x="141.6" y="372.75" width="4.9" height="4.87" fill="#FDAD66"/>
<rect x="146.5" y="372.75" width="4.9" height="4.87" fill="#FDAD66"/>
<rect x="153.1" y="372.75" width="4.9" height="4.87" fill="#FDAD66"/>
<rect x="158" y="372.75" width="4.9" height="4.87" fill="#FFF282"/>
<rect x="164.6" y="372.75" width="4.9" height="4.87" fill="#FFF282"/>
<rect x="169.5" y="372.75" width="4.9" height="4.87" fill="#FFF282"/>
<rect x="174.4" y="372.75" width="4.9" height="4.87" fill="#FFF282"/>
<rect x="179.3" y="372.75" width="4.9" height="4.87" fill="#FFF282"/>
<rect x="185.9" y="372.75" width="4.9" height="4.87" fill="#FDAD66"/>
<rect x="190.8" y="372.75" width="4.9" height="4.87" fill="#FFF282"/>
<rect x="195.7" y="372.75" width="4.9" height="4.87" fill="#FFF282"/>
<rect x="202.3" y="372.75" width="4.9" height="4.87" fill="#FDAD66"/>
<rect x="207.2" y="372.75" width="4.9" height="4.87" fill="#FDAD66"/>
<rect x="212.1" y="372.75" width="4.9" height="4.87" fill="#FFF282"/>
<rect x="218.7" y="372.75" width="4.9" height="4.87" fill="#FFF282"/>
<rect x="225.3" y="372.75" width="4.9" height="4.87" fill="#FFF282"/>
<rect x="231.9" y="372.75" width="4.9" height="4.87" fill="#FFF282"/>
<rect x="236.8" y="372.75" width="4.9" height="4.87" fill="#FFF282"/>
<rect x="26.8" y="377.62" width="4.9" height="4.87" fill="#FFF282"/>
<rect x="31.7" y="377.62" width="4.9" height="4.87" fill="#FDAD66"/>
<rect x="36.6" y="377.62" width="4.9" height="4.87" fill="#FFF282"/>
<rect x="41.5" y="377.62" width="4.9" height="4.87" fill="#FFF282"/>
<rect x="48.1" y="377.62" width="4.9" height="4.87" fill="#FFF282"/>
<rect x="53" y="377.62" width="4.9" height="4.87" fill="#FFF282"/>
<rect x="57.9" y="377.62" width="4.9" height="4.87" fill="#FDAD66"/>
<rect x="64.5" y="377.62" width="4.9" height="4.87" fill="#FC6E3E"/>
<rect x="69.4" y="377.62" width="4.9" height="4.87" fill="#FDAD66"/>
<rect x="74.3" y="377.62" width="4.9" height="4.87" fill="#FFF282"/>
<rect x="79.2" y="377.62" width="4.9" height="4.87" fill="#FC6E3E"/>
<rect x="85.8" y="377.62" width="4.9" height="4.87" fill="#FFF282"/>
<rect x="90.7" y="377.62" width="4.9" height="4.87" fill="#FFF282"/>
<rect x="97.3" y="377.62" width="4.9" height="4.87" fill="#FFF282"/>
<rect x="102.2" y="377.62" width="4.9" height="4.87" fill="#FFF282"/>
<rect x="107.1" y="377.62" width="4.9" height="4.87" fill="#FFF282"/>
<rect x="113.7" y="377.62" width="4.9" height="4.87" fill="#FFF282"/>
<rect x="120.3" y="377.62" width="4.9" height="4.87" fill="#FFF282"/>
<rect x="126.9" y="377.62" width="4.9" height="4.87" fill="#FFF282"/>
<rect x="131.8" y="377.62" width="4.9" height="4.87" fill="#FC6E3E"/>
<rect x="136.7" y="377.62" width="4.9" height="4.87" fill="#FFF282"/>
<rect x="141.6" y="377.62" width="4.9" height="4.87" fill="#FDAD66"/>
<rect x="146.5" y="377.62" width="4.9" height="4.87" fill="#FC6E3E"/>
<rect x="153.1" y="377.62" width="4.9" height="4.87" fill="#FDAD66"/>
<rect x="158" y="377.62" width="4.9" height="4.87" fill="#FFF282"/>
<rect x="164.6" y="377.62" width="4.9" height="4.87" fill="#FFF282"/>
<rect x="169.5" y="377.62" width="4.9" height="4.87" fill="#FFF282"/>
<rect x="174.4" y="377.62" width="4.9" height="4.87" fill="#FFF282"/>
<rect x="179.3" y="377.62" width="4.9" height="4.87" fill="#FFF282"/>
<rect x="185.9" y="377.62" width="4.9" height="4.87" fill="#FDAD66"/>
<rect x="190.8" y="377.62" width="4.9" height="4.87" fill="#FFF282"/>
<rect x="195.7" y="377.62" width="4.9" height="4.87" fill="#FFF282"/>
<rect x="202.3" y="377.62" width="4.9" height="4.87" fill="#FDAD66"/>
<rect x="207.2" y="377.62" width="4.9" height="4.87" fill="#FDAD66"/>
<rect x="212.1" y="377.62" width="4.9" height="4.87" fill="#FFF282"/>
<rect x="218.7" y="377.62" width="4.9" height="4.87" fill="#FFF282"/>
<rect x="225.3" y="377.62" width="4.9" height="4.87" fill="#FFF282"/>
<rect x="231.9" y="377.62" width="4.9" height="4.87" fill="#FFF282"/>
<rect x="236.8" y="377.62" width="4.9" height="4.87" fill="#FFF282"/>
<rect x="26.8" y="382.49" width="4.9" height="4.87" fill="#FDAD66"/>
<rect x="31.7" y="382.49" width="4.9" height="4.87" fill="#FDAD66"/>
<rect x="36.6" y="382.49" width="4.9" height="4.87" fill="#FFF282"/>
<rect x="41.5" y="382.49" width="4.9" height="4.87" fill="#FFF282"/>
<rect x="48.1" y="382.49" width="4.9" height="4.87" fill="#FFF282"/>
<rect x="53" y="382.49" width="4.9" height="4.87" fill="#FDAD66"/>
<rect x="57.9" y="382.49" width="4.9" height="4.87" fill="#FFF282"/>
<rect x="64.5" y="382.49" width="4.9" height="4.87" fill="#FC6E3E"/>
<rect x="69.4" y="382.49" width="4.9" height="4.87" fill="#FDAD66"/>
<rect x="74.3" y="382.49" width="4.9" height="4.87" fill="#F61C19"/>
<rect x="79.2" y="382.49" width="4.9" height="4.87" fill="#F61C19"/>
<rect x="85.8" y="382.49" width="4.9" height="4.87" fill="#FFF282"/>
<rect x="90.7" y="382.49" width="4.9" height="4.87" fill="#FFF282"/>
<rect x="97.3" y="382.49" width="4.9" height="4.87" fill="#FFF282"/>
<rect x="102.2" y="382.49" width="4.9" height="4.87" fill="#FFF282"/>
<rect x="107.1" y="382.49" width="4.9" height="4.87" fill="#FFF282"/>
<rect x="113.7" y="382.49" width="4.9" height="4.87" fill="#FFF282"/>
<rect x="120.3" y="382.49" width="4.9" height="4.87" fill="#FFF282"/>
<rect x="126.9" y="382.49" width="4.9" height="4.87" fill="#FDAD66"/>
<rect x="131.8" y="382.49" width="4.9" height="4.87" fill="#FFF282"/>
<rect x="136.7" y="382.49" width="4.9" height="4.87" fill="#FDAD66"/>
<rect x="141.6" y="382.49" width="4.9" height="4.87" fill="#FFF282"/>
<rect x="146.5" y="382.49" width="4.9" height="4.87" fill="#FFF282"/>
<rect x="153.1" y="382.49" width="4.9" height="4.87" fill="#FFF282"/>
<rect x="158" y="382.49" width="4.9" height="4.87" fill="#FFF282"/>
<rect x="164.6" y="382.49" width="4.9" height="4.87" fill="#FFF282"/>
<rect x="169.5" y="382.49" width="4.9" height="4.87" fill="#FFF282"/>
<rect x="174.4" y="382.49" width="4.9" height="4.87" fill="#FFF282"/>
<rect x="179.3" y="382.49" width="4.9" height="4.87" fill="#FFF282"/>
<rect x="185.9" y="382.49" width="4.9" height="4.87" fill="#FFF282"/>
<rect x="190.8" y="382.49" width="4.9" height="4.87" fill="#FFF282"/>
<rect x="195.7" y="382.49" width="4.9" height="4.87" fill="#FFF282"/>
<rect x="202.3" y="382.49" width="4.9" height="4.87" fill="#FDAD66"/>
<rect x="207.2" y="382.49" width="4.9" height="4.87" fill="#FFF282"/>
<rect x="212.1" y="382.49" width="4.9" height="4.87" fill="#FFF282"/>
<rect x="218.7" y="382.49" width="4.9" height="4.87" fill="#FC6E3E"/>
<rect x="225.3" y="382.49" width="4.9" height="4.87" fill="#FFF282"/>
<rect x="231.9" y="382.49" width="4.9" height="4.87" fill="#FDAD66"/>
<rect x="236.8" y="382.49" width="4.9" height="4.87" fill="#FFF282"/>
<rect x="26.8" y="387.36" width="4.9" height="4.87" fill="#FDAD66"/>
<rect x="31.7" y="387.36" width="4.9" height="4.87" fill="#FDAD66"/>
<rect x="36.6" y="387.36" width="4.9" height="4.87" fill="#FFF282"/>
<rect x="41.5" y="387.36" width="4.9" height="4.87" fill="#FFF282"/>
<rect x="48.1" y="387.36" width="4.9" height="4.87" fill="#FFF282"/>
<rect x="53" y="387.36" width="4.9" height="4.87" fill="#FDAD66"/>
<rect x="57.9" y="387.36" width="4.9" height="4.87" fill="#FFF282"/>
<rect x="64.5" y="387.36" width="4.9" height="4.87" fill="#FC6E3E"/>
<rect x="69.4" y="387.36" width="4.9" height="4.87" fill="#FDAD66"/>
<rect x="74.3" y="387.36" width="4.9" height="4.87" fill="#FC6E3E"/>
<rect x="79.2" y="387.36" width="4.9" height="4.87" fill="#FC6E3E"/>
<rect x="85.8" y="387.36" width="4.9" height="4.87" fill="#FFF282"/>
<rect x="90.7" y="387.36" width="4.9" height="4.87" fill="#FFF282"/>
<rect x="97.3" y="387.36" width="4.9" height="4.87" fill="#FFF282"/>
<rect x="102.2" y="387.36" width="4.9" height="4.87" fill="#FFF282"/>
<rect x="107.1" y="387.36" width="4.9" height="4.87" fill="#FFF282"/>
<rect x="113.7" y="387.36" width="4.9" height="4.87" fill="#FFF282"/>
<rect x="120.3" y="387.36" width="4.9" height="4.87" fill="#FFF282"/>
<rect x="126.9" y="387.36" width="4.9" height="4.87" fill="#FDAD66"/>
<rect x="131.8" y="387.36" width="4.9" height="4.87" fill="#FDAD66"/>
<rect x="136.7" y="387.36" width="4.9" height="4.87" fill="#FFF282"/>
<rect x="141.6" y="387.36" width="4.9" height="4.87" fill="#FFF282"/>
<rect x="146.5" y="387.36" width="4.9" height="4.87" fill="#FFF282"/>
<rect x="153.1" y="387.36" width="4.9" height="4.87" fill="#FFF282"/>
<rect x="158" y="387.36" width="4.9" height="4.87" fill="#FFF282"/>
<rect x="164.6" y="387.36" width="4.9" height="4.87" fill="#FFF282"/>
<rect x="169.5" y="387.36" width="4.9" height="4.87" fill="#FFF282"/>
<rect x="174.4" y="387.36" width="4.9" height="4.87" fill="#FFF282"/>
<rect x="179.3" y="387.36" width="4.9" height="4.87" fill="#FDAD66"/>
<rect x="185.9" y="387.36" width="4.9" height="4.87" fill="#FFF282"/>
<rect x="190.8" y="387.36" width="4.9" height="4.87" fill="#FFF282"/>
<rect x="195.7" y="387.36" width="4.9" height="4.87" fill="#FFF282"/>
<rect x="202.3" y="387.36" width="4.9" height="4.87" fill="#FFF282"/>
<rect x="207.2" y="387.36" width="4.9" height="4.87" fill="#FDAD66"/>
<rect x="212.1" y="387.36" width="4.9" height="4.87" fill="#FFF282"/>
<rect x="218.7" y="387.36" width="4.9" height="4.87" fill="#FFF282"/>
<rect x="225.3" y="387.36" width="4.9" height="4.87" fill="#FFF282"/>
<rect x="231.9" y="387.36" width="4.9" height="4.87" fill="#FFF282"/>
<rect x="236.8" y="387.36" width="4.9" height="4.87" fill="#FFF282"/>
<rect x="26.8" y="392.23" width="4.9" height="4.87" fill="#FFF282"/>
<rect x="31.7" y="392.23" width="4.9" height="4.87" fill="#FDAD66"/>
<rect x="36.6" y="392.23" width="4.9" height="4.87" fill="#FFF282"/>
<rect x="41.5" y="392.23" width="4.9" height="4.87" fill="#FFF282"/>
<rect x="48.1" y="392.23" width="4.9" height="4.87" fill="#FFF282"/>
<rect x="53" y="392.23" width="4.9" height="4.87" fill="#FFF282"/>
<rect x="57.9" y="392.23" width="4.9" height="4.87" fill="#FDAD66"/>
<rect x="64.5" y="392.23" width="4.9" height="4.87" fill="#F61C19"/>
<rect x="69.4" y="392.23" width="4.9" height="4.87" fill="#FDAD66"/>
<rect x="74.3" y="392.23" width="4.9" height="4.87" fill="#FFF282"/>
<rect x="79.2" y="392.23" width="4.9" height="4.87" fill="#7A0A0A"/>
<rect x="85.8" y="392.23" width="4.9" height="4.87" fill="#FFF282"/>
<rect x="90.7" y="392.23" width="4.9" height="4.87" fill="#FFF282"/>
<rect x="97.3" y="392.23" width="4.9" height="4.87" fill="#FFF282"/>
<rect x="102.2" y="392.23" width="4.9" height="4.87" fill="#FFF282"/>
<rect x="107.1" y="392.23" width="4.9" height="4.87" fill="#FFF282"/>
<rect x="113.7" y="392.23" width="4.9" height="4.87" fill="#FFF282"/>
<rect x="120.3" y="392.23" width="4.9" height="4.87" fill="#FFF282"/>
<rect x="126.9" y="392.23" width="4.9" height="4.87" fill="#FFF282"/>
<rect x="131.8" y="392.23" width="4.9" height="4.87" fill="#FC6E3E"/>
<rect x="136.7" y="392.23" width="4.9" height="4.87" fill="#FFF282"/>
<rect x="141.6" y="392.23" width="4.9" height="4.87" fill="#FDAD66"/>
<rect x="146.5" y="392.23" width="4.9" height="4.87" fill="#FDAD66"/>
<rect x="153.1" y="392.23" width="4.9" height="4.87" fill="#FDAD66"/>
<rect x="158" y="392.23" width="4.9" height="4.87" fill="#FFF282"/>
<rect x="164.6" y="392.23" width="4.9" height="4.87" fill="#FFF282"/>
<rect x="169.5" y="392.23" width="4.9" height="4.87" fill="#FFF282"/>
<rect x="174.4" y="392.23" width="4.9" height="4.87" fill="#FFF282"/>
<rect x="179.3" y="392.23" width="4.9" height="4.87" fill="#FDAD66"/>
<rect x="185.9" y="392.23" width="4.9" height="4.87" fill="#FDAD66"/>
<rect x="190.8" y="392.23" width="4.9" height="4.87" fill="#FFF282"/>
<rect x="195.7" y="392.23" width="4.9" height="4.87" fill="#FFF282"/>
<rect x="202.3" y="392.23" width="4.9" height="4.87" fill="#FFF282"/>
<rect x="207.2" y="392.23" width="4.9" height="4.87" fill="#FFF282"/>
<rect x="212.1" y="392.23" width="4.9" height="4.87" fill="#FFF282"/>
<rect x="218.7" y="392.23" width="4.9" height="4.87" fill="#FFF282"/>
<rect x="225.3" y="392.23" width="4.9" height="4.87" fill="#FFF282"/>
<rect x="231.9" y="392.23" width="4.9" height="4.87" fill="#FFF282"/>
<rect x="236.8" y="392.23" width="4.9" height="4.87" fill="#FFF282"/>
<rect x="26.8" y="397.1" width="4.9" height="4.87" fill="#FFF282"/>
<rect x="31.7" y="397.1" width="4.9" height="4.87" fill="#FDAD66"/>
<rect x="36.6" y="397.1" width="4.9" height="4.87" fill="#FFF282"/>
<rect x="41.5" y="397.1" width="4.9" height="4.87" fill="#FFF282"/>
<rect x="48.1" y="397.1" width="4.9" height="4.87" fill="#FFF282"/>
<rect x="53" y="397.1" width="4.9" height="4.87" fill="#FFF282"/>
<rect x="57.9" y="397.1" width="4.9" height="4.87" fill="#FDAD66"/>
<rect x="64.5" y="397.1" width="4.9" height="4.87" fill="#F61C19"/>
<rect x="69.4" y="397.1" width="4.9" height="4.87" fill="#FC6E3E"/>
<rect x="74.3" y="397.1" width="4.9" height="4.87" fill="#FFF282"/>
<rect x="79.2" y="397.1" width="4.9" height="4.87" fill="#F61C19"/>
<rect x="85.8" y="397.1" width="4.9" height="4.87" fill="#FFF282"/>
<rect x="90.7" y="397.1" width="4.9" height="4.87" fill="#FFF282"/>
<rect x="97.3" y="397.1" width="4.9" height="4.87" fill="#FFF282"/>
<rect x="102.2" y="397.1" width="4.9" height="4.87" fill="#FFF282"/>
<rect x="107.1" y="397.1" width="4.9" height="4.87" fill="#FFF282"/>
<rect x="113.7" y="397.1" width="4.9" height="4.87" fill="#FFF282"/>
<rect x="120.3" y="397.1" width="4.9" height="4.87" fill="#FFF282"/>
<rect x="126.9" y="397.1" width="4.9" height="4.87" fill="#FFF282"/>
<rect x="131.8" y="397.1" width="4.9" height="4.87" fill="#FDAD66"/>
<rect x="136.7" y="397.1" width="4.9" height="4.87" fill="#FFF282"/>
<rect x="141.6" y="397.1" width="4.9" height="4.87" fill="#FFF282"/>
<rect x="146.5" y="397.1" width="4.9" height="4.87" fill="#FFF282"/>
<rect x="153.1" y="397.1" width="4.9" height="4.87" fill="#FDAD66"/>
<rect x="158" y="397.1" width="4.9" height="4.87" fill="#FFF282"/>
<rect x="164.6" y="397.1" width="4.9" height="4.87" fill="#FFF282"/>
<rect x="169.5" y="397.1" width="4.9" height="4.87" fill="#FFF282"/>
<rect x="174.4" y="397.1" width="4.9" height="4.87" fill="#FFF282"/>
<rect x="179.3" y="397.1" width="4.9" height="4.87" fill="#FC6E3E"/>
<rect x="185.9" y="397.1" width="4.9" height="4.87" fill="#FFF282"/>
<rect x="190.8" y="397.1" width="4.9" height="4.87" fill="#FFF282"/>
<rect x="195.7" y="397.1" width="4.9" height="4.87" fill="#FFF282"/>
<rect x="202.3" y="397.1" width="4.9" height="4.87" fill="#FDAD66"/>
<rect x="207.2" y="397.1" width="4.9" height="4.87" fill="#FDAD66"/>
<rect x="212.1" y="397.1" width="4.9" height="4.87" fill="#FDAD66"/>
<rect x="218.7" y="397.1" width="4.9" height="4.87" fill="#FFF282"/>
<rect x="225.3" y="397.1" width="4.9" height="4.87" fill="#FFF282"/>
<rect x="231.9" y="397.1" width="4.9" height="4.87" fill="#FFF282"/>
<rect x="236.8" y="397.1" width="4.9" height="4.87" fill="#FFF282"/>
<rect x="26.8" y="401.97" width="4.9" height="4.87" fill="#FFF282"/>
<rect x="31.7" y="401.97" width="4.9" height="4.87" fill="#FDAD66"/>
<rect x="36.6" y="401.97" width="4.9" height="4.87" fill="#FFF282"/>
<rect x="41.5" y="401.97" width="4.9" height="4.87" fill="#FFF282"/>
<rect x="48.1" y="401.97" width="4.9" height="4.87" fill="#FFF282"/>
<rect x="53" y="401.97" width="4.9" height="4.87" fill="#FFF282"/>
<rect x="57.9" y="401.97" width="4.9" height="4.87" fill="#FDAD66"/>
<rect x="64.5" y="401.97" width="4.9" height="4.87" fill="#FDAD66"/>
<rect x="69.4" y="401.97" width="4.9" height="4.87" fill="#FDAD66"/>
<rect x="74.3" y="401.97" width="4.9" height="4.87" fill="#FFF282"/>
<rect x="79.2" y="401.97" width="4.9" height="4.87" fill="#FC6E3E"/>
<rect x="85.8" y="401.97" width="4.9" height="4.87" fill="#FFF282"/>
<rect x="90.7" y="401.97" width="4.9" height="4.87" fill="#FFF282"/>
<rect x="97.3" y="401.97" width="4.9" height="4.87" fill="#FFF282"/>
<rect x="102.2" y="401.97" width="4.9" height="4.87" fill="#FFF282"/>
<rect x="107.1" y="401.97" width="4.9" height="4.87" fill="#FFF282"/>
<rect x="113.7" y="401.97" width="4.9" height="4.87" fill="#FFF282"/>
<rect x="120.3" y="401.97" width="4.9" height="4.87" fill="#FFF282"/>
<rect x="126.9" y="401.97" width="4.9" height="4.87" fill="#FFF282"/>
<rect x="131.8" y="401.97" width="4.9" height="4.87" fill="#FDAD66"/>
<rect x="136.7" y="401.97" width="4.9" height="4.87" fill="#FFF282"/>
<rect x="141.6" y="401.97" width="4.9" height="4.87" fill="#FDAD66"/>
<rect x="146.5" y="401.97" width="4.9" height="4.87" fill="#FDAD66"/>
<rect x="153.1" y="401.97" width="4.9" height="4.87" fill="#FDAD66"/>
<rect x="158" y="401.97" width="4.9" height="4.87" fill="#FFF282"/>
<rect x="164.6" y="401.97" width="4.9" height="4.87" fill="#FFF282"/>
<rect x="169.5" y="401.97" width="4.9" height="4.87" fill="#FFF282"/>
<rect x="174.4" y="401.97" width="4.9" height="4.87" fill="#FFF282"/>
<rect x="179.3" y="401.97" width="4.9" height="4.87" fill="#FC6E3E"/>
<rect x="185.9" y="401.97" width="4.9" height="4.87" fill="#FFF282"/>
<rect x="190.8" y="401.97" width="4.9" height="4.87" fill="#FFF282"/>
<rect x="195.7" y="401.97" width="4.9" height="4.87" fill="#FFF282"/>
<rect x="202.3" y="401.97" width="4.9" height="4.87" fill="#FDAD66"/>
<rect x="207.2" y="401.97" width="4.9" height="4.87" fill="#FFF282"/>
<rect x="212.1" y="401.97" width="4.9" height="4.87" fill="#FFF282"/>
<rect x="218.7" y="401.97" width="4.9" height="4.87" fill="#FFF282"/>
<rect x="225.3" y="401.97" width="4.9" height="4.87" fill="#FFF282"/>
<rect x="231.9" y="401.97" width="4.9" height="4.87" fill="#FFF282"/>
<rect x="236.8" y="401.97" width="4.9" height="4.87" fill="#FFF282"/>
<rect x="26.8" y="406.84" width="4.9" height="4.87" fill="#FFF282"/>
<rect x="31.7" y="406.84" width="4.9" height="4.87" fill="#FDAD66"/>
<rect x="36.6" y="406.84" width="4.9" height="4.87" fill="#FFF282"/>
<rect x="41.5" y="406.84" width="4.9" height="4.87" fill="#FFF282"/>
<rect x="48.1" y="406.84" width="4.9" height="4.87" fill="#FFF282"/>
<rect x="53" y="406.84" width="4.9" height="4.87" fill="#FFF282"/>
<rect x="57.9" y="406.84" width="4.9" height="4.87" fill="#FDAD66"/>
<rect x="64.5" y="406.84" width="4.9" height="4.87" fill="#FC6E3E"/>
<rect x="69.4" y="406.84" width="4.9" height="4.87" fill="#FDAD66"/>
<rect x="74.3" y="406.84" width="4.9" height="4.87" fill="#FFF282"/>
<rect x="79.2" y="406.84" width="4.9" height="4.87" fill="#F61C19"/>
<rect x="85.8" y="406.84" width="4.9" height="4.87" fill="#FFF282"/>
<rect x="90.7" y="406.84" width="4.9" height="4.87" fill="#FFF282"/>
<rect x="97.3" y="406.84" width="4.9" height="4.87" fill="#FFF282"/>
<rect x="102.2" y="406.84" width="4.9" height="4.87" fill="#FFF282"/>
<rect x="107.1" y="406.84" width="4.9" height="4.87" fill="#FFF282"/>
<rect x="113.7" y="406.84" width="4.9" height="4.87" fill="#FFF282"/>
<rect x="120.3" y="406.84" width="4.9" height="4.87" fill="#FFF282"/>
<rect x="126.9" y="406.84" width="4.9" height="4.87" fill="#FFF282"/>
<rect x="131.8" y="406.84" width="4.9" height="4.87" fill="#FFF282"/>
<rect x="136.7" y="406.84" width="4.9" height="4.87" fill="#FFF282"/>
<rect x="141.6" y="406.84" width="4.9" height="4.87" fill="#FDAD66"/>
<rect x="146.5" y="406.84" width="4.9" height="4.87" fill="#FDAD66"/>
<rect x="153.1" y="406.84" width="4.9" height="4.87" fill="#FDAD66"/>
<rect x="158" y="406.84" width="4.9" height="4.87" fill="#FFF282"/>
<rect x="164.6" y="406.84" width="4.9" height="4.87" fill="#FFF282"/>
<rect x="169.5" y="406.84" width="4.9" height="4.87" fill="#FFF282"/>
<rect x="174.4" y="406.84" width="4.9" height="4.87" fill="#FFF282"/>
<rect x="179.3" y="406.84" width="4.9" height="4.87" fill="#FC6E3E"/>
<rect x="185.9" y="406.84" width="4.9" height="4.87" fill="#FFF282"/>
<rect x="190.8" y="406.84" width="4.9" height="4.87" fill="#FFF282"/>
<rect x="195.7" y="406.84" width="4.9" height="4.87" fill="#FFF282"/>
<rect x="202.3" y="406.84" width="4.9" height="4.87" fill="#FDAD66"/>
<rect x="207.2" y="406.84" width="4.9" height="4.87" fill="#FDAD66"/>
<rect x="212.1" y="406.84" width="4.9" height="4.87" fill="#FFF282"/>
<rect x="218.7" y="406.84" width="4.9" height="4.87" fill="#FFF282"/>
<rect x="225.3" y="406.84" width="4.9" height="4.87" fill="#FFF282"/>
<rect x="231.9" y="406.84" width="4.9" height="4.87" fill="#FFF282"/>
<rect x="236.8" y="406.84" width="4.9" height="4.87" fill="#FFF282"/>
<rect x="26.8" y="411.71" width="4.9" height="4.87" fill="#FFF282"/>
<rect x="31.7" y="411.71" width="4.9" height="4.87" fill="#FFF282"/>
<rect x="36.6" y="411.71" width="4.9" height="4.87" fill="#FFF282"/>
<rect x="41.5" y="411.71" width="4.9" height="4.87" fill="#FFF282"/>
<rect x="48.1" y="411.71" width="4.9" height="4.87" fill="#FFF282"/>
<rect x="53" y="411.71" width="4.9" height="4.87" fill="#FDAD66"/>
<rect x="57.9" y="411.71" width="4.9" height="4.87" fill="#FFF282"/>
<rect x="64.5" y="411.71" width="4.9" height="4.87" fill="#FDAD66"/>
<rect x="69.4" y="411.71" width="4.9" height="4.87" fill="#FFF282"/>
<rect x="74.3" y="411.71" width="4.9" height="4.87" fill="#FDAD66"/>
<rect x="79.2" y="411.71" width="4.9" height="4.87" fill="#FFF282"/>
<rect x="85.8" y="411.71" width="4.9" height="4.87" fill="#FFF282"/>
<rect x="90.7" y="411.71" width="4.9" height="4.87" fill="#FFF282"/>
<rect x="97.3" y="411.71" width="4.9" height="4.87" fill="#FFF282"/>
<rect x="102.2" y="411.71" width="4.9" height="4.87" fill="#FFF282"/>
<rect x="107.1" y="411.71" width="4.9" height="4.87" fill="#FFF282"/>
<rect x="113.7" y="411.71" width="4.9" height="4.87" fill="#FFF282"/>
<rect x="120.3" y="411.71" width="4.9" height="4.87" fill="#FFF282"/>
<rect x="126.9" y="411.71" width="4.9" height="4.87" fill="#FDAD66"/>
<rect x="131.8" y="411.71" width="4.9" height="4.87" fill="#FDAD66"/>
<rect x="136.7" y="411.71" width="4.9" height="4.87" fill="#FDAD66"/>
<rect x="141.6" y="411.71" width="4.9" height="4.87" fill="#FFF282"/>
<rect x="146.5" y="411.71" width="4.9" height="4.87" fill="#FDAD66"/>
<rect x="153.1" y="411.71" width="4.9" height="4.87" fill="#FFF282"/>
<rect x="158" y="411.71" width="4.9" height="4.87" fill="#FFF282"/>
<rect x="164.6" y="411.71" width="4.9" height="4.87" fill="#FDAD66"/>
<rect x="169.5" y="411.71" width="4.9" height="4.87" fill="#FDAD66"/>
<rect x="174.4" y="411.71" width="4.9" height="4.87" fill="#FFF282"/>
<rect x="179.3" y="411.71" width="4.9" height="4.87" fill="#FFF282"/>
<rect x="185.9" y="411.71" width="4.9" height="4.87" fill="#FDAD66"/>
<rect x="190.8" y="411.71" width="4.9" height="4.87" fill="#FDAD66"/>
<rect x="195.7" y="411.71" width="4.9" height="4.87" fill="#FFF282"/>
<rect x="202.3" y="411.71" width="4.9" height="4.87" fill="#FFF282"/>
<rect x="207.2" y="411.71" width="4.9" height="4.87" fill="#FFF282"/>
<rect x="212.1" y="411.71" width="4.9" height="4.87" fill="#FFF282"/>
<rect x="218.7" y="411.71" width="4.9" height="4.87" fill="#FFF282"/>
<rect x="225.3" y="411.71" width="4.9" height="4.87" fill="#FFF282"/>
<rect x="231.9" y="411.71" width="4.9" height="4.87" fill="#FFF282"/>
<rect x="236.8" y="411.71" width="4.9" height="4.87" fill="#FFF282"/>
<rect x="26.8" y="416.58" width="4.9" height="4.87" fill="#FFF282"/>
<rect x="31.7" y="416.58" width="4.9" height="4.87" fill="#FFF282"/>
<rect x="36.6" y="416.58" width="4.9" height="4.87" fill="#FFF282"/>
<rect x="41.5" y="416.58" width="4.9" height="4.87" fill="#FDAD66"/>
<rect x="48.1" y="416.58" width="4.9" height="4.87" fill="#FFF282"/>
<rect x="53" y="416.58" width="4.9" height="4.87" fill="#FFF282"/>
<rect x="57.9" y="416.58" width="4.9" height="4.87" fill="#FFF282"/>
<rect x="64.5" y="416.58" width="4.9" height="4.87" fill="#FFF282"/>
<rect x="69.4" y="416.58" width="4.9" height="4.87" fill="#FFF282"/>
<rect x="74.3" y="416.58" width="4.9" height="4.87" fill="#FFF282"/>
<rect x="79.2" y="416.58" width="4.9" height="4.87" fill="#FFF282"/>
<rect x="85.8" y="416.58" width="4.9" height="4.87" fill="#FFF282"/>
<rect x="90.7" y="416.58" width="4.9" height="4.87" fill="#FFF282"/>
<rect x="97.3" y="416.58" width="4.9" height="4.87" fill="#FFF282"/>
<rect x="102.2" y="416.58" width="4.9" height="4.87" fill="#FFF282"/>
<rect x="107.1" y="416.58" width="4.9" height="4.87" fill="#FFF282"/>
<rect x="113.7" y="416.58" width="4.9" height="4.87" fill="#FC6E3E"/>
<rect x="120.3" y="416.58" width="4.9" height="4.87" fill="#FFF282"/>
<rect x="126.9" y="416.58" width="4.9" height="4.87" fill="#FC6E3E"/>
<rect x="131.8" y="416.58" width="4.9" height="4.87" fill="#FC6E3E"/>
<rect x="136.7" y="416.58" width="4.9" height="4.87" fill="#F61C19"/>
<rect x="141.6" y="416.58" width="4.9" height="4.87" fill="#FDAD66"/>
<rect x="146.5" y="416.58" width="4.9" height="4.87" fill="#FC6E3E"/>
<rect x="153.1" y="416.58" width="4.9" height="4.87" fill="#FFF282"/>
<rect x="158" y="416.58" width="4.9" height="4.87" fill="#FFF282"/>
<rect x="164.6" y="416.58" width="4.9" height="4.87" fill="#FFF282"/>
<rect x="169.5" y="416.58" width="4.9" height="4.87" fill="#FFF282"/>
<rect x="174.4" y="416.58" width="4.9" height="4.87" fill="#FFF282"/>
<rect x="179.3" y="416.58" width="4.9" height="4.87" fill="#FFF282"/>
<rect x="185.9" y="416.58" width="4.9" height="4.87" fill="#FDAD66"/>
<rect x="190.8" y="416.58" width="4.9" height="4.87" fill="#FDAD66"/>
<rect x="195.7" y="416.58" width="4.9" height="4.87" fill="#FFF282"/>
<rect x="202.3" y="416.58" width="4.9" height="4.87" fill="#FFF282"/>
<rect x="207.2" y="416.58" width="4.9" height="4.87" fill="#FFF282"/>
<rect x="212.1" y="416.58" width="4.9" height="4.87" fill="#FDAD66"/>
<rect x="218.7" y="416.58" width="4.9" height="4.87" fill="#FDAD66"/>
<rect x="225.3" y="416.58" width="4.9" height="4.87" fill="#FFF282"/>
<rect x="231.9" y="416.58" width="4.9" height="4.87" fill="#FFF282"/>
<rect x="236.8" y="416.58" width="4.9" height="4.87" fill="#FFF282"/>
<rect x="26.8" y="421.45" width="4.9" height="4.87" fill="#FFF282"/>
<rect x="31.7" y="421.45" width="4.9" height="4.87" fill="#FC6E3E"/>
<rect x="36.6" y="421.45" width="4.9" height="4.87" fill="#FFF282"/>
<rect x="41.5" y="421.45" width="4.9" height="4.87" fill="#FFF282"/>
<rect x="48.1" y="421.45" width="4.9" height="4.87" fill="#FFF282"/>
<rect x="53" y="421.45" width="4.9" height="4.87" fill="#FFF282"/>
<rect x="57.9" y="421.45" width="4.9" height="4.87" fill="#FDAD66"/>
<rect x="64.5" y="421.45" width="4.9" height="4.87" fill="#FC6E3E"/>
<rect x="69.4" y="421.45" width="4.9" height="4.87" fill="#FC6E3E"/>
<rect x="74.3" y="421.45" width="4.9" height="4.87" fill="#FFF282"/>
<rect x="79.2" y="421.45" width="4.9" height="4.87" fill="#F61C19"/>
<rect x="85.8" y="421.45" width="4.9" height="4.87" fill="#FFF282"/>
<rect x="90.7" y="421.45" width="4.9" height="4.87" fill="#FFF282"/>
<rect x="97.3" y="421.45" width="4.9" height="4.87" fill="#FFF282"/>
<rect x="102.2" y="421.45" width="4.9" height="4.87" fill="#FFF282"/>
<rect x="107.1" y="421.45" width="4.9" height="4.87" fill="#FFF282"/>
<rect x="113.7" y="421.45" width="4.9" height="4.87" fill="#FFF282"/>
<rect x="120.3" y="421.45" width="4.9" height="4.87" fill="#FFF282"/>
<rect x="126.9" y="421.45" width="4.9" height="4.87" fill="#FFF282"/>
<rect x="131.8" y="421.45" width="4.9" height="4.87" fill="#FDAD66"/>
<rect x="136.7" y="421.45" width="4.9" height="4.87" fill="#FFF282"/>
<rect x="141.6" y="421.45" width="4.9" height="4.87" fill="#FDAD66"/>
<rect x="146.5" y="421.45" width="4.9" height="4.87" fill="#FDAD66"/>
<rect x="153.1" y="421.45" width="4.9" height="4.87" fill="#FFF282"/>
<rect x="158" y="421.45" width="4.9" height="4.87" fill="#FFF282"/>
<rect x="164.6" y="421.45" width="4.9" height="4.87" fill="#FFF282"/>
<rect x="169.5" y="421.45" width="4.9" height="4.87" fill="#FFF282"/>
<rect x="174.4" y="421.45" width="4.9" height="4.87" fill="#FFF282"/>
<rect x="179.3" y="421.45" width="4.9" height="4.87" fill="#FDAD66"/>
<rect x="185.9" y="421.45" width="4.9" height="4.87" fill="#FFF282"/>
<rect x="190.8" y="421.45" width="4.9" height="4.87" fill="#FFF282"/>
<rect x="195.7" y="421.45" width="4.9" height="4.87" fill="#FFF282"/>
<rect x="202.3" y="421.45" width="4.9" height="4.87" fill="#FC6E3E"/>
<rect x="207.2" y="421.45" width="4.9" height="4.87" fill="#FDAD66"/>
<rect x="212.1" y="421.45" width="4.9" height="4.87" fill="#FFF282"/>
<rect x="218.7" y="421.45" width="4.9" height="4.87" fill="#FFF282"/>
<rect x="225.3" y="421.45" width="4.9" height="4.87" fill="#FFF282"/>
<rect x="231.9" y="421.45" width="4.9" height="4.87" fill="#FFF282"/>
<rect x="236.8" y="421.45" width="4.9" height="4.87" fill="#FFF282"/>
<rect x="26.8" y="426.32" width="4.9" height="4.87" fill="#FDAD66"/>
<rect x="31.7" y="426.32" width="4.9" height="4.87" fill="#FDAD66"/>
<rect x="36.6" y="426.32" width="4.9" height="4.87" fill="#FFF282"/>
<rect x="41.5" y="426.32" width="4.9" height="4.87" fill="#FFF282"/>
<rect x="48.1" y="426.32" width="4.9" height="4.87" fill="#FFF282"/>
<rect x="53" y="426.32" width="4.9" height="4.87" fill="#FDAD66"/>
<rect x="57.9" y="426.32" width="4.9" height="4.87" fill="#FFF282"/>
<rect x="64.5" y="426.32" width="4.9" height="4.87" fill="#F61C19"/>
<rect x="69.4" y="426.32" width="4.9" height="4.87" fill="#FDAD66"/>
<rect x="74.3" y="426.32" width="4.9" height="4.87" fill="#F61C19"/>
<rect x="79.2" y="426.32" width="4.9" height="4.87" fill="#F61C19"/>
<rect x="85.8" y="426.32" width="4.9" height="4.87" fill="#FFF282"/>
<rect x="90.7" y="426.32" width="4.9" height="4.87" fill="#FFF282"/>
<rect x="97.3" y="426.32" width="4.9" height="4.87" fill="#FFF282"/>
<rect x="102.2" y="426.32" width="4.9" height="4.87" fill="#FFF282"/>
<rect x="107.1" y="426.32" width="4.9" height="4.87" fill="#FFF282"/>
<rect x="113.7" y="426.32" width="4.9" height="4.87" fill="#FDAD66"/>
<rect x="120.3" y="426.32" width="4.9" height="4.87" fill="#FFF282"/>
<rect x="126.9" y="426.32" width="4.9" height="4.87" fill="#FDAD66"/>
<rect x="131.8" y="426.32" width="4.9" height="4.87" fill="#FFF282"/>
<rect x="136.7" y="426.32" width="4.9" height="4.87" fill="#FDAD66"/>
<rect x="141.6" y="426.32" width="4.9" height="4.87" fill="#FDAD66"/>
<rect x="146.5" y="426.32" width="4.9" height="4.87" fill="#FFF282"/>
<rect x="153.1" y="426.32" width="4.9" height="4.87" fill="#FFF282"/>
<rect x="158" y="426.32" width="4.9" height="4.87" fill="#FFF282"/>
<rect x="164.6" y="426.32" width="4.9" height="4.87" fill="#FFF282"/>
<rect x="169.5" y="426.32" width="4.9" height="4.87" fill="#FFF282"/>
<rect x="174.4" y="426.32" width="4.9" height="4.87" fill="#FFF282"/>
<rect x="179.3" y="426.32" width="4.9" height="4.87" fill="#FDAD66"/>
<rect x="185.9" y="426.32" width="4.9" height="4.87" fill="#FFF282"/>
<rect x="190.8" y="426.32" width="4.9" height="4.87" fill="#FFF282"/>
<rect x="195.7" y="426.32" width="4.9" height="4.87" fill="#FFF282"/>
<rect x="202.3" y="426.32" width="4.9" height="4.87" fill="#FFF282"/>
<rect x="207.2" y="426.32" width="4.9" height="4.87" fill="#FFF282"/>
<rect x="212.1" y="426.32" width="4.9" height="4.87" fill="#FFF282"/>
<rect x="218.7" y="426.32" width="4.9" height="4.87" fill="#FDAD66"/>
<rect x="225.3" y="426.32" width="4.9" height="4.87" fill="#FFF282"/>
<rect x="231.9" y="426.32" width="4.9" height="4.87" fill="#FFF282"/>
<rect x="236.8" y="426.32" width="4.9" height="4.87" fill="#FFF282"/>
</g>
<text x="242.60" y="279.80" font-size="4.0" fill="#222" stroke="#222" stroke-width="0.16" text-anchor="start" font-family="'Liberation Sans', Arial, sans-serif" font-weight="bold" dominant-baseline="central">Tissue</text>
<text x="242.60" y="285.54" font-size="4.0" fill="#222" stroke="#222" stroke-width="0.14" text-anchor="start" font-family="'Liberation Sans', Arial, sans-serif" dominant-baseline="central">TTN:LRP1B</text>
<text x="242.60" y="290.41" font-size="4.0" fill="#E0191F" stroke="#E0191F" stroke-width="0.14" text-anchor="start" font-family="'Liberation Sans', Arial, sans-serif" dominant-baseline="central">TTN:TTN-AS1</text>
<text x="242.60" y="295.28" font-size="4.0" fill="#E0191F" stroke="#E0191F" stroke-width="0.14" text-anchor="start" font-family="'Liberation Sans', Arial, sans-serif" dominant-baseline="central">LRP1B:TTN-AS1</text>
<text x="242.60" y="302.13" font-size="4.0" fill="#222" stroke="#222" stroke-width="0.14" text-anchor="start" font-family="'Liberation Sans', Arial, sans-serif" dominant-baseline="central">TP53:MUC16</text>
<text x="242.60" y="307.00" font-size="4.0" fill="#222" stroke="#222" stroke-width="0.14" text-anchor="start" font-family="'Liberation Sans', Arial, sans-serif" dominant-baseline="central">TP53:TTN</text>
<text x="242.60" y="311.88" font-size="4.0" fill="#222" stroke="#222" stroke-width="0.14" text-anchor="start" font-family="'Liberation Sans', Arial, sans-serif" dominant-baseline="central">TTN:MUC16</text>
<text x="242.60" y="316.75" font-size="4.0" fill="#E0191F" stroke="#E0191F" stroke-width="0.14" text-anchor="start" font-family="'Liberation Sans', Arial, sans-serif" dominant-baseline="central">TP53:TTN-AS1</text>
<text x="242.60" y="321.62" font-size="4.0" fill="#E0191F" stroke="#E0191F" stroke-width="0.14" text-anchor="start" font-family="'Liberation Sans', Arial, sans-serif" dominant-baseline="central">MUC16:TTN-AS1</text>
<text x="242.60" y="326.49" font-size="4.0" fill="#222" stroke="#222" stroke-width="0.14" text-anchor="start" font-family="'Liberation Sans', Arial, sans-serif" dominant-baseline="central">OBSCN:MUC16</text>
<text x="242.60" y="331.36" font-size="4.0" fill="#222" stroke="#222" stroke-width="0.14" text-anchor="start" font-family="'Liberation Sans', Arial, sans-serif" dominant-baseline="central">TTN:CSMD3</text>
<text x="242.60" y="336.22" font-size="4.0" fill="#E0191F" stroke="#E0191F" stroke-width="0.14" text-anchor="start" font-family="'Liberation Sans', Arial, sans-serif" dominant-baseline="central">SYNE1:TTN-AS1</text>
<text x="242.60" y="341.09" font-size="4.0" fill="#222" stroke="#222" stroke-width="0.14" text-anchor="start" font-family="'Liberation Sans', Arial, sans-serif" dominant-baseline="central">TP53:LRP1B</text>
<text x="242.60" y="345.96" font-size="4.0" fill="#222" stroke="#222" stroke-width="0.14" text-anchor="start" font-family="'Liberation Sans', Arial, sans-serif" dominant-baseline="central">TP53:CSMD3</text>
<text x="242.60" y="350.83" font-size="4.0" fill="#2233D0" stroke="#2233D0" stroke-width="0.14" text-anchor="start" font-family="'Liberation Sans', Arial, sans-serif" dominant-baseline="central">TTN-AS1:FLG-AS1</text>
<text x="242.60" y="355.70" font-size="4.0" fill="#E0191F" stroke="#E0191F" stroke-width="0.14" text-anchor="start" font-family="'Liberation Sans', Arial, sans-serif" dominant-baseline="central">CSMD3:TTN-AS1</text>
<text x="242.60" y="360.57" font-size="4.0" fill="#222" stroke="#222" stroke-width="0.14" text-anchor="start" font-family="'Liberation Sans', Arial, sans-serif" dominant-baseline="central">DST:MUC16</text>
<text x="242.60" y="365.44" font-size="4.0" fill="#222" stroke="#222" stroke-width="0.14" text-anchor="start" font-family="'Liberation Sans', Arial, sans-serif" dominant-baseline="central">MUC16:PCLO</text>
<text x="242.60" y="370.31" font-size="4.0" fill="#222" stroke="#222" stroke-width="0.14" text-anchor="start" font-family="'Liberation Sans', Arial, sans-serif" dominant-baseline="central">OBSCN:TTN</text>
<text x="242.60" y="375.19" font-size="4.0" fill="#E0191F" stroke="#E0191F" stroke-width="0.14" text-anchor="start" font-family="'Liberation Sans', Arial, sans-serif" dominant-baseline="central">PCLO:TTN-AS1</text>
<text x="242.60" y="380.06" font-size="4.0" fill="#E0191F" stroke="#E0191F" stroke-width="0.14" text-anchor="start" font-family="'Liberation Sans', Arial, sans-serif" dominant-baseline="central">RYR2:TTN-AS1</text>
<text x="242.60" y="384.93" font-size="4.0" fill="#222" stroke="#222" stroke-width="0.14" text-anchor="start" font-family="'Liberation Sans', Arial, sans-serif" dominant-baseline="central">TTN:FAT4</text>
<text x="242.60" y="389.79" font-size="4.0" fill="#222" stroke="#222" stroke-width="0.14" text-anchor="start" font-family="'Liberation Sans', Arial, sans-serif" dominant-baseline="central">FAT3:MUC16</text>
<text x="242.60" y="394.66" font-size="4.0" fill="#222" stroke="#222" stroke-width="0.14" text-anchor="start" font-family="'Liberation Sans', Arial, sans-serif" dominant-baseline="central">LRP1B:MUC16</text>
<text x="242.60" y="399.53" font-size="4.0" fill="#E0191F" stroke="#E0191F" stroke-width="0.14" text-anchor="start" font-family="'Liberation Sans', Arial, sans-serif" dominant-baseline="central">PCDH9:TTN-AS1</text>
<text x="242.60" y="404.40" font-size="4.0" fill="#E0191F" stroke="#E0191F" stroke-width="0.14" text-anchor="start" font-family="'Liberation Sans', Arial, sans-serif" dominant-baseline="central">RYR3:TTN-AS1</text>
<text x="242.60" y="409.27" font-size="4.0" fill="#222" stroke="#222" stroke-width="0.14" text-anchor="start" font-family="'Liberation Sans', Arial, sans-serif" dominant-baseline="central">SYNE1:MUC16</text>
<text x="242.60" y="414.14" font-size="4.0" fill="#222" stroke="#222" stroke-width="0.14" text-anchor="start" font-family="'Liberation Sans', Arial, sans-serif" dominant-baseline="central">TP53:PCLO</text>
<text x="242.60" y="419.01" font-size="4.0" fill="#222" stroke="#222" stroke-width="0.14" text-anchor="start" font-family="'Liberation Sans', Arial, sans-serif" dominant-baseline="central">TP53:RYR2</text>
<text x="242.60" y="423.88" font-size="4.0" fill="#E0191F" stroke="#E0191F" stroke-width="0.14" text-anchor="start" font-family="'Liberation Sans', Arial, sans-serif" dominant-baseline="central">TTN-AS1:PCDH9</text>
<text x="242.60" y="428.75" font-size="4.0" fill="#222" stroke="#222" stroke-width="0.14" text-anchor="start" font-family="'Liberation Sans', Arial, sans-serif" dominant-baseline="central">TTN:CSMD1</text>
<text x="29.25" y="433.2" font-size="4.0" fill="#333" stroke="#333" stroke-width="0.14" font-family="'Liberation Sans', Arial, sans-serif" dominant-baseline="central" transform="rotate(90 29.25 433.2)">UCEC(TCGA)</text>
<text x="34.15" y="433.2" font-size="4.0" fill="#333" stroke="#333" stroke-width="0.14" font-family="'Liberation Sans', Arial, sans-serif" dominant-baseline="central" transform="rotate(90 34.15 433.2)">UCEC-US(ICGC)</text>
<text x="39.05" y="433.2" font-size="4.0" fill="#333" stroke="#333" stroke-width="0.14" font-family="'Liberation Sans', Arial, sans-serif" dominant-baseline="central" transform="rotate(90 39.05 433.2)">UCS(TCGA)</text>
<text x="43.95" y="433.2" font-size="4.0" fill="#333" stroke="#333" stroke-width="0.14" font-family="'Liberation Sans', Arial, sans-serif" dominant-baseline="central" transform="rotate(90 43.95 433.2)">UTCA-FR(ICGC)</text>
<text x="50.55" y="433.2" font-size="4.0" fill="#333" stroke="#333" stroke-width="0.14" font-family="'Liberation Sans', Arial, sans-serif" dominant-baseline="central" transform="rotate(90 50.55 433.2)">GACA-JP(ICGC)</text>
<text x="55.45" y="433.2" font-size="4.0" fill="#333" stroke="#333" stroke-width="0.14" font-family="'Liberation Sans', Arial, sans-serif" dominant-baseline="central" transform="rotate(90 55.45 433.2)">STAD(TCGA)</text>
<text x="60.35" y="433.2" font-size="4.0" fill="#333" stroke="#333" stroke-width="0.14" font-family="'Liberation Sans', Arial, sans-serif" dominant-baseline="central" transform="rotate(90 60.35 433.2)">STAD-US(ICGC)</text>
<text x="66.95" y="433.2" font-size="4.0" fill="#333" stroke="#333" stroke-width="0.14" font-family="'Liberation Sans', Arial, sans-serif" dominant-baseline="central" transform="rotate(90 66.95 433.2)">MELA-AU(ICGC)</text>
<text x="71.85" y="433.2" font-size="4.0" fill="#333" stroke="#333" stroke-width="0.14" font-family="'Liberation Sans', Arial, sans-serif" dominant-baseline="central" transform="rotate(90 71.85 433.2)">SKCA-BR(ICGC)</text>
<text x="76.75" y="433.2" font-size="4.0" fill="#333" stroke="#333" stroke-width="0.14" font-family="'Liberation Sans', Arial, sans-serif" dominant-baseline="central" transform="rotate(90 76.75 433.2)">SKCM(TCGA)</text>
<text x="81.65" y="433.2" font-size="4.0" fill="#333" stroke="#333" stroke-width="0.14" font-family="'Liberation Sans', Arial, sans-serif" dominant-baseline="central" transform="rotate(90 81.65 433.2)">SKCM-US(ICGC)</text>
<text x="88.25" y="433.2" font-size="4.0" fill="#333" stroke="#333" stroke-width="0.14" font-family="'Liberation Sans', Arial, sans-serif" dominant-baseline="central" transform="rotate(90 88.25 433.2)">PACA-CA(ICGC)</text>
<text x="93.15" y="433.2" font-size="4.0" fill="#333" stroke="#333" stroke-width="0.14" font-family="'Liberation Sans', Arial, sans-serif" dominant-baseline="central" transform="rotate(90 93.15 433.2)">PAAD(TCGA)</text>
<text x="99.75" y="433.2" font-size="4.0" fill="#333" stroke="#333" stroke-width="0.14" font-family="'Liberation Sans', Arial, sans-serif" dominant-baseline="central" transform="rotate(90 99.75 433.2)">OV-AU(ICGC)</text>
<text x="104.65" y="433.2" font-size="4.0" fill="#333" stroke="#333" stroke-width="0.14" font-family="'Liberation Sans', Arial, sans-serif" dominant-baseline="central" transform="rotate(90 104.65 433.2)">OV(TCGA)</text>
<text x="109.55" y="433.2" font-size="4.0" fill="#333" stroke="#333" stroke-width="0.14" font-family="'Liberation Sans', Arial, sans-serif" dominant-baseline="central" transform="rotate(90 109.55 433.2)">OV-US(ICGC)</text>
<text x="116.15" y="433.2" font-size="4.0" fill="#333" stroke="#333" stroke-width="0.14" font-family="'Liberation Sans', Arial, sans-serif" dominant-baseline="central" transform="rotate(90 116.15 433.2)">READ(TCGA)</text>
<text x="122.75" y="433.2" font-size="4.0" fill="#333" stroke="#333" stroke-width="0.14" font-family="'Liberation Sans', Arial, sans-serif" dominant-baseline="central" transform="rotate(90 122.75 433.2)">NACA-CN(ICGC)</text>
<text x="129.35" y="433.2" font-size="4.0" fill="#333" stroke="#333" stroke-width="0.14" font-family="'Liberation Sans', Arial, sans-serif" dominant-baseline="central" transform="rotate(90 129.35 433.2)">LUAD(TCGA)</text>
<text x="134.25" y="433.2" font-size="4.0" fill="#333" stroke="#333" stroke-width="0.14" font-family="'Liberation Sans', Arial, sans-serif" dominant-baseline="central" transform="rotate(90 134.25 433.2)">LUAD-US(ICGC)</text>
<text x="139.15" y="433.2" font-size="4.0" fill="#333" stroke="#333" stroke-width="0.14" font-family="'Liberation Sans', Arial, sans-serif" dominant-baseline="central" transform="rotate(90 139.15 433.2)">LUSC(TCGA)</text>
<text x="144.05" y="433.2" font-size="4.0" fill="#333" stroke="#333" stroke-width="0.14" font-family="'Liberation Sans', Arial, sans-serif" dominant-baseline="central" transform="rotate(90 144.05 433.2)">LUSC-KR(ICGC)</text>
<text x="148.95" y="433.2" font-size="4.0" fill="#333" stroke="#333" stroke-width="0.14" font-family="'Liberation Sans', Arial, sans-serif" dominant-baseline="central" transform="rotate(90 148.95 433.2)">LUSC-US(ICGC)</text>
<text x="155.55" y="433.2" font-size="4.0" fill="#333" stroke="#333" stroke-width="0.14" font-family="'Liberation Sans', Arial, sans-serif" dominant-baseline="central" transform="rotate(90 155.55 433.2)">LICA-CN(ICGC)</text>
<text x="160.45" y="433.2" font-size="4.0" fill="#333" stroke="#333" stroke-width="0.14" font-family="'Liberation Sans', Arial, sans-serif" dominant-baseline="central" transform="rotate(90 160.45 433.2)">LIHC(TCGA)</text>
<text x="167.05" y="433.2" font-size="4.0" fill="#333" stroke="#333" stroke-width="0.14" font-family="'Liberation Sans', Arial, sans-serif" dominant-baseline="central" transform="rotate(90 167.05 433.2)">HNSC(TCGA)</text>
<text x="171.95" y="433.2" font-size="4.0" fill="#333" stroke="#333" stroke-width="0.14" font-family="'Liberation Sans', Arial, sans-serif" dominant-baseline="central" transform="rotate(90 171.95 433.2)">ORCA-IN(ICGC)</text>
<text x="176.85" y="433.2" font-size="4.0" fill="#333" stroke="#333" stroke-width="0.14" font-family="'Liberation Sans', Arial, sans-serif" dominant-baseline="central" transform="rotate(90 176.85 433.2)">THCA-CN(ICGC)</text>
<text x="181.75" y="433.2" font-size="4.0" fill="#333" stroke="#333" stroke-width="0.14" font-family="'Liberation Sans', Arial, sans-serif" dominant-baseline="central" transform="rotate(90 181.75 433.2)">HNSC-US(ICGC)</text>
<text x="188.35" y="433.2" font-size="4.0" fill="#333" stroke="#333" stroke-width="0.14" font-family="'Liberation Sans', Arial, sans-serif" dominant-baseline="central" transform="rotate(90 188.35 433.2)">ESCA(TCGA)</text>
<text x="193.25" y="433.2" font-size="4.0" fill="#333" stroke="#333" stroke-width="0.14" font-family="'Liberation Sans', Arial, sans-serif" dominant-baseline="central" transform="rotate(90 193.25 433.2)">ESCA-CN(ICGC)</text>
<text x="198.15" y="433.2" font-size="4.0" fill="#333" stroke="#333" stroke-width="0.14" font-family="'Liberation Sans', Arial, sans-serif" dominant-baseline="central" transform="rotate(90 198.15 433.2)">ESAD-UK(ICGC)</text>
<text x="204.75" y="433.2" font-size="4.0" fill="#333" stroke="#333" stroke-width="0.14" font-family="'Liberation Sans', Arial, sans-serif" dominant-baseline="central" transform="rotate(90 204.75 433.2)">COAD-US(ICGC)</text>
<text x="209.65" y="433.2" font-size="4.0" fill="#333" stroke="#333" stroke-width="0.14" font-family="'Liberation Sans', Arial, sans-serif" dominant-baseline="central" transform="rotate(90 209.65 433.2)">COCA-CN(ICGC)</text>
<text x="214.55" y="433.2" font-size="4.0" fill="#333" stroke="#333" stroke-width="0.14" font-family="'Liberation Sans', Arial, sans-serif" dominant-baseline="central" transform="rotate(90 214.55 433.2)">READ-US(ICGC)</text>
<text x="221.15" y="433.2" font-size="4.0" fill="#333" stroke="#333" stroke-width="0.14" font-family="'Liberation Sans', Arial, sans-serif" dominant-baseline="central" transform="rotate(90 221.15 433.2)">COAD(TCGA)</text>
<text x="227.75" y="433.2" font-size="4.0" fill="#333" stroke="#333" stroke-width="0.14" font-family="'Liberation Sans', Arial, sans-serif" dominant-baseline="central" transform="rotate(90 227.75 433.2)">CESC(TCGA)</text>
<text x="234.35" y="433.2" font-size="4.0" fill="#333" stroke="#333" stroke-width="0.14" font-family="'Liberation Sans', Arial, sans-serif" dominant-baseline="central" transform="rotate(90 234.35 433.2)">BLCA-US(ICGC)</text>
<text x="239.25" y="433.2" font-size="4.0" fill="#333" stroke="#333" stroke-width="0.14" font-family="'Liberation Sans', Arial, sans-serif" dominant-baseline="central" transform="rotate(90 239.25 433.2)">BLCA(TCGA)</text>
<text x="23.3" y="433.2" font-size="4.0" font-weight="bold" fill="#333" font-family="'Liberation Sans', Arial, sans-serif" dominant-baseline="central" transform="rotate(90 23.3 433.2)">Chromosome info</text>
<rect x="283.6" y="277.6" width="4.1" height="8.8" fill="#0A0202"/>
<rect x="283.6" y="286.33" width="4.1" height="8.8" fill="#3F0606"/>
<rect x="283.6" y="295.06" width="4.1" height="8.8" fill="#8F0C0C"/>
<rect x="283.6" y="303.79" width="4.1" height="8.8" fill="#F61C19"/>
<rect x="283.6" y="312.52" width="4.1" height="8.8" fill="#FC6236"/>
<rect x="283.6" y="321.25" width="4.1" height="8.8" fill="#FDAA62"/>
<rect x="283.6" y="329.98" width="4.1" height="8.8" fill="#FFF282"/>
<text x="275.80" y="273.30" font-size="5.0" fill="#111" stroke="#111" stroke-width="0.16" text-anchor="start" font-family="'Liberation Serif', 'Times New Roman', serif" font-weight="bold" dominant-baseline="central">Frequency</text>
<text x="289.60" y="293.70" font-size="4.0" fill="#444" stroke="#444" stroke-width="0.14" text-anchor="start" font-family="'Liberation Sans', Arial, sans-serif" dominant-baseline="central">0.5</text>
<text x="289.60" y="316.60" font-size="4.0" fill="#444" stroke="#444" stroke-width="0.14" text-anchor="start" font-family="'Liberation Sans', Arial, sans-serif" dominant-baseline="central">0.25</text>
<text x="289.60" y="338.70" font-size="4.0" fill="#444" stroke="#444" stroke-width="0.14" text-anchor="start" font-family="'Liberation Sans', Arial, sans-serif" dominant-baseline="central">0</text>
<text x="299.30" y="279.00" font-size="4.3" fill="#222" stroke="#222" stroke-width="0.16" text-anchor="start" font-family="'Liberation Sans', Arial, sans-serif" font-weight="bold" dominant-baseline="central">Tissue</text>
<rect x="299.3" y="282.3" width="6" height="6.05" fill="#CDAA0E"/>
<text x="306.60" y="285.30" font-size="4.2" fill="#333" stroke="#333" stroke-width="0.06" text-anchor="start" font-family="'Liberation Sans', Arial, sans-serif" dominant-baseline="central">Bladder</text>
<rect x="299.3" y="288.35" width="6" height="6.05" fill="#17D3F5"/>
<text x="306.60" y="291.35" font-size="4.2" fill="#333" stroke="#333" stroke-width="0.06" text-anchor="start" font-family="'Liberation Sans', Arial, sans-serif" dominant-baseline="central">Cervix</text>
<rect x="299.3" y="294.4" width="6" height="6.05" fill="#C5A5F2"/>
<text x="306.60" y="297.40" font-size="4.2" fill="#333" stroke="#333" stroke-width="0.06" text-anchor="start" font-family="'Liberation Sans', Arial, sans-serif" dominant-baseline="central">Colon</text>
<rect x="299.3" y="300.45" width="6" height="6.05" fill="#12C86B"/>
<text x="306.60" y="303.45" font-size="4.2" fill="#333" stroke="#333" stroke-width="0.06" text-anchor="start" font-family="'Liberation Sans', Arial, sans-serif" dominant-baseline="central">Colorectal</text>
<rect x="299.3" y="306.5" width="6" height="6.05" fill="#F57FE6"/>
<text x="306.60" y="309.50" font-size="4.2" fill="#333" stroke="#333" stroke-width="0.06" text-anchor="start" font-family="'Liberation Sans', Arial, sans-serif" dominant-baseline="central">Esophagus</text>
<rect x="299.3" y="312.55" width="6" height="6.05" fill="#F57FE6"/>
<text x="306.60" y="315.55" font-size="4.2" fill="#333" stroke="#333" stroke-width="0.06" text-anchor="start" font-family="'Liberation Sans', Arial, sans-serif" dominant-baseline="central">Head and neck</text>
<rect x="299.3" y="318.6" width="6" height="6.05" fill="#F07BC3"/>
<text x="306.60" y="321.60" font-size="4.2" fill="#333" stroke="#333" stroke-width="0.06" text-anchor="start" font-family="'Liberation Sans', Arial, sans-serif" dominant-baseline="central">Liver</text>
<rect x="299.3" y="324.65" width="6" height="6.05" fill="#17C8F0"/>
<text x="306.60" y="327.65" font-size="4.2" fill="#333" stroke="#333" stroke-width="0.06" text-anchor="start" font-family="'Liberation Sans', Arial, sans-serif" dominant-baseline="central">Lung</text>
<rect x="299.3" y="330.7" width="6" height="6.05" fill="#1AADEE"/>
<text x="306.60" y="333.70" font-size="4.2" fill="#333" stroke="#333" stroke-width="0.06" text-anchor="start" font-family="'Liberation Sans', Arial, sans-serif" dominant-baseline="central">Nasopharynx</text>
<rect x="299.3" y="336.75" width="6" height="6.05" fill="#17C817"/>
<text x="306.60" y="339.75" font-size="4.2" fill="#333" stroke="#333" stroke-width="0.06" text-anchor="start" font-family="'Liberation Sans', Arial, sans-serif" dominant-baseline="central">Other tissues</text>
<rect x="299.3" y="342.8" width="6" height="6.05" fill="#F57FE6"/>
<text x="306.60" y="345.80" font-size="4.2" fill="#333" stroke="#333" stroke-width="0.06" text-anchor="start" font-family="'Liberation Sans', Arial, sans-serif" dominant-baseline="central">Ovary</text>
<rect x="299.3" y="348.85" width="6" height="6.05" fill="#F5A70E"/>
<text x="306.60" y="351.85" font-size="4.2" fill="#333" stroke="#333" stroke-width="0.06" text-anchor="start" font-family="'Liberation Sans', Arial, sans-serif" dominant-baseline="central">Pancreas</text>
<rect x="299.3" y="354.9" width="6" height="6.05" fill="#93C01F"/>
<text x="306.60" y="357.90" font-size="4.2" fill="#333" stroke="#333" stroke-width="0.06" text-anchor="start" font-family="'Liberation Sans', Arial, sans-serif" dominant-baseline="central">Skin</text>
<rect x="299.3" y="360.95" width="6" height="6.05" fill="#12D1B0"/>
<text x="306.60" y="363.95" font-size="4.2" fill="#333" stroke="#333" stroke-width="0.06" text-anchor="start" font-family="'Liberation Sans', Arial, sans-serif" dominant-baseline="central">Stomach</text>
<rect x="299.3" y="367" width="6" height="6.05" fill="#F99E55"/>
<text x="306.60" y="370.00" font-size="4.2" fill="#333" stroke="#333" stroke-width="0.06" text-anchor="start" font-family="'Liberation Sans', Arial, sans-serif" dominant-baseline="central">Uterus</text>
<text x="299.30" y="379.80" font-size="4.3" fill="#222" stroke="#222" stroke-width="0.16" text-anchor="start" font-family="'Liberation Sans', Arial, sans-serif" font-weight="bold" dominant-baseline="central">Chromosome info</text>
<rect x="299.3" y="382.9" width="6" height="5.6" fill="#F98886"/>
<text x="306.60" y="385.70" font-size="4.2" fill="#333" stroke="#333" stroke-width="0.06" text-anchor="start" font-family="'Liberation Sans', Arial, sans-serif" dominant-baseline="central">Inter chromosome</text>
<rect x="299.3" y="388.5" width="6" height="5.6" fill="#17CFCB"/>
<text x="306.60" y="391.30" font-size="4.2" fill="#333" stroke="#333" stroke-width="0.06" text-anchor="start" font-family="'Liberation Sans', Arial, sans-serif" dominant-baseline="central">Intra chromosome</text>
<rect x="362.6" y="278.3" width="4.2" height="147.45" fill="#F98886"/>
<g stroke="#C9C2A8" stroke-width="0.3">
<rect x="367.9" y="278.3" width="4.92" height="4.92" fill="#FFF282"/>
<rect x="372.81" y="278.3" width="4.92" height="4.92" fill="#FDAD66"/>
<rect x="377.73" y="278.3" width="4.92" height="4.92" fill="#FC6E3E"/>
<rect x="382.64" y="278.3" width="4.92" height="4.92" fill="#FDAD66"/>
<rect x="387.56" y="278.3" width="4.92" height="4.92" fill="#FDAD66"/>
<rect x="392.47" y="278.3" width="4.92" height="4.92" fill="#FDAD66"/>
<rect x="397.39" y="278.3" width="4.92" height="4.92" fill="#FDAD66"/>
<rect x="402.3" y="278.3" width="4.92" height="4.92" fill="#FC6E3E"/>
<rect x="407.22" y="278.3" width="4.92" height="4.92" fill="#FDAD66"/>
<rect x="412.13" y="278.3" width="4.92" height="4.92" fill="#FDAD66"/>
<rect x="417.05" y="278.3" width="4.92" height="4.92" fill="#FC6E3E"/>
<rect x="421.96" y="278.3" width="4.92" height="4.92" fill="#F61C19"/>
<rect x="426.88" y="278.3" width="4.92" height="4.92" fill="#FDAD66"/>
<rect x="431.79" y="278.3" width="4.92" height="4.92" fill="#FDAD66"/>
<rect x="436.71" y="278.3" width="4.92" height="4.92" fill="#FDAD66"/>
<rect x="441.62" y="278.3" width="4.92" height="4.92" fill="#FDAD66"/>
<rect x="446.54" y="278.3" width="4.92" height="4.92" fill="#FDAD66"/>
<rect x="451.45" y="278.3" width="4.92" height="4.92" fill="#FDAD66"/>
<rect x="456.37" y="278.3" width="4.92" height="4.92" fill="#FDAD66"/>
<rect x="461.28" y="278.3" width="4.92" height="4.92" fill="#F61C19"/>
<rect x="466.2" y="278.3" width="4.92" height="4.92" fill="#FFF282"/>
<rect x="471.12" y="278.3" width="4.92" height="4.92" fill="#FFF282"/>
<rect x="476.03" y="278.3" width="4.92" height="4.92" fill="#FFF282"/>
<rect x="480.94" y="278.3" width="4.92" height="4.92" fill="#FFF282"/>
<rect x="485.86" y="278.3" width="4.92" height="4.92" fill="#FFF282"/>
<rect x="490.77" y="278.3" width="4.92" height="4.92" fill="#FFF282"/>
<rect x="367.9" y="283.22" width="4.92" height="4.92" fill="#FDAD66"/>
<rect x="372.81" y="283.22" width="4.92" height="4.92" fill="#FDAD66"/>
<rect x="377.73" y="283.22" width="4.92" height="4.92" fill="#F61C19"/>
<rect x="382.64" y="283.22" width="4.92" height="4.92" fill="#FFF282"/>
<rect x="387.56" y="283.22" width="4.92" height="4.92" fill="#FDAD66"/>
<rect x="392.47" y="283.22" width="4.92" height="4.92" fill="#FDAD66"/>
<rect x="397.39" y="283.22" width="4.92" height="4.92" fill="#FDAD66"/>
<rect x="402.3" y="283.22" width="4.92" height="4.92" fill="#FDAD66"/>
<rect x="407.22" y="283.22" width="4.92" height="4.92" fill="#FFF282"/>
<rect x="412.13" y="283.22" width="4.92" height="4.92" fill="#FC6E3E"/>
<rect x="417.05" y="283.22" width="4.92" height="4.92" fill="#FC6E3E"/>
<rect x="421.96" y="283.22" width="4.92" height="4.92" fill="#FDAD66"/>
<rect x="426.88" y="283.22" width="4.92" height="4.92" fill="#FDAD66"/>
<rect x="431.79" y="283.22" width="4.92" height="4.92" fill="#FC6E3E"/>
<rect x="436.71" y="283.22" width="4.92" height="4.92" fill="#FDAD66"/>
<rect x="441.62" y="283.22" width="4.92" height="4.92" fill="#FFF282"/>
<rect x="446.54" y="283.22" width="4.92" height="4.92" fill="#FDAD66"/>
<rect x="451.45" y="283.22" width="4.92" height="4.92" fill="#FDAD66"/>
<rect x="456.37" y="283.22" width="4.92" height="4.92" fill="#FDAD66"/>
<rect x="461.28" y="283.22" width="4.92" height="4.92" fill="#FFF282"/>
<rect x="466.2" y="283.22" width="4.92" height="4.92" fill="#FDAD66"/>
<rect x="471.12" y="283.22" width="4.92" height="4.92" fill="#FDAD66"/>
<rect x="476.03" y="283.22" width="4.92" height="4.92" fill="#FDAD66"/>
<rect x="480.94" y="283.22" width="4.92" height="4.92" fill="#FFF282"/>
<rect x="485.86" y="283.22" width="4.92" height="4.92" fill="#FFF282"/>
<rect x="490.77" y="283.22" width="4.92" height="4.92" fill="#FFF282"/>
<rect x="367.9" y="288.13" width="4.92" height="4.92" fill="#FDAD66"/>
<rect x="372.81" y="288.13" width="4.92" height="4.92" fill="#FC6E3E"/>
<rect x="377.73" y="288.13" width="4.92" height="4.92" fill="#F61C19"/>
<rect x="382.64" y="288.13" width="4.92" height="4.92" fill="#FFF282"/>
<rect x="387.56" y="288.13" width="4.92" height="4.92" fill="#FDAD66"/>
<rect x="392.47" y="288.13" width="4.92" height="4.92" fill="#FDAD66"/>
<rect x="397.39" y="288.13" width="4.92" height="4.92" fill="#FC6E3E"/>
<rect x="402.3" y="288.13" width="4.92" height="4.92" fill="#F61C19"/>
<rect x="407.22" y="288.13" width="4.92" height="4.92" fill="#FDAD66"/>
<rect x="412.13" y="288.13" width="4.92" height="4.92" fill="#FDAD66"/>
<rect x="417.05" y="288.13" width="4.92" height="4.92" fill="#FDAD66"/>
<rect x="421.96" y="288.13" width="4.92" height="4.92" fill="#FFF282"/>
<rect x="426.88" y="288.13" width="4.92" height="4.92" fill="#FFF282"/>
<rect x="431.79" y="288.13" width="4.92" height="4.92" fill="#FDAD66"/>
<rect x="436.71" y="288.13" width="4.92" height="4.92" fill="#FFF282"/>
<rect x="441.62" y="288.13" width="4.92" height="4.92" fill="#FC6E3E"/>
<rect x="446.54" y="288.13" width="4.92" height="4.92" fill="#FDAD66"/>
<rect x="451.45" y="288.13" width="4.92" height="4.92" fill="#FFF282"/>
<rect x="456.37" y="288.13" width="4.92" height="4.92" fill="#FDAD66"/>
<rect x="461.28" y="288.13" width="4.92" height="4.92" fill="#BC1212"/>
<rect x="466.2" y="288.13" width="4.92" height="4.92" fill="#FDAD66"/>
<rect x="471.12" y="288.13" width="4.92" height="4.92" fill="#FC6E3E"/>
<rect x="476.03" y="288.13" width="4.92" height="4.92" fill="#FFF282"/>
<rect x="480.94" y="288.13" width="4.92" height="4.92" fill="#FDAD66"/>
<rect x="485.86" y="288.13" width="4.92" height="4.92" fill="#FFF282"/>
<rect x="490.77" y="288.13" width="4.92" height="4.92" fill="#FFF282"/>
<rect x="367.9" y="293.05" width="4.92" height="4.92" fill="#FC6E3E"/>
<rect x="372.81" y="293.05" width="4.92" height="4.92" fill="#120404"/>
<rect x="377.73" y="293.05" width="4.92" height="4.92" fill="#7A0A0A"/>
<rect x="382.64" y="293.05" width="4.92" height="4.92" fill="#FC6E3E"/>
<rect x="387.56" y="293.05" width="4.92" height="4.92" fill="#F61C19"/>
<rect x="392.47" y="293.05" width="4.92" height="4.92" fill="#FC6E3E"/>
<rect x="397.39" y="293.05" width="4.92" height="4.92" fill="#FDAD66"/>
<rect x="402.3" y="293.05" width="4.92" height="4.92" fill="#FFF282"/>
<rect x="407.22" y="293.05" width="4.92" height="4.92" fill="#FC6E3E"/>
<rect x="412.13" y="293.05" width="4.92" height="4.92" fill="#F61C19"/>
<rect x="417.05" y="293.05" width="4.92" height="4.92" fill="#BC1212"/>
<rect x="421.96" y="293.05" width="4.92" height="4.92" fill="#FFF282"/>
<rect x="426.88" y="293.05" width="4.92" height="4.92" fill="#FC6E3E"/>
<rect x="431.79" y="293.05" width="4.92" height="4.92" fill="#FFF282"/>
<rect x="436.71" y="293.05" width="4.92" height="4.92" fill="#FDAD66"/>
<rect x="441.62" y="293.05" width="4.92" height="4.92" fill="#FFF282"/>
<rect x="446.54" y="293.05" width="4.92" height="4.92" fill="#FFF282"/>
<rect x="451.45" y="293.05" width="4.92" height="4.92" fill="#FDAD66"/>
<rect x="456.37" y="293.05" width="4.92" height="4.92" fill="#FC6E3E"/>
<rect x="461.28" y="293.05" width="4.92" height="4.92" fill="#7A0A0A"/>
<rect x="466.2" y="293.05" width="4.92" height="4.92" fill="#FC6E3E"/>
<rect x="471.12" y="293.05" width="4.92" height="4.92" fill="#F61C19"/>
<rect x="476.03" y="293.05" width="4.92" height="4.92" fill="#FFF282"/>
<rect x="480.94" y="293.05" width="4.92" height="4.92" fill="#FFF282"/>
<rect x="485.86" y="293.05" width="4.92" height="4.92" fill="#FC6E3E"/>
<rect x="490.77" y="293.05" width="4.92" height="4.92" fill="#FFF282"/>
<rect x="367.9" y="297.96" width="4.92" height="4.92" fill="#FFF282"/>
<rect x="372.81" y="297.96" width="4.92" height="4.92" fill="#FFF282"/>
<rect x="377.73" y="297.96" width="4.92" height="4.92" fill="#7A0A0A"/>
<rect x="382.64" y="297.96" width="4.92" height="4.92" fill="#F61C19"/>
<rect x="387.56" y="297.96" width="4.92" height="4.92" fill="#F61C19"/>
<rect x="392.47" y="297.96" width="4.92" height="4.92" fill="#BC1212"/>
<rect x="397.39" y="297.96" width="4.92" height="4.92" fill="#FFF282"/>
<rect x="402.3" y="297.96" width="4.92" height="4.92" fill="#120404"/>
<rect x="407.22" y="297.96" width="4.92" height="4.92" fill="#FFF282"/>
<rect x="412.13" y="297.96" width="4.92" height="4.92" fill="#120404"/>
<rect x="417.05" y="297.96" width="4.92" height="4.92" fill="#FC6E3E"/>
<rect x="421.96" y="297.96" width="4.92" height="4.92" fill="#FFF282"/>
<rect x="426.88" y="297.96" width="4.92" height="4.92" fill="#F61C19"/>
<rect x="431.79" y="297.96" width="4.92" height="4.92" fill="#120404"/>
<rect x="436.71" y="297.96" width="4.92" height="4.92" fill="#F61C19"/>
<rect x="441.62" y="297.96" width="4.92" height="4.92" fill="#7A0A0A"/>
<rect x="446.54" y="297.96" width="4.92" height="4.92" fill="#BC1212"/>
<rect x="451.45" y="297.96" width="4.92" height="4.92" fill="#FC6E3E"/>
<rect x="456.37" y="297.96" width="4.92" height="4.92" fill="#BC1212"/>
<rect x="461.28" y="297.96" width="4.92" height="4.92" fill="#7A0A0A"/>
<rect x="466.2" y="297.96" width="4.92" height="4.92" fill="#FFF282"/>
<rect x="471.12" y="297.96" width="4.92" height="4.92" fill="#7A0A0A"/>
<rect x="476.03" y="297.96" width="4.92" height="4.92" fill="#7A0A0A"/>
<rect x="480.94" y="297.96" width="4.92" height="4.92" fill="#FFF282"/>
<rect x="485.86" y="297.96" width="4.92" height="4.92" fill="#FFF282"/>
<rect x="490.77" y="297.96" width="4.92" height="4.92" fill="#FFF282"/>
<rect x="367.9" y="302.88" width="4.92" height="4.92" fill="#FDAD66"/>
<rect x="372.81" y="302.88" width="4.92" height="4.92" fill="#FC6E3E"/>
<rect x="377.73" y="302.88" width="4.92" height="4.92" fill="#FC6E3E"/>
<rect x="382.64" y="302.88" width="4.92" height="4.92" fill="#FFF282"/>
<rect x="387.56" y="302.88" width="4.92" height="4.92" fill="#FFF282"/>
<rect x="392.47" y="302.88" width="4.92" height="4.92" fill="#FDAD66"/>
<rect x="397.39" y="302.88" width="4.92" height="4.92" fill="#FDAD66"/>
<rect x="402.3" y="302.88" width="4.92" height="4.92" fill="#FC6E3E"/>
<rect x="407.22" y="302.88" width="4.92" height="4.92" fill="#FDAD66"/>
<rect x="412.13" y="302.88" width="4.92" height="4.92" fill="#FDAD66"/>
<rect x="417.05" y="302.88" width="4.92" height="4.92" fill="#FDAD66"/>
<rect x="421.96" y="302.88" width="4.92" height="4.92" fill="#FDAD66"/>
<rect x="426.88" y="302.88" width="4.92" height="4.92" fill="#FFF282"/>
<rect x="431.79" y="302.88" width="4.92" height="4.92" fill="#F61C19"/>
<rect x="436.71" y="302.88" width="4.92" height="4.92" fill="#FDAD66"/>
<rect x="441.62" y="302.88" width="4.92" height="4.92" fill="#FFF282"/>
<rect x="446.54" y="302.88" width="4.92" height="4.92" fill="#FDAD66"/>
<rect x="451.45" y="302.88" width="4.92" height="4.92" fill="#FFF282"/>
<rect x="456.37" y="302.88" width="4.92" height="4.92" fill="#FDAD66"/>
<rect x="461.28" y="302.88" width="4.92" height="4.92" fill="#F61C19"/>
<rect x="466.2" y="302.88" width="4.92" height="4.92" fill="#FFF282"/>
<rect x="471.12" y="302.88" width="4.92" height="4.92" fill="#FDAD66"/>
<rect x="476.03" y="302.88" width="4.92" height="4.92" fill="#FDAD66"/>
<rect x="480.94" y="302.88" width="4.92" height="4.92" fill="#FDAD66"/>
<rect x="485.86" y="302.88" width="4.92" height="4.92" fill="#FDAD66"/>
<rect x="490.77" y="302.88" width="4.92" height="4.92" fill="#FFF282"/>
<rect x="367.9" y="307.79" width="4.92" height="4.92" fill="#FFF282"/>
<rect x="372.81" y="307.79" width="4.92" height="4.92" fill="#FC6E3E"/>
<rect x="377.73" y="307.79" width="4.92" height="4.92" fill="#7A0A0A"/>
<rect x="382.64" y="307.79" width="4.92" height="4.92" fill="#FFF282"/>
<rect x="387.56" y="307.79" width="4.92" height="4.92" fill="#FC6E3E"/>
<rect x="392.47" y="307.79" width="4.92" height="4.92" fill="#FDAD66"/>
<rect x="397.39" y="307.79" width="4.92" height="4.92" fill="#FC6E3E"/>
<rect x="402.3" y="307.79" width="4.92" height="4.92" fill="#FC6E3E"/>
<rect x="407.22" y="307.79" width="4.92" height="4.92" fill="#FC6E3E"/>
<rect x="412.13" y="307.79" width="4.92" height="4.92" fill="#FDAD66"/>
<rect x="417.05" y="307.79" width="4.92" height="4.92" fill="#F61C19"/>
<rect x="421.96" y="307.79" width="4.92" height="4.92" fill="#FC6E3E"/>
<rect x="426.88" y="307.79" width="4.92" height="4.92" fill="#FDAD66"/>
<rect x="431.79" y="307.79" width="4.92" height="4.92" fill="#F61C19"/>
<rect x="436.71" y="307.79" width="4.92" height="4.92" fill="#FDAD66"/>
<rect x="441.62" y="307.79" width="4.92" height="4.92" fill="#FC6E3E"/>
<rect x="446.54" y="307.79" width="4.92" height="4.92" fill="#FDAD66"/>
<rect x="451.45" y="307.79" width="4.92" height="4.92" fill="#FFF282"/>
<rect x="456.37" y="307.79" width="4.92" height="4.92" fill="#FC6E3E"/>
<rect x="461.28" y="307.79" width="4.92" height="4.92" fill="#BC1212"/>
<rect x="466.2" y="307.79" width="4.92" height="4.92" fill="#FDAD66"/>
<rect x="471.12" y="307.79" width="4.92" height="4.92" fill="#FFF282"/>
<rect x="476.03" y="307.79" width="4.92" height="4.92" fill="#FFF282"/>
<rect x="480.94" y="307.79" width="4.92" height="4.92" fill="#FDAD66"/>
<rect x="485.86" y="307.79" width="4.92" height="4.92" fill="#FFF282"/>
<rect x="490.77" y="307.79" width="4.92" height="4.92" fill="#FFF282"/>
<rect x="367.9" y="312.71" width="4.92" height="4.92" fill="#FDAD66"/>
<rect x="372.81" y="312.71" width="4.92" height="4.92" fill="#FDAD66"/>
<rect x="377.73" y="312.71" width="4.92" height="4.92" fill="#FC6E3E"/>
<rect x="382.64" y="312.71" width="4.92" height="4.92" fill="#FDAD66"/>
<rect x="387.56" y="312.71" width="4.92" height="4.92" fill="#FDAD66"/>
<rect x="392.47" y="312.71" width="4.92" height="4.92" fill="#FDAD66"/>
<rect x="397.39" y="312.71" width="4.92" height="4.92" fill="#FFF282"/>
<rect x="402.3" y="312.71" width="4.92" height="4.92" fill="#F61C19"/>
<rect x="407.22" y="312.71" width="4.92" height="4.92" fill="#FFF282"/>
<rect x="412.13" y="312.71" width="4.92" height="4.92" fill="#FDAD66"/>
<rect x="417.05" y="312.71" width="4.92" height="4.92" fill="#FFF282"/>
<rect x="421.96" y="312.71" width="4.92" height="4.92" fill="#FDAD66"/>
<rect x="426.88" y="312.71" width="4.92" height="4.92" fill="#FFF282"/>
<rect x="431.79" y="312.71" width="4.92" height="4.92" fill="#FDAD66"/>
<rect x="436.71" y="312.71" width="4.92" height="4.92" fill="#FDAD66"/>
<rect x="441.62" y="312.71" width="4.92" height="4.92" fill="#FDAD66"/>
<rect x="446.54" y="312.71" width="4.92" height="4.92" fill="#FFF282"/>
<rect x="451.45" y="312.71" width="4.92" height="4.92" fill="#FFF282"/>
<rect x="456.37" y="312.71" width="4.92" height="4.92" fill="#FDAD66"/>
<rect x="461.28" y="312.71" width="4.92" height="4.92" fill="#F61C19"/>
<rect x="466.2" y="312.71" width="4.92" height="4.92" fill="#FFF282"/>
<rect x="471.12" y="312.71" width="4.92" height="4.92" fill="#FDAD66"/>
<rect x="476.03" y="312.71" width="4.92" height="4.92" fill="#FDAD66"/>
<rect x="480.94" y="312.71" width="4.92" height="4.92" fill="#FFF282"/>
<rect x="485.86" y="312.71" width="4.92" height="4.92" fill="#FFF282"/>
<rect x="490.77" y="312.71" width="4.92" height="4.92" fill="#FFF282"/>
<rect x="367.9" y="317.62" width="4.92" height="4.92" fill="#FFF282"/>
<rect x="372.81" y="317.62" width="4.92" height="4.92" fill="#FFF282"/>
<rect x="377.73" y="317.62" width="4.92" height="4.92" fill="#FC6E3E"/>
<rect x="382.64" y="317.62" width="4.92" height="4.92" fill="#FFF282"/>
<rect x="387.56" y="317.62" width="4.92" height="4.92" fill="#FDAD66"/>
<rect x="392.47" y="317.62" width="4.92" height="4.92" fill="#FDAD66"/>
<rect x="397.39" y="317.62" width="4.92" height="4.92" fill="#FFF282"/>
<rect x="402.3" y="317.62" width="4.92" height="4.92" fill="#FC6E3E"/>
<rect x="407.22" y="317.62" width="4.92" height="4.92" fill="#FFF282"/>
<rect x="412.13" y="317.62" width="4.92" height="4.92" fill="#FDAD66"/>
<rect x="417.05" y="317.62" width="4.92" height="4.92" fill="#FDAD66"/>
<rect x="421.96" y="317.62" width="4.92" height="4.92" fill="#FFF282"/>
<rect x="426.88" y="317.62" width="4.92" height="4.92" fill="#FDAD66"/>
<rect x="431.79" y="317.62" width="4.92" height="4.92" fill="#FDAD66"/>
<rect x="436.71" y="317.62" width="4.92" height="4.92" fill="#FFF282"/>
<rect x="441.62" y="317.62" width="4.92" height="4.92" fill="#FDAD66"/>
<rect x="446.54" y="317.62" width="4.92" height="4.92" fill="#FDAD66"/>
<rect x="451.45" y="317.62" width="4.92" height="4.92" fill="#FFF282"/>
<rect x="456.37" y="317.62" width="4.92" height="4.92" fill="#FDAD66"/>
<rect x="461.28" y="317.62" width="4.92" height="4.92" fill="#F61C19"/>
<rect x="466.2" y="317.62" width="4.92" height="4.92" fill="#FFF282"/>
<rect x="471.12" y="317.62" width="4.92" height="4.92" fill="#FDAD66"/>
<rect x="476.03" y="317.62" width="4.92" height="4.92" fill="#FDAD66"/>
<rect x="480.94" y="317.62" width="4.92" height="4.92" fill="#FFF282"/>
<rect x="485.86" y="317.62" width="4.92" height="4.92" fill="#FFF282"/>
<rect x="490.77" y="317.62" width="4.92" height="4.92" fill="#FDAD66"/>
<rect x="367.9" y="322.54" width="4.92" height="4.92" fill="#FDAD66"/>
<rect x="372.81" y="322.54" width="4.92" height="4.92" fill="#FDAD66"/>
<rect x="377.73" y="322.54" width="4.92" height="4.92" fill="#F61C19"/>
<rect x="382.64" y="322.54" width="4.92" height="4.92" fill="#FFF282"/>
<rect x="387.56" y="322.54" width="4.92" height="4.92" fill="#FDAD66"/>
<rect x="392.47" y="322.54" width="4.92" height="4.92" fill="#FDAD66"/>
<rect x="397.39" y="322.54" width="4.92" height="4.92" fill="#FDAD66"/>
<rect x="402.3" y="322.54" width="4.92" height="4.92" fill="#FC6E3E"/>
<rect x="407.22" y="322.54" width="4.92" height="4.92" fill="#FDAD66"/>
<rect x="412.13" y="322.54" width="4.92" height="4.92" fill="#F61C19"/>
<rect x="417.05" y="322.54" width="4.92" height="4.92" fill="#FC6E3E"/>
<rect x="421.96" y="322.54" width="4.92" height="4.92" fill="#FDAD66"/>
<rect x="426.88" y="322.54" width="4.92" height="4.92" fill="#FDAD66"/>
<rect x="431.79" y="322.54" width="4.92" height="4.92" fill="#FDAD66"/>
<rect x="436.71" y="322.54" width="4.92" height="4.92" fill="#FFF282"/>
<rect x="441.62" y="322.54" width="4.92" height="4.92" fill="#FDAD66"/>
<rect x="446.54" y="322.54" width="4.92" height="4.92" fill="#FDAD66"/>
<rect x="451.45" y="322.54" width="4.92" height="4.92" fill="#FFF282"/>
<rect x="456.37" y="322.54" width="4.92" height="4.92" fill="#FDAD66"/>
<rect x="461.28" y="322.54" width="4.92" height="4.92" fill="#F61C19"/>
<rect x="466.2" y="322.54" width="4.92" height="4.92" fill="#FFF282"/>
<rect x="471.12" y="322.54" width="4.92" height="4.92" fill="#FC6E3E"/>
<rect x="476.03" y="322.54" width="4.92" height="4.92" fill="#FDAD66"/>
<rect x="480.94" y="322.54" width="4.92" height="4.92" fill="#FFF282"/>
<rect x="485.86" y="322.54" width="4.92" height="4.92" fill="#FFF282"/>
<rect x="490.77" y="322.54" width="4.92" height="4.92" fill="#FFF282"/>
<rect x="367.9" y="327.45" width="4.92" height="4.92" fill="#FDAD66"/>
<rect x="372.81" y="327.45" width="4.92" height="4.92" fill="#FFF282"/>
<rect x="377.73" y="327.45" width="4.92" height="4.92" fill="#F61C19"/>
<rect x="382.64" y="327.45" width="4.92" height="4.92" fill="#FFF282"/>
<rect x="387.56" y="327.45" width="4.92" height="4.92" fill="#FC6E3E"/>
<rect x="392.47" y="327.45" width="4.92" height="4.92" fill="#FDAD66"/>
<rect x="397.39" y="327.45" width="4.92" height="4.92" fill="#FFF282"/>
<rect x="402.3" y="327.45" width="4.92" height="4.92" fill="#FC6E3E"/>
<rect x="407.22" y="327.45" width="4.92" height="4.92" fill="#FFF282"/>
<rect x="412.13" y="327.45" width="4.92" height="4.92" fill="#F61C19"/>
<rect x="417.05" y="327.45" width="4.92" height="4.92" fill="#FDAD66"/>
<rect x="421.96" y="327.45" width="4.92" height="4.92" fill="#FDAD66"/>
<rect x="426.88" y="327.45" width="4.92" height="4.92" fill="#FC6E3E"/>
<rect x="431.79" y="327.45" width="4.92" height="4.92" fill="#FDAD66"/>
<rect x="436.71" y="327.45" width="4.92" height="4.92" fill="#FFF282"/>
<rect x="441.62" y="327.45" width="4.92" height="4.92" fill="#FDAD66"/>
<rect x="446.54" y="327.45" width="4.92" height="4.92" fill="#FDAD66"/>
<rect x="451.45" y="327.45" width="4.92" height="4.92" fill="#FFF282"/>
<rect x="456.37" y="327.45" width="4.92" height="4.92" fill="#FDAD66"/>
<rect x="461.28" y="327.45" width="4.92" height="4.92" fill="#FC6E3E"/>
<rect x="466.2" y="327.45" width="4.92" height="4.92" fill="#FFF282"/>
<rect x="471.12" y="327.45" width="4.92" height="4.92" fill="#FDAD66"/>
<rect x="476.03" y="327.45" width="4.92" height="4.92" fill="#FDAD66"/>
<rect x="480.94" y="327.45" width="4.92" height="4.92" fill="#FFF282"/>
<rect x="485.86" y="327.45" width="4.92" height="4.92" fill="#FFF282"/>
<rect x="490.77" y="327.45" width="4.92" height="4.92" fill="#FFF282"/>
<rect x="367.9" y="332.37" width="4.92" height="4.92" fill="#FDAD66"/>
<rect x="372.81" y="332.37" width="4.92" height="4.92" fill="#F61C19"/>
<rect x="377.73" y="332.37" width="4.92" height="4.92" fill="#BC1212"/>
<rect x="382.64" y="332.37" width="4.92" height="4.92" fill="#FFF282"/>
<rect x="387.56" y="332.37" width="4.92" height="4.92" fill="#FDAD66"/>
<rect x="392.47" y="332.37" width="4.92" height="4.92" fill="#FDAD66"/>
<rect x="397.39" y="332.37" width="4.92" height="4.92" fill="#FFF282"/>
<rect x="402.3" y="332.37" width="4.92" height="4.92" fill="#FC6E3E"/>
<rect x="407.22" y="332.37" width="4.92" height="4.92" fill="#FFF282"/>
<rect x="412.13" y="332.37" width="4.92" height="4.92" fill="#FC6E3E"/>
<rect x="417.05" y="332.37" width="4.92" height="4.92" fill="#FDAD66"/>
<rect x="421.96" y="332.37" width="4.92" height="4.92" fill="#FFF282"/>
<rect x="426.88" y="332.37" width="4.92" height="4.92" fill="#FFF282"/>
<rect x="431.79" y="332.37" width="4.92" height="4.92" fill="#FDAD66"/>
<rect x="436.71" y="332.37" width="4.92" height="4.92" fill="#FFF282"/>
<rect x="441.62" y="332.37" width="4.92" height="4.92" fill="#FDAD66"/>
<rect x="446.54" y="332.37" width="4.92" height="4.92" fill="#FDAD66"/>
<rect x="451.45" y="332.37" width="4.92" height="4.92" fill="#FFF282"/>
<rect x="456.37" y="332.37" width="4.92" height="4.92" fill="#FDAD66"/>
<rect x="461.28" y="332.37" width="4.92" height="4.92" fill="#BC1212"/>
<rect x="466.2" y="332.37" width="4.92" height="4.92" fill="#FFF282"/>
<rect x="471.12" y="332.37" width="4.92" height="4.92" fill="#FFF282"/>
<rect x="476.03" y="332.37" width="4.92" height="4.92" fill="#FFF282"/>
<rect x="480.94" y="332.37" width="4.92" height="4.92" fill="#FFF282"/>
<rect x="485.86" y="332.37" width="4.92" height="4.92" fill="#FFF282"/>
<rect x="490.77" y="332.37" width="4.92" height="4.92" fill="#FFF282"/>
<rect x="367.9" y="337.28" width="4.92" height="4.92" fill="#FFF282"/>
<rect x="372.81" y="337.28" width="4.92" height="4.92" fill="#FC6E3E"/>
<rect x="377.73" y="337.28" width="4.92" height="4.92" fill="#FC6E3E"/>
<rect x="382.64" y="337.28" width="4.92" height="4.92" fill="#FFF282"/>
<rect x="387.56" y="337.28" width="4.92" height="4.92" fill="#FFF282"/>
<rect x="392.47" y="337.28" width="4.92" height="4.92" fill="#FDAD66"/>
<rect x="397.39" y="337.28" width="4.92" height="4.92" fill="#FFF282"/>
<rect x="402.3" y="337.28" width="4.92" height="4.92" fill="#FC6E3E"/>
<rect x="407.22" y="337.28" width="4.92" height="4.92" fill="#FDAD66"/>
<rect x="412.13" y="337.28" width="4.92" height="4.92" fill="#FDAD66"/>
<rect x="417.05" y="337.28" width="4.92" height="4.92" fill="#FDAD66"/>
<rect x="421.96" y="337.28" width="4.92" height="4.92" fill="#FDAD66"/>
<rect x="426.88" y="337.28" width="4.92" height="4.92" fill="#FDAD66"/>
<rect x="431.79" y="337.28" width="4.92" height="4.92" fill="#FDAD66"/>
<rect x="436.71" y="337.28" width="4.92" height="4.92" fill="#FFF282"/>
<rect x="441.62" y="337.28" width="4.92" height="4.92" fill="#FFF282"/>
<rect x="446.54" y="337.28" width="4.92" height="4.92" fill="#FDAD66"/>
<rect x="451.45" y="337.28" width="4.92" height="4.92" fill="#FDAD66"/>
<rect x="456.37" y="337.28" width="4.92" height="4.92" fill="#FDAD66"/>
<rect x="461.28" y="337.28" width="4.92" height="4.92" fill="#F61C19"/>
<rect x="466.2" y="337.28" width="4.92" height="4.92" fill="#FDAD66"/>
<rect x="471.12" y="337.28" width="4.92" height="4.92" fill="#FFF282"/>
<rect x="476.03" y="337.28" width="4.92" height="4.92" fill="#FDAD66"/>
<rect x="480.94" y="337.28" width="4.92" height="4.92" fill="#FFF282"/>
<rect x="485.86" y="337.28" width="4.92" height="4.92" fill="#FFF282"/>
<rect x="490.77" y="337.28" width="4.92" height="4.92" fill="#FFF282"/>
<rect x="367.9" y="342.19" width="4.92" height="4.92" fill="#FDAD66"/>
<rect x="372.81" y="342.19" width="4.92" height="4.92" fill="#FC6E3E"/>
<rect x="377.73" y="342.19" width="4.92" height="4.92" fill="#BC1212"/>
<rect x="382.64" y="342.19" width="4.92" height="4.92" fill="#FDAD66"/>
<rect x="387.56" y="342.19" width="4.92" height="4.92" fill="#FDAD66"/>
<rect x="392.47" y="342.19" width="4.92" height="4.92" fill="#FFF282"/>
<rect x="397.39" y="342.19" width="4.92" height="4.92" fill="#FDAD66"/>
<rect x="402.3" y="342.19" width="4.92" height="4.92" fill="#FC6E3E"/>
<rect x="407.22" y="342.19" width="4.92" height="4.92" fill="#FDAD66"/>
<rect x="412.13" y="342.19" width="4.92" height="4.92" fill="#FDAD66"/>
<rect x="417.05" y="342.19" width="4.92" height="4.92" fill="#F61C19"/>
<rect x="421.96" y="342.19" width="4.92" height="4.92" fill="#FC6E3E"/>
<rect x="426.88" y="342.19" width="4.92" height="4.92" fill="#FDAD66"/>
<rect x="431.79" y="342.19" width="4.92" height="4.92" fill="#FC6E3E"/>
<rect x="436.71" y="342.19" width="4.92" height="4.92" fill="#FDAD66"/>
<rect x="441.62" y="342.19" width="4.92" height="4.92" fill="#FFF282"/>
<rect x="446.54" y="342.19" width="4.92" height="4.92" fill="#FDAD66"/>
<rect x="451.45" y="342.19" width="4.92" height="4.92" fill="#FFF282"/>
<rect x="456.37" y="342.19" width="4.92" height="4.92" fill="#FDAD66"/>
<rect x="461.28" y="342.19" width="4.92" height="4.92" fill="#F61C19"/>
<rect x="466.2" y="342.19" width="4.92" height="4.92" fill="#FFF282"/>
<rect x="471.12" y="342.19" width="4.92" height="4.92" fill="#FDAD66"/>
<rect x="476.03" y="342.19" width="4.92" height="4.92" fill="#FFF282"/>
<rect x="480.94" y="342.19" width="4.92" height="4.92" fill="#FFF282"/>
<rect x="485.86" y="342.19" width="4.92" height="4.92" fill="#FFF282"/>
<rect x="490.77" y="342.19" width="4.92" height="4.92" fill="#FFF282"/>
<rect x="367.9" y="347.11" width="4.92" height="4.92" fill="#FDAD66"/>
<rect x="372.81" y="347.11" width="4.92" height="4.92" fill="#FFF282"/>
<rect x="377.73" y="347.11" width="4.92" height="4.92" fill="#F61C19"/>
<rect x="382.64" y="347.11" width="4.92" height="4.92" fill="#FFF282"/>
<rect x="387.56" y="347.11" width="4.92" height="4.92" fill="#FFF282"/>
<rect x="392.47" y="347.11" width="4.92" height="4.92" fill="#FDAD66"/>
<rect x="397.39" y="347.11" width="4.92" height="4.92" fill="#FFF282"/>
<rect x="402.3" y="347.11" width="4.92" height="4.92" fill="#FC6E3E"/>
<rect x="407.22" y="347.11" width="4.92" height="4.92" fill="#FFF282"/>
<rect x="412.13" y="347.11" width="4.92" height="4.92" fill="#F61C19"/>
<rect x="417.05" y="347.11" width="4.92" height="4.92" fill="#FFF282"/>
<rect x="421.96" y="347.11" width="4.92" height="4.92" fill="#FDAD66"/>
<rect x="426.88" y="347.11" width="4.92" height="4.92" fill="#FDAD66"/>
<rect x="431.79" y="347.11" width="4.92" height="4.92" fill="#FDAD66"/>
<rect x="436.71" y="347.11" width="4.92" height="4.92" fill="#FFF282"/>
<rect x="441.62" y="347.11" width="4.92" height="4.92" fill="#FDAD66"/>
<rect x="446.54" y="347.11" width="4.92" height="4.92" fill="#FDAD66"/>
<rect x="451.45" y="347.11" width="4.92" height="4.92" fill="#FFF282"/>
<rect x="456.37" y="347.11" width="4.92" height="4.92" fill="#FDAD66"/>
<rect x="461.28" y="347.11" width="4.92" height="4.92" fill="#FC6E3E"/>
<rect x="466.2" y="347.11" width="4.92" height="4.92" fill="#FFF282"/>
<rect x="471.12" y="347.11" width="4.92" height="4.92" fill="#FC6E3E"/>
<rect x="476.03" y="347.11" width="4.92" height="4.92" fill="#FDAD66"/>
<rect x="480.94" y="347.11" width="4.92" height="4.92" fill="#FFF282"/>
<rect x="485.86" y="347.11" width="4.92" height="4.92" fill="#FDAD66"/>
<rect x="490.77" y="347.11" width="4.92" height="4.92" fill="#FDAD66"/>
<rect x="367.9" y="352.02" width="4.92" height="4.92" fill="#FDAD66"/>
<rect x="372.81" y="352.02" width="4.92" height="4.92" fill="#FFF282"/>
<rect x="377.73" y="352.02" width="4.92" height="4.92" fill="#FC6E3E"/>
<rect x="382.64" y="352.02" width="4.92" height="4.92" fill="#FDAD66"/>
<rect x="387.56" y="352.02" width="4.92" height="4.92" fill="#FDAD66"/>
<rect x="392.47" y="352.02" width="4.92" height="4.92" fill="#FDAD66"/>
<rect x="397.39" y="352.02" width="4.92" height="4.92" fill="#FFF282"/>
<rect x="402.3" y="352.02" width="4.92" height="4.92" fill="#FC6E3E"/>
<rect x="407.22" y="352.02" width="4.92" height="4.92" fill="#FFF282"/>
<rect x="412.13" y="352.02" width="4.92" height="4.92" fill="#F61C19"/>
<rect x="417.05" y="352.02" width="4.92" height="4.92" fill="#FDAD66"/>
<rect x="421.96" y="352.02" width="4.92" height="4.92" fill="#FFF282"/>
<rect x="426.88" y="352.02" width="4.92" height="4.92" fill="#FDAD66"/>
<rect x="431.79" y="352.02" width="4.92" height="4.92" fill="#FDAD66"/>
<rect x="436.71" y="352.02" width="4.92" height="4.92" fill="#FDAD66"/>
<rect x="441.62" y="352.02" width="4.92" height="4.92" fill="#FDAD66"/>
<rect x="446.54" y="352.02" width="4.92" height="4.92" fill="#FFF282"/>
<rect x="451.45" y="352.02" width="4.92" height="4.92" fill="#FDAD66"/>
<rect x="456.37" y="352.02" width="4.92" height="4.92" fill="#FDAD66"/>
<rect x="461.28" y="352.02" width="4.92" height="4.92" fill="#BC1212"/>
<rect x="466.2" y="352.02" width="4.92" height="4.92" fill="#FDAD66"/>
<rect x="471.12" y="352.02" width="4.92" height="4.92" fill="#FDAD66"/>
<rect x="476.03" y="352.02" width="4.92" height="4.92" fill="#FC6E3E"/>
<rect x="480.94" y="352.02" width="4.92" height="4.92" fill="#FFF282"/>
<rect x="485.86" y="352.02" width="4.92" height="4.92" fill="#FFF282"/>
<rect x="490.77" y="352.02" width="4.92" height="4.92" fill="#FFF282"/>
<rect x="367.9" y="356.94" width="4.92" height="4.92" fill="#FDAD66"/>
<rect x="372.81" y="356.94" width="4.92" height="4.92" fill="#FDAD66"/>
<rect x="377.73" y="356.94" width="4.92" height="4.92" fill="#FC6E3E"/>
<rect x="382.64" y="356.94" width="4.92" height="4.92" fill="#FDAD66"/>
<rect x="387.56" y="356.94" width="4.92" height="4.92" fill="#FDAD66"/>
<rect x="392.47" y="356.94" width="4.92" height="4.92" fill="#FDAD66"/>
<rect x="397.39" y="356.94" width="4.92" height="4.92" fill="#FFF282"/>
<rect x="402.3" y="356.94" width="4.92" height="4.92" fill="#F61C19"/>
<rect x="407.22" y="356.94" width="4.92" height="4.92" fill="#FFF282"/>
<rect x="412.13" y="356.94" width="4.92" height="4.92" fill="#F61C19"/>
<rect x="417.05" y="356.94" width="4.92" height="4.92" fill="#FFF282"/>
<rect x="421.96" y="356.94" width="4.92" height="4.92" fill="#FDAD66"/>
<rect x="426.88" y="356.94" width="4.92" height="4.92" fill="#FDAD66"/>
<rect x="431.79" y="356.94" width="4.92" height="4.92" fill="#FC6E3E"/>
<rect x="436.71" y="356.94" width="4.92" height="4.92" fill="#FFF282"/>
<rect x="441.62" y="356.94" width="4.92" height="4.92" fill="#FDAD66"/>
<rect x="446.54" y="356.94" width="4.92" height="4.92" fill="#FC6E3E"/>
<rect x="451.45" y="356.94" width="4.92" height="4.92" fill="#FFF282"/>
<rect x="456.37" y="356.94" width="4.92" height="4.92" fill="#FDAD66"/>
<rect x="461.28" y="356.94" width="4.92" height="4.92" fill="#BC1212"/>
<rect x="466.2" y="356.94" width="4.92" height="4.92" fill="#FFF282"/>
<rect x="471.12" y="356.94" width="4.92" height="4.92" fill="#FDAD66"/>
<rect x="476.03" y="356.94" width="4.92" height="4.92" fill="#FFF282"/>
<rect x="480.94" y="356.94" width="4.92" height="4.92" fill="#FFF282"/>
<rect x="485.86" y="356.94" width="4.92" height="4.92" fill="#FFF282"/>
<rect x="490.77" y="356.94" width="4.92" height="4.92" fill="#FFF282"/>
<rect x="367.9" y="361.86" width="4.92" height="4.92" fill="#FFF282"/>
<rect x="372.81" y="361.86" width="4.92" height="4.92" fill="#FFF282"/>
<rect x="377.73" y="361.86" width="4.92" height="4.92" fill="#BC1212"/>
<rect x="382.64" y="361.86" width="4.92" height="4.92" fill="#BC1212"/>
<rect x="387.56" y="361.86" width="4.92" height="4.92" fill="#F61C19"/>
<rect x="392.47" y="361.86" width="4.92" height="4.92" fill="#FC6E3E"/>
<rect x="397.39" y="361.86" width="4.92" height="4.92" fill="#FFF282"/>
<rect x="402.3" y="361.86" width="4.92" height="4.92" fill="#BC1212"/>
<rect x="407.22" y="361.86" width="4.92" height="4.92" fill="#FFF282"/>
<rect x="412.13" y="361.86" width="4.92" height="4.92" fill="#BC1212"/>
<rect x="417.05" y="361.86" width="4.92" height="4.92" fill="#FC6E3E"/>
<rect x="421.96" y="361.86" width="4.92" height="4.92" fill="#F61C19"/>
<rect x="426.88" y="361.86" width="4.92" height="4.92" fill="#FC6E3E"/>
<rect x="431.79" y="361.86" width="4.92" height="4.92" fill="#FC6E3E"/>
<rect x="436.71" y="361.86" width="4.92" height="4.92" fill="#FFF282"/>
<rect x="441.62" y="361.86" width="4.92" height="4.92" fill="#F61C19"/>
<rect x="446.54" y="361.86" width="4.92" height="4.92" fill="#F61C19"/>
<rect x="451.45" y="361.86" width="4.92" height="4.92" fill="#FDAD66"/>
<rect x="456.37" y="361.86" width="4.92" height="4.92" fill="#FFF282"/>
<rect x="461.28" y="361.86" width="4.92" height="4.92" fill="#BC1212"/>
<rect x="466.2" y="361.86" width="4.92" height="4.92" fill="#FFF282"/>
<rect x="471.12" y="361.86" width="4.92" height="4.92" fill="#F61C19"/>
<rect x="476.03" y="361.86" width="4.92" height="4.92" fill="#BC1212"/>
<rect x="480.94" y="361.86" width="4.92" height="4.92" fill="#FFF282"/>
<rect x="485.86" y="361.86" width="4.92" height="4.92" fill="#FFF282"/>
<rect x="490.77" y="361.86" width="4.92" height="4.92" fill="#FFF282"/>
<rect x="367.9" y="366.77" width="4.92" height="4.92" fill="#FDAD66"/>
<rect x="372.81" y="366.77" width="4.92" height="4.92" fill="#FDAD66"/>
<rect x="377.73" y="366.77" width="4.92" height="4.92" fill="#FC6E3E"/>
<rect x="382.64" y="366.77" width="4.92" height="4.92" fill="#FDAD66"/>
<rect x="387.56" y="366.77" width="4.92" height="4.92" fill="#FDAD66"/>
<rect x="392.47" y="366.77" width="4.92" height="4.92" fill="#FDAD66"/>
<rect x="397.39" y="366.77" width="4.92" height="4.92" fill="#FFF282"/>
<rect x="402.3" y="366.77" width="4.92" height="4.92" fill="#FDAD66"/>
<rect x="407.22" y="366.77" width="4.92" height="4.92" fill="#FC6E3E"/>
<rect x="412.13" y="366.77" width="4.92" height="4.92" fill="#FC6E3E"/>
<rect x="417.05" y="366.77" width="4.92" height="4.92" fill="#FDAD66"/>
<rect x="421.96" y="366.77" width="4.92" height="4.92" fill="#FDAD66"/>
<rect x="426.88" y="366.77" width="4.92" height="4.92" fill="#FFF282"/>
<rect x="431.79" y="366.77" width="4.92" height="4.92" fill="#FFF282"/>
<rect x="436.71" y="366.77" width="4.92" height="4.92" fill="#FDAD66"/>
<rect x="441.62" y="366.77" width="4.92" height="4.92" fill="#FDAD66"/>
<rect x="446.54" y="366.77" width="4.92" height="4.92" fill="#FFF282"/>
<rect x="451.45" y="366.77" width="4.92" height="4.92" fill="#FFF282"/>
<rect x="456.37" y="366.77" width="4.92" height="4.92" fill="#FDAD66"/>
<rect x="461.28" y="366.77" width="4.92" height="4.92" fill="#BC1212"/>
<rect x="466.2" y="366.77" width="4.92" height="4.92" fill="#FFF282"/>
<rect x="471.12" y="366.77" width="4.92" height="4.92" fill="#FDAD66"/>
<rect x="476.03" y="366.77" width="4.92" height="4.92" fill="#FC6E3E"/>
<rect x="480.94" y="366.77" width="4.92" height="4.92" fill="#FFF282"/>
<rect x="485.86" y="366.77" width="4.92" height="4.92" fill="#FFF282"/>
<rect x="490.77" y="366.77" width="4.92" height="4.92" fill="#FC6E3E"/>
<rect x="367.9" y="371.69" width="4.92" height="4.92" fill="#FDAD66"/>
<rect x="372.81" y="371.69" width="4.92" height="4.92" fill="#FC6E3E"/>
<rect x="377.73" y="371.69" width="4.92" height="4.92" fill="#BC1212"/>
<rect x="382.64" y="371.69" width="4.92" height="4.92" fill="#FFF282"/>
<rect x="387.56" y="371.69" width="4.92" height="4.92" fill="#FFF282"/>
<rect x="392.47" y="371.69" width="4.92" height="4.92" fill="#FFF282"/>
<rect x="397.39" y="371.69" width="4.92" height="4.92" fill="#FDAD66"/>
<rect x="402.3" y="371.69" width="4.92" height="4.92" fill="#FC6E3E"/>
<rect x="407.22" y="371.69" width="4.92" height="4.92" fill="#FDAD66"/>
<rect x="412.13" y="371.69" width="4.92" height="4.92" fill="#FC6E3E"/>
<rect x="417.05" y="371.69" width="4.92" height="4.92" fill="#FFF282"/>
<rect x="421.96" y="371.69" width="4.92" height="4.92" fill="#FDAD66"/>
<rect x="426.88" y="371.69" width="4.92" height="4.92" fill="#FDAD66"/>
<rect x="431.79" y="371.69" width="4.92" height="4.92" fill="#FC6E3E"/>
<rect x="436.71" y="371.69" width="4.92" height="4.92" fill="#FFF282"/>
<rect x="441.62" y="371.69" width="4.92" height="4.92" fill="#FFF282"/>
<rect x="446.54" y="371.69" width="4.92" height="4.92" fill="#FDAD66"/>
<rect x="451.45" y="371.69" width="4.92" height="4.92" fill="#FFF282"/>
<rect x="456.37" y="371.69" width="4.92" height="4.92" fill="#FDAD66"/>
<rect x="461.28" y="371.69" width="4.92" height="4.92" fill="#BC1212"/>
<rect x="466.2" y="371.69" width="4.92" height="4.92" fill="#FFF282"/>
<rect x="471.12" y="371.69" width="4.92" height="4.92" fill="#FFF282"/>
<rect x="476.03" y="371.69" width="4.92" height="4.92" fill="#FFF282"/>
<rect x="480.94" y="371.69" width="4.92" height="4.92" fill="#FFF282"/>
<rect x="485.86" y="371.69" width="4.92" height="4.92" fill="#FDAD66"/>
<rect x="490.77" y="371.69" width="4.92" height="4.92" fill="#FDAD66"/>
<rect x="367.9" y="376.6" width="4.92" height="4.92" fill="#FDAD66"/>
<rect x="372.81" y="376.6" width="4.92" height="4.92" fill="#FDAD66"/>
<rect x="377.73" y="376.6" width="4.92" height="4.92" fill="#F61C19"/>
<rect x="382.64" y="376.6" width="4.92" height="4.92" fill="#FFF282"/>
<rect x="387.56" y="376.6" width="4.92" height="4.92" fill="#FDAD66"/>
<rect x="392.47" y="376.6" width="4.92" height="4.92" fill="#FFF282"/>
<rect x="397.39" y="376.6" width="4.92" height="4.92" fill="#FC6E3E"/>
<rect x="402.3" y="376.6" width="4.92" height="4.92" fill="#FDAD66"/>
<rect x="407.22" y="376.6" width="4.92" height="4.92" fill="#FFF282"/>
<rect x="412.13" y="376.6" width="4.92" height="4.92" fill="#FC6E3E"/>
<rect x="417.05" y="376.6" width="4.92" height="4.92" fill="#FFF282"/>
<rect x="421.96" y="376.6" width="4.92" height="4.92" fill="#FFF282"/>
<rect x="426.88" y="376.6" width="4.92" height="4.92" fill="#FFF282"/>
<rect x="431.79" y="376.6" width="4.92" height="4.92" fill="#FDAD66"/>
<rect x="436.71" y="376.6" width="4.92" height="4.92" fill="#FFF282"/>
<rect x="441.62" y="376.6" width="4.92" height="4.92" fill="#FFF282"/>
<rect x="446.54" y="376.6" width="4.92" height="4.92" fill="#FDAD66"/>
<rect x="451.45" y="376.6" width="4.92" height="4.92" fill="#FFF282"/>
<rect x="456.37" y="376.6" width="4.92" height="4.92" fill="#FDAD66"/>
<rect x="461.28" y="376.6" width="4.92" height="4.92" fill="#F61C19"/>
<rect x="466.2" y="376.6" width="4.92" height="4.92" fill="#FFF282"/>
<rect x="471.12" y="376.6" width="4.92" height="4.92" fill="#FDAD66"/>
<rect x="476.03" y="376.6" width="4.92" height="4.92" fill="#FDAD66"/>
<rect x="480.94" y="376.6" width="4.92" height="4.92" fill="#FFF282"/>
<rect x="485.86" y="376.6" width="4.92" height="4.92" fill="#FFF282"/>
<rect x="490.77" y="376.6" width="4.92" height="4.92" fill="#FFF282"/>
<rect x="367.9" y="381.51" width="4.92" height="4.92" fill="#FDAD66"/>
<rect x="372.81" y="381.51" width="4.92" height="4.92" fill="#FDAD66"/>
<rect x="377.73" y="381.51" width="4.92" height="4.92" fill="#F61C19"/>
<rect x="382.64" y="381.51" width="4.92" height="4.92" fill="#FFF282"/>
<rect x="387.56" y="381.51" width="4.92" height="4.92" fill="#FDAD66"/>
<rect x="392.47" y="381.51" width="4.92" height="4.92" fill="#FFF282"/>
<rect x="397.39" y="381.51" width="4.92" height="4.92" fill="#FDAD66"/>
<rect x="402.3" y="381.51" width="4.92" height="4.92" fill="#FFF282"/>
<rect x="407.22" y="381.51" width="4.92" height="4.92" fill="#FFF282"/>
<rect x="412.13" y="381.51" width="4.92" height="4.92" fill="#FC6E3E"/>
<rect x="417.05" y="381.51" width="4.92" height="4.92" fill="#FC6E3E"/>
<rect x="421.96" y="381.51" width="4.92" height="4.92" fill="#FFF282"/>
<rect x="426.88" y="381.51" width="4.92" height="4.92" fill="#FDAD66"/>
<rect x="431.79" y="381.51" width="4.92" height="4.92" fill="#FDAD66"/>
<rect x="436.71" y="381.51" width="4.92" height="4.92" fill="#FDAD66"/>
<rect x="441.62" y="381.51" width="4.92" height="4.92" fill="#FDAD66"/>
<rect x="446.54" y="381.51" width="4.92" height="4.92" fill="#FFF282"/>
<rect x="451.45" y="381.51" width="4.92" height="4.92" fill="#FFF282"/>
<rect x="456.37" y="381.51" width="4.92" height="4.92" fill="#FFF282"/>
<rect x="461.28" y="381.51" width="4.92" height="4.92" fill="#BC1212"/>
<rect x="466.2" y="381.51" width="4.92" height="4.92" fill="#FFF282"/>
<rect x="471.12" y="381.51" width="4.92" height="4.92" fill="#FDAD66"/>
<rect x="476.03" y="381.51" width="4.92" height="4.92" fill="#FDAD66"/>
<rect x="480.94" y="381.51" width="4.92" height="4.92" fill="#FFF282"/>
<rect x="485.86" y="381.51" width="4.92" height="4.92" fill="#FFF282"/>
<rect x="490.77" y="381.51" width="4.92" height="4.92" fill="#FFF282"/>
<rect x="367.9" y="386.43" width="4.92" height="4.92" fill="#FDAD66"/>
<rect x="372.81" y="386.43" width="4.92" height="4.92" fill="#FFF282"/>
<rect x="377.73" y="386.43" width="4.92" height="4.92" fill="#FC6E3E"/>
<rect x="382.64" y="386.43" width="4.92" height="4.92" fill="#FDAD66"/>
<rect x="387.56" y="386.43" width="4.92" height="4.92" fill="#FDAD66"/>
<rect x="392.47" y="386.43" width="4.92" height="4.92" fill="#FDAD66"/>
<rect x="397.39" y="386.43" width="4.92" height="4.92" fill="#FFF282"/>
<rect x="402.3" y="386.43" width="4.92" height="4.92" fill="#FC6E3E"/>
<rect x="407.22" y="386.43" width="4.92" height="4.92" fill="#FFF282"/>
<rect x="412.13" y="386.43" width="4.92" height="4.92" fill="#FDAD66"/>
<rect x="417.05" y="386.43" width="4.92" height="4.92" fill="#FDAD66"/>
<rect x="421.96" y="386.43" width="4.92" height="4.92" fill="#FFF282"/>
<rect x="426.88" y="386.43" width="4.92" height="4.92" fill="#FFF282"/>
<rect x="431.79" y="386.43" width="4.92" height="4.92" fill="#FC6E3E"/>
<rect x="436.71" y="386.43" width="4.92" height="4.92" fill="#FFF282"/>
<rect x="441.62" y="386.43" width="4.92" height="4.92" fill="#FDAD66"/>
<rect x="446.54" y="386.43" width="4.92" height="4.92" fill="#FDAD66"/>
<rect x="451.45" y="386.43" width="4.92" height="4.92" fill="#FFF282"/>
<rect x="456.37" y="386.43" width="4.92" height="4.92" fill="#FFF282"/>
<rect x="461.28" y="386.43" width="4.92" height="4.92" fill="#FC6E3E"/>
<rect x="466.2" y="386.43" width="4.92" height="4.92" fill="#FFF282"/>
<rect x="471.12" y="386.43" width="4.92" height="4.92" fill="#FDAD66"/>
<rect x="476.03" y="386.43" width="4.92" height="4.92" fill="#FDAD66"/>
<rect x="480.94" y="386.43" width="4.92" height="4.92" fill="#FFF282"/>
<rect x="485.86" y="386.43" width="4.92" height="4.92" fill="#FFF282"/>
<rect x="490.77" y="386.43" width="4.92" height="4.92" fill="#FDAD66"/>
<rect x="367.9" y="391.35" width="4.92" height="4.92" fill="#FDAD66"/>
<rect x="372.81" y="391.35" width="4.92" height="4.92" fill="#FDAD66"/>
<rect x="377.73" y="391.35" width="4.92" height="4.92" fill="#FC6E3E"/>
<rect x="382.64" y="391.35" width="4.92" height="4.92" fill="#FFF282"/>
<rect x="387.56" y="391.35" width="4.92" height="4.92" fill="#FDAD66"/>
<rect x="392.47" y="391.35" width="4.92" height="4.92" fill="#FDAD66"/>
<rect x="397.39" y="391.35" width="4.92" height="4.92" fill="#FFF282"/>
<rect x="402.3" y="391.35" width="4.92" height="4.92" fill="#FDAD66"/>
<rect x="407.22" y="391.35" width="4.92" height="4.92" fill="#FFF282"/>
<rect x="412.13" y="391.35" width="4.92" height="4.92" fill="#FC6E3E"/>
<rect x="417.05" y="391.35" width="4.92" height="4.92" fill="#FDAD66"/>
<rect x="421.96" y="391.35" width="4.92" height="4.92" fill="#FDAD66"/>
<rect x="426.88" y="391.35" width="4.92" height="4.92" fill="#FDAD66"/>
<rect x="431.79" y="391.35" width="4.92" height="4.92" fill="#FDAD66"/>
<rect x="436.71" y="391.35" width="4.92" height="4.92" fill="#FFF282"/>
<rect x="441.62" y="391.35" width="4.92" height="4.92" fill="#FDAD66"/>
<rect x="446.54" y="391.35" width="4.92" height="4.92" fill="#FDAD66"/>
<rect x="451.45" y="391.35" width="4.92" height="4.92" fill="#FFF282"/>
<rect x="456.37" y="391.35" width="4.92" height="4.92" fill="#FDAD66"/>
<rect x="461.28" y="391.35" width="4.92" height="4.92" fill="#F61C19"/>
<rect x="466.2" y="391.35" width="4.92" height="4.92" fill="#FFF282"/>
<rect x="471.12" y="391.35" width="4.92" height="4.92" fill="#FFF282"/>
<rect x="476.03" y="391.35" width="4.92" height="4.92" fill="#FFF282"/>
<rect x="480.94" y="391.35" width="4.92" height="4.92" fill="#FFF282"/>
<rect x="485.86" y="391.35" width="4.92" height="4.92" fill="#FFF282"/>
<rect x="490.77" y="391.35" width="4.92" height="4.92" fill="#FDAD66"/>
<rect x="367.9" y="396.26" width="4.92" height="4.92" fill="#FDAD66"/>
<rect x="372.81" y="396.26" width="4.92" height="4.92" fill="#FDAD66"/>
<rect x="377.73" y="396.26" width="4.92" height="4.92" fill="#FC6E3E"/>
<rect x="382.64" y="396.26" width="4.92" height="4.92" fill="#FFF282"/>
<rect x="387.56" y="396.26" width="4.92" height="4.92" fill="#FDAD66"/>
<rect x="392.47" y="396.26" width="4.92" height="4.92" fill="#FFF282"/>
<rect x="397.39" y="396.26" width="4.92" height="4.92" fill="#FDAD66"/>
<rect x="402.3" y="396.26" width="4.92" height="4.92" fill="#FC6E3E"/>
<rect x="407.22" y="396.26" width="4.92" height="4.92" fill="#FFF282"/>
<rect x="412.13" y="396.26" width="4.92" height="4.92" fill="#FDAD66"/>
<rect x="417.05" y="396.26" width="4.92" height="4.92" fill="#FDAD66"/>
<rect x="421.96" y="396.26" width="4.92" height="4.92" fill="#FDAD66"/>
<rect x="426.88" y="396.26" width="4.92" height="4.92" fill="#FFF282"/>
<rect x="431.79" y="396.26" width="4.92" height="4.92" fill="#FC6E3E"/>
<rect x="436.71" y="396.26" width="4.92" height="4.92" fill="#FFF282"/>
<rect x="441.62" y="396.26" width="4.92" height="4.92" fill="#FFF282"/>
<rect x="446.54" y="396.26" width="4.92" height="4.92" fill="#FDAD66"/>
<rect x="451.45" y="396.26" width="4.92" height="4.92" fill="#FFF282"/>
<rect x="456.37" y="396.26" width="4.92" height="4.92" fill="#FDAD66"/>
<rect x="461.28" y="396.26" width="4.92" height="4.92" fill="#F61C19"/>
<rect x="466.2" y="396.26" width="4.92" height="4.92" fill="#FFF282"/>
<rect x="471.12" y="396.26" width="4.92" height="4.92" fill="#FDAD66"/>
<rect x="476.03" y="396.26" width="4.92" height="4.92" fill="#FDAD66"/>
<rect x="480.94" y="396.26" width="4.92" height="4.92" fill="#FFF282"/>
<rect x="485.86" y="396.26" width="4.92" height="4.92" fill="#FFF282"/>
<rect x="490.77" y="396.26" width="4.92" height="4.92" fill="#FDAD66"/>
<rect x="367.9" y="401.18" width="4.92" height="4.92" fill="#FFF282"/>
<rect x="372.81" y="401.18" width="4.92" height="4.92" fill="#FFF282"/>
<rect x="377.73" y="401.18" width="4.92" height="4.92" fill="#F61C19"/>
<rect x="382.64" y="401.18" width="4.92" height="4.92" fill="#FDAD66"/>
<rect x="387.56" y="401.18" width="4.92" height="4.92" fill="#FDAD66"/>
<rect x="392.47" y="401.18" width="4.92" height="4.92" fill="#FDAD66"/>
<rect x="397.39" y="401.18" width="4.92" height="4.92" fill="#FDAD66"/>
<rect x="402.3" y="401.18" width="4.92" height="4.92" fill="#FDAD66"/>
<rect x="407.22" y="401.18" width="4.92" height="4.92" fill="#FFF282"/>
<rect x="412.13" y="401.18" width="4.92" height="4.92" fill="#FC6E3E"/>
<rect x="417.05" y="401.18" width="4.92" height="4.92" fill="#FDAD66"/>
<rect x="421.96" y="401.18" width="4.92" height="4.92" fill="#FDAD66"/>
<rect x="426.88" y="401.18" width="4.92" height="4.92" fill="#FDAD66"/>
<rect x="431.79" y="401.18" width="4.92" height="4.92" fill="#FFF282"/>
<rect x="436.71" y="401.18" width="4.92" height="4.92" fill="#FFF282"/>
<rect x="441.62" y="401.18" width="4.92" height="4.92" fill="#FC6E3E"/>
<rect x="446.54" y="401.18" width="4.92" height="4.92" fill="#FDAD66"/>
<rect x="451.45" y="401.18" width="4.92" height="4.92" fill="#FFF282"/>
<rect x="456.37" y="401.18" width="4.92" height="4.92" fill="#FDAD66"/>
<rect x="461.28" y="401.18" width="4.92" height="4.92" fill="#F61C19"/>
<rect x="466.2" y="401.18" width="4.92" height="4.92" fill="#FFF282"/>
<rect x="471.12" y="401.18" width="4.92" height="4.92" fill="#FDAD66"/>
<rect x="476.03" y="401.18" width="4.92" height="4.92" fill="#FFF282"/>
<rect x="480.94" y="401.18" width="4.92" height="4.92" fill="#FFF282"/>
<rect x="485.86" y="401.18" width="4.92" height="4.92" fill="#FFF282"/>
<rect x="490.77" y="401.18" width="4.92" height="4.92" fill="#FFF282"/>
<rect x="367.9" y="406.09" width="4.92" height="4.92" fill="#FFF282"/>
<rect x="372.81" y="406.09" width="4.92" height="4.92" fill="#FDAD66"/>
<rect x="377.73" y="406.09" width="4.92" height="4.92" fill="#FC6E3E"/>
<rect x="382.64" y="406.09" width="4.92" height="4.92" fill="#FFF282"/>
<rect x="387.56" y="406.09" width="4.92" height="4.92" fill="#FDAD66"/>
<rect x="392.47" y="406.09" width="4.92" height="4.92" fill="#FDAD66"/>
<rect x="397.39" y="406.09" width="4.92" height="4.92" fill="#FDAD66"/>
<rect x="402.3" y="406.09" width="4.92" height="4.92" fill="#FDAD66"/>
<rect x="407.22" y="406.09" width="4.92" height="4.92" fill="#FFF282"/>
<rect x="412.13" y="406.09" width="4.92" height="4.92" fill="#FDAD66"/>
<rect x="417.05" y="406.09" width="4.92" height="4.92" fill="#FFF282"/>
<rect x="421.96" y="406.09" width="4.92" height="4.92" fill="#FFF282"/>
<rect x="426.88" y="406.09" width="4.92" height="4.92" fill="#FFF282"/>
<rect x="431.79" y="406.09" width="4.92" height="4.92" fill="#FDAD66"/>
<rect x="436.71" y="406.09" width="4.92" height="4.92" fill="#FDAD66"/>
<rect x="441.62" y="406.09" width="4.92" height="4.92" fill="#FDAD66"/>
<rect x="446.54" y="406.09" width="4.92" height="4.92" fill="#FFF282"/>
<rect x="451.45" y="406.09" width="4.92" height="4.92" fill="#FFF282"/>
<rect x="456.37" y="406.09" width="4.92" height="4.92" fill="#FDAD66"/>
<rect x="461.28" y="406.09" width="4.92" height="4.92" fill="#BC1212"/>
<rect x="466.2" y="406.09" width="4.92" height="4.92" fill="#FFF282"/>
<rect x="471.12" y="406.09" width="4.92" height="4.92" fill="#FDAD66"/>
<rect x="476.03" y="406.09" width="4.92" height="4.92" fill="#FDAD66"/>
<rect x="480.94" y="406.09" width="4.92" height="4.92" fill="#FFF282"/>
<rect x="485.86" y="406.09" width="4.92" height="4.92" fill="#FFF282"/>
<rect x="490.77" y="406.09" width="4.92" height="4.92" fill="#FFF282"/>
<rect x="367.9" y="411" width="4.92" height="4.92" fill="#FDAD66"/>
<rect x="372.81" y="411" width="4.92" height="4.92" fill="#FDAD66"/>
<rect x="377.73" y="411" width="4.92" height="4.92" fill="#FC6E3E"/>
<rect x="382.64" y="411" width="4.92" height="4.92" fill="#FFF282"/>
<rect x="387.56" y="411" width="4.92" height="4.92" fill="#FDAD66"/>
<rect x="392.47" y="411" width="4.92" height="4.92" fill="#FC6E3E"/>
<rect x="397.39" y="411" width="4.92" height="4.92" fill="#FFF282"/>
<rect x="402.3" y="411" width="4.92" height="4.92" fill="#F61C19"/>
<rect x="407.22" y="411" width="4.92" height="4.92" fill="#FFF282"/>
<rect x="412.13" y="411" width="4.92" height="4.92" fill="#FC6E3E"/>
<rect x="417.05" y="411" width="4.92" height="4.92" fill="#FDAD66"/>
<rect x="421.96" y="411" width="4.92" height="4.92" fill="#FFF282"/>
<rect x="426.88" y="411" width="4.92" height="4.92" fill="#FC6E3E"/>
<rect x="431.79" y="411" width="4.92" height="4.92" fill="#FDAD66"/>
<rect x="436.71" y="411" width="4.92" height="4.92" fill="#FDAD66"/>
<rect x="441.62" y="411" width="4.92" height="4.92" fill="#FDAD66"/>
<rect x="446.54" y="411" width="4.92" height="4.92" fill="#FDAD66"/>
<rect x="451.45" y="411" width="4.92" height="4.92" fill="#FFF282"/>
<rect x="456.37" y="411" width="4.92" height="4.92" fill="#FFF282"/>
<rect x="461.28" y="411" width="4.92" height="4.92" fill="#BC1212"/>
<rect x="466.2" y="411" width="4.92" height="4.92" fill="#FFF282"/>
<rect x="471.12" y="411" width="4.92" height="4.92" fill="#FDAD66"/>
<rect x="476.03" y="411" width="4.92" height="4.92" fill="#FFF282"/>
<rect x="480.94" y="411" width="4.92" height="4.92" fill="#FFF282"/>
<rect x="485.86" y="411" width="4.92" height="4.92" fill="#FFF282"/>
<rect x="490.77" y="411" width="4.92" height="4.92" fill="#FFF282"/>
<rect x="367.9" y="415.92" width="4.92" height="4.92" fill="#FDAD66"/>
<rect x="372.81" y="415.92" width="4.92" height="4.92" fill="#FC6E3E"/>
<rect x="377.73" y="415.92" width="4.92" height="4.92" fill="#F61C19"/>
<rect x="382.64" y="415.92" width="4.92" height="4.92" fill="#FFF282"/>
<rect x="387.56" y="415.92" width="4.92" height="4.92" fill="#FDAD66"/>
<rect x="392.47" y="415.92" width="4.92" height="4.92" fill="#FDAD66"/>
<rect x="397.39" y="415.92" width="4.92" height="4.92" fill="#FC6E3E"/>
<rect x="402.3" y="415.92" width="4.92" height="4.92" fill="#F61C19"/>
<rect x="407.22" y="415.92" width="4.92" height="4.92" fill="#FFF282"/>
<rect x="412.13" y="415.92" width="4.92" height="4.92" fill="#FC6E3E"/>
<rect x="417.05" y="415.92" width="4.92" height="4.92" fill="#FC6E3E"/>
<rect x="421.96" y="415.92" width="4.92" height="4.92" fill="#FFF282"/>
<rect x="426.88" y="415.92" width="4.92" height="4.92" fill="#FFF282"/>
<rect x="431.79" y="415.92" width="4.92" height="4.92" fill="#FC6E3E"/>
<rect x="436.71" y="415.92" width="4.92" height="4.92" fill="#FFF282"/>
<rect x="441.62" y="415.92" width="4.92" height="4.92" fill="#FDAD66"/>
<rect x="446.54" y="415.92" width="4.92" height="4.92" fill="#FFF282"/>
<rect x="451.45" y="415.92" width="4.92" height="4.92" fill="#FFF282"/>
<rect x="456.37" y="415.92" width="4.92" height="4.92" fill="#FDAD66"/>
<rect x="461.28" y="415.92" width="4.92" height="4.92" fill="#BC1212"/>
<rect x="466.2" y="415.92" width="4.92" height="4.92" fill="#FFF282"/>
<rect x="471.12" y="415.92" width="4.92" height="4.92" fill="#FDAD66"/>
<rect x="476.03" y="415.92" width="4.92" height="4.92" fill="#FDAD66"/>
<rect x="480.94" y="415.92" width="4.92" height="4.92" fill="#FFF282"/>
<rect x="485.86" y="415.92" width="4.92" height="4.92" fill="#FFF282"/>
<rect x="490.77" y="415.92" width="4.92" height="4.92" fill="#FFF282"/>
<rect x="367.9" y="420.84" width="4.92" height="4.92" fill="#FDAD66"/>
<rect x="372.81" y="420.84" width="4.92" height="4.92" fill="#FDAD66"/>
<rect x="377.73" y="420.84" width="4.92" height="4.92" fill="#F61C19"/>
<rect x="382.64" y="420.84" width="4.92" height="4.92" fill="#FFF282"/>
<rect x="387.56" y="420.84" width="4.92" height="4.92" fill="#FDAD66"/>
<rect x="392.47" y="420.84" width="4.92" height="4.92" fill="#FDAD66"/>
<rect x="397.39" y="420.84" width="4.92" height="4.92" fill="#FC6E3E"/>
<rect x="402.3" y="420.84" width="4.92" height="4.92" fill="#FDAD66"/>
<rect x="407.22" y="420.84" width="4.92" height="4.92" fill="#FFF282"/>
<rect x="412.13" y="420.84" width="4.92" height="4.92" fill="#FFF282"/>
<rect x="417.05" y="420.84" width="4.92" height="4.92" fill="#FC6E3E"/>
<rect x="421.96" y="420.84" width="4.92" height="4.92" fill="#FDAD66"/>
<rect x="426.88" y="420.84" width="4.92" height="4.92" fill="#FFF282"/>
<rect x="431.79" y="420.84" width="4.92" height="4.92" fill="#FC6E3E"/>
<rect x="436.71" y="420.84" width="4.92" height="4.92" fill="#FDAD66"/>
<rect x="441.62" y="420.84" width="4.92" height="4.92" fill="#FDAD66"/>
<rect x="446.54" y="420.84" width="4.92" height="4.92" fill="#FFF282"/>
<rect x="451.45" y="420.84" width="4.92" height="4.92" fill="#FFF282"/>
<rect x="456.37" y="420.84" width="4.92" height="4.92" fill="#FDAD66"/>
<rect x="461.28" y="420.84" width="4.92" height="4.92" fill="#BC1212"/>
<rect x="466.2" y="420.84" width="4.92" height="4.92" fill="#FFF282"/>
<rect x="471.12" y="420.84" width="4.92" height="4.92" fill="#FFF282"/>
<rect x="476.03" y="420.84" width="4.92" height="4.92" fill="#FFF282"/>
<rect x="480.94" y="420.84" width="4.92" height="4.92" fill="#FFF282"/>
<rect x="485.86" y="420.84" width="4.92" height="4.92" fill="#FFF282"/>
<rect x="490.77" y="420.84" width="4.92" height="4.92" fill="#FFF282"/>
</g>
<text x="497.40" y="280.76" font-size="4.0" fill="#222" stroke="#222" stroke-width="0.14" text-anchor="start" font-family="'Liberation Sans', Arial, sans-serif" dominant-baseline="central">TP53:RYR1</text>
<text x="497.40" y="285.67" font-size="4.0" fill="#222" stroke="#222" stroke-width="0.14" text-anchor="start" font-family="'Liberation Sans', Arial, sans-serif" dominant-baseline="central">TTN:DST</text>
<text x="497.40" y="290.59" font-size="4.0" fill="#222" stroke="#222" stroke-width="0.14" text-anchor="start" font-family="'Liberation Sans', Arial, sans-serif" dominant-baseline="central">TTN:ZFHX4</text>
<text x="497.40" y="295.50" font-size="4.0" fill="#222" stroke="#222" stroke-width="0.14" text-anchor="start" font-family="'Liberation Sans', Arial, sans-serif" dominant-baseline="central">MUC16:TTN</text>
<text x="497.40" y="300.42" font-size="4.0" fill="#222" stroke="#222" stroke-width="0.14" text-anchor="start" font-family="'Liberation Sans', Arial, sans-serif" dominant-baseline="central">TP53:TTN</text>
<text x="497.40" y="305.33" font-size="4.0" fill="#222" stroke="#222" stroke-width="0.14" text-anchor="start" font-family="'Liberation Sans', Arial, sans-serif" dominant-baseline="central">TTN:DNAH11</text>
<text x="497.40" y="310.25" font-size="4.0" fill="#222" stroke="#222" stroke-width="0.14" text-anchor="start" font-family="'Liberation Sans', Arial, sans-serif" dominant-baseline="central">TTN:SYNE1</text>
<text x="497.40" y="315.16" font-size="4.0" fill="#222" stroke="#222" stroke-width="0.14" text-anchor="start" font-family="'Liberation Sans', Arial, sans-serif" dominant-baseline="central">TP53:CSMD3</text>
<text x="497.40" y="320.08" font-size="4.0" fill="#222" stroke="#222" stroke-width="0.14" text-anchor="start" font-family="'Liberation Sans', Arial, sans-serif" dominant-baseline="central">TP53:NEB</text>
<text x="497.40" y="324.99" font-size="4.0" fill="#222" stroke="#222" stroke-width="0.14" text-anchor="start" font-family="'Liberation Sans', Arial, sans-serif" dominant-baseline="central">TP53:PCLO</text>
<text x="497.40" y="329.91" font-size="4.0" fill="#222" stroke="#222" stroke-width="0.14" text-anchor="start" font-family="'Liberation Sans', Arial, sans-serif" dominant-baseline="central">TP53:SYNE1</text>
<text x="497.40" y="334.82" font-size="4.0" fill="#222" stroke="#222" stroke-width="0.14" text-anchor="start" font-family="'Liberation Sans', Arial, sans-serif" dominant-baseline="central">TTN:DNAH5</text>
<text x="497.40" y="339.74" font-size="4.0" fill="#222" stroke="#222" stroke-width="0.14" text-anchor="start" font-family="'Liberation Sans', Arial, sans-serif" dominant-baseline="central">TTN:MUC17</text>
<text x="497.40" y="344.65" font-size="4.0" fill="#222" stroke="#222" stroke-width="0.14" text-anchor="start" font-family="'Liberation Sans', Arial, sans-serif" dominant-baseline="central">MUC16:SYNE1</text>
<text x="497.40" y="349.57" font-size="4.0" fill="#222" stroke="#222" stroke-width="0.14" text-anchor="start" font-family="'Liberation Sans', Arial, sans-serif" dominant-baseline="central">TP53:ABCA13</text>
<text x="497.40" y="354.48" font-size="4.0" fill="#222" stroke="#222" stroke-width="0.14" text-anchor="start" font-family="'Liberation Sans', Arial, sans-serif" dominant-baseline="central">TP53:DST</text>
<text x="497.40" y="359.40" font-size="4.0" fill="#222" stroke="#222" stroke-width="0.14" text-anchor="start" font-family="'Liberation Sans', Arial, sans-serif" dominant-baseline="central">TP53:LRP1B</text>
<text x="497.40" y="364.31" font-size="4.0" fill="#222" stroke="#222" stroke-width="0.14" text-anchor="start" font-family="'Liberation Sans', Arial, sans-serif" dominant-baseline="central">TP53:MUC16</text>
<text x="497.40" y="369.23" font-size="4.0" fill="#222" stroke="#222" stroke-width="0.14" text-anchor="start" font-family="'Liberation Sans', Arial, sans-serif" dominant-baseline="central">TP53:PLEC</text>
<text x="497.40" y="374.14" font-size="4.0" fill="#222" stroke="#222" stroke-width="0.14" text-anchor="start" font-family="'Liberation Sans', Arial, sans-serif" dominant-baseline="central">TTN:ABCA13</text>
<text x="497.40" y="379.06" font-size="4.0" fill="#222" stroke="#222" stroke-width="0.14" text-anchor="start" font-family="'Liberation Sans', Arial, sans-serif" dominant-baseline="central">TTN:LAMA1</text>
<text x="497.40" y="383.97" font-size="4.0" fill="#222" stroke="#222" stroke-width="0.14" text-anchor="start" font-family="'Liberation Sans', Arial, sans-serif" dominant-baseline="central">MUC16:DST</text>
<text x="497.40" y="388.89" font-size="4.0" fill="#222" stroke="#222" stroke-width="0.14" text-anchor="start" font-family="'Liberation Sans', Arial, sans-serif" dominant-baseline="central">TP53:DNAH11</text>
<text x="497.40" y="393.80" font-size="4.0" fill="#222" stroke="#222" stroke-width="0.14" text-anchor="start" font-family="'Liberation Sans', Arial, sans-serif" dominant-baseline="central">TP53:DNAH5</text>
<text x="497.40" y="398.72" font-size="4.0" fill="#222" stroke="#222" stroke-width="0.14" text-anchor="start" font-family="'Liberation Sans', Arial, sans-serif" dominant-baseline="central">TP53:FSIP2</text>
<text x="497.40" y="403.63" font-size="4.0" fill="#222" stroke="#222" stroke-width="0.14" text-anchor="start" font-family="'Liberation Sans', Arial, sans-serif" dominant-baseline="central">TP53:KMT2C</text>
<text x="497.40" y="408.55" font-size="4.0" fill="#222" stroke="#222" stroke-width="0.14" text-anchor="start" font-family="'Liberation Sans', Arial, sans-serif" dominant-baseline="central">TP53:LRP2</text>
<text x="497.40" y="413.46" font-size="4.0" fill="#222" stroke="#222" stroke-width="0.14" text-anchor="start" font-family="'Liberation Sans', Arial, sans-serif" dominant-baseline="central">TP53:USH2A</text>
<text x="497.40" y="418.38" font-size="4.0" fill="#222" stroke="#222" stroke-width="0.14" text-anchor="start" font-family="'Liberation Sans', Arial, sans-serif" dominant-baseline="central">TTN:CSMD3</text>
<text x="497.40" y="423.29" font-size="4.0" fill="#222" stroke="#222" stroke-width="0.14" text-anchor="start" font-family="'Liberation Sans', Arial, sans-serif" dominant-baseline="central">TTN:DNAH8</text>
<text x="370.36" y="427.4" font-size="4.0" fill="#333" stroke="#333" stroke-width="0.14" font-family="'Liberation Sans', Arial, sans-serif" dominant-baseline="central" transform="rotate(90 370.36 427.4)">Lymphoma</text>
<text x="375.27" y="427.4" font-size="4.0" fill="#333" stroke="#333" stroke-width="0.14" font-family="'Liberation Sans', Arial, sans-serif" dominant-baseline="central" transform="rotate(90 375.27 427.4)">Skin</text>
<text x="380.19" y="427.4" font-size="4.0" fill="#333" stroke="#333" stroke-width="0.14" font-family="'Liberation Sans', Arial, sans-serif" dominant-baseline="central" transform="rotate(90 380.19 427.4)">Colon/Colorectal</text>
<text x="385.10" y="427.4" font-size="4.0" fill="#333" stroke="#333" stroke-width="0.14" font-family="'Liberation Sans', Arial, sans-serif" dominant-baseline="central" transform="rotate(90 385.10 427.4)">Thyroid</text>
<text x="390.02" y="427.4" font-size="4.0" fill="#333" stroke="#333" stroke-width="0.14" font-family="'Liberation Sans', Arial, sans-serif" dominant-baseline="central" transform="rotate(90 390.02 427.4)">Ovarian</text>
<text x="394.93" y="427.4" font-size="4.0" fill="#333" stroke="#333" stroke-width="0.14" font-family="'Liberation Sans', Arial, sans-serif" dominant-baseline="central" transform="rotate(90 394.93 427.4)">Myeloma</text>
<text x="399.85" y="427.4" font-size="4.0" fill="#333" stroke="#333" stroke-width="0.14" font-family="'Liberation Sans', Arial, sans-serif" dominant-baseline="central" transform="rotate(90 399.85 427.4)">Cervical</text>
<text x="404.76" y="427.4" font-size="4.0" fill="#333" stroke="#333" stroke-width="0.14" font-family="'Liberation Sans', Arial, sans-serif" dominant-baseline="central" transform="rotate(90 404.76 427.4)">Lung</text>
<text x="409.68" y="427.4" font-size="4.0" fill="#333" stroke="#333" stroke-width="0.14" font-family="'Liberation Sans', Arial, sans-serif" dominant-baseline="central" transform="rotate(90 409.68 427.4)">Neuroblastoma</text>
<text x="414.59" y="427.4" font-size="4.0" fill="#333" stroke="#333" stroke-width="0.14" font-family="'Liberation Sans', Arial, sans-serif" dominant-baseline="central" transform="rotate(90 414.59 427.4)">Esophageal</text>
<text x="419.51" y="427.4" font-size="4.0" fill="#333" stroke="#333" stroke-width="0.14" font-family="'Liberation Sans', Arial, sans-serif" dominant-baseline="central" transform="rotate(90 419.51 427.4)">Prostate</text>
<text x="424.42" y="427.4" font-size="4.0" fill="#333" stroke="#333" stroke-width="0.14" font-family="'Liberation Sans', Arial, sans-serif" dominant-baseline="central" transform="rotate(90 424.42 427.4)">Bladder</text>
<text x="429.34" y="427.4" font-size="4.0" fill="#333" stroke="#333" stroke-width="0.14" font-family="'Liberation Sans', Arial, sans-serif" dominant-baseline="central" transform="rotate(90 429.34 427.4)">Sarcoma</text>
<text x="434.25" y="427.4" font-size="4.0" fill="#333" stroke="#333" stroke-width="0.14" font-family="'Liberation Sans', Arial, sans-serif" dominant-baseline="central" transform="rotate(90 434.25 427.4)">Gastric</text>
<text x="439.17" y="427.4" font-size="4.0" fill="#333" stroke="#333" stroke-width="0.14" font-family="'Liberation Sans', Arial, sans-serif" dominant-baseline="central" transform="rotate(90 439.17 427.4)">Brain</text>
<text x="444.08" y="427.4" font-size="4.0" fill="#333" stroke="#333" stroke-width="0.14" font-family="'Liberation Sans', Arial, sans-serif" dominant-baseline="central" transform="rotate(90 444.08 427.4)">Liver</text>
<text x="449.00" y="427.4" font-size="4.0" fill="#333" stroke="#333" stroke-width="0.14" font-family="'Liberation Sans', Arial, sans-serif" dominant-baseline="central" transform="rotate(90 449.00 427.4)">Pancreatic</text>
<text x="453.91" y="427.4" font-size="4.0" fill="#333" stroke="#333" stroke-width="0.14" font-family="'Liberation Sans', Arial, sans-serif" dominant-baseline="central" transform="rotate(90 453.91 427.4)">Bone</text>
<text x="458.83" y="427.4" font-size="4.0" fill="#333" stroke="#333" stroke-width="0.14" font-family="'Liberation Sans', Arial, sans-serif" dominant-baseline="central" transform="rotate(90 458.83 427.4)">Leukemia</text>
<text x="463.74" y="427.4" font-size="4.0" fill="#333" stroke="#333" stroke-width="0.14" font-family="'Liberation Sans', Arial, sans-serif" dominant-baseline="central" transform="rotate(90 463.74 427.4)">Endometrial/Uterine</text>
<text x="468.66" y="427.4" font-size="4.0" fill="#333" stroke="#333" stroke-width="0.14" font-family="'Liberation Sans', Arial, sans-serif" dominant-baseline="central" transform="rotate(90 468.66 427.4)">Kidney</text>
<text x="473.57" y="427.4" font-size="4.0" fill="#333" stroke="#333" stroke-width="0.14" font-family="'Liberation Sans', Arial, sans-serif" dominant-baseline="central" transform="rotate(90 473.57 427.4)">Breast</text>
<text x="478.49" y="427.4" font-size="4.0" fill="#333" stroke="#333" stroke-width="0.14" font-family="'Liberation Sans', Arial, sans-serif" dominant-baseline="central" transform="rotate(90 478.49 427.4)">Head and Neck</text>
<text x="483.40" y="427.4" font-size="4.0" fill="#333" stroke="#333" stroke-width="0.14" font-family="'Liberation Sans', Arial, sans-serif" dominant-baseline="central" transform="rotate(90 483.40 427.4)">Rhabdoid</text>
<text x="488.32" y="427.4" font-size="4.0" fill="#333" stroke="#333" stroke-width="0.14" font-family="'Liberation Sans', Arial, sans-serif" dominant-baseline="central" transform="rotate(90 488.32 427.4)">Mesothelioma</text>
<text x="493.23" y="427.4" font-size="4.0" fill="#333" stroke="#333" stroke-width="0.14" font-family="'Liberation Sans', Arial, sans-serif" dominant-baseline="central" transform="rotate(90 493.23 427.4)">Bile Duct</text>
<text x="364.7" y="427.4" font-size="4.0" font-weight="bold" fill="#333" font-family="'Liberation Sans', Arial, sans-serif" dominant-baseline="central" transform="rotate(90 364.7 427.4)">Chromosome info</text>
<rect x="528.4" y="278.5" width="4.2" height="8.7" fill="#0A0202"/>
<rect x="528.4" y="287.14" width="4.2" height="8.7" fill="#3F0606"/>
<rect x="528.4" y="295.78" width="4.2" height="8.7" fill="#8F0C0C"/>
<rect x="528.4" y="304.42" width="4.2" height="8.7" fill="#F61C19"/>
<rect x="528.4" y="313.06" width="4.2" height="8.7" fill="#FC6236"/>
<rect x="528.4" y="321.7" width="4.2" height="8.7" fill="#FDAA62"/>
<rect x="528.4" y="330.34" width="4.2" height="8.7" fill="#FFF282"/>
<text x="521.00" y="273.00" font-size="5.0" fill="#111" stroke="#111" stroke-width="0.16" text-anchor="start" font-family="'Liberation Serif', 'Times New Roman', serif" font-weight="bold" dominant-baseline="central">Frequency</text>
<text x="534.20" y="290.00" font-size="4.0" fill="#444" stroke="#444" stroke-width="0.14" text-anchor="start" font-family="'Liberation Sans', Arial, sans-serif" dominant-baseline="central">0.6</text>
<text x="534.20" y="315.00" font-size="4.0" fill="#444" stroke="#444" stroke-width="0.14" text-anchor="start" font-family="'Liberation Sans', Arial, sans-serif" dominant-baseline="central">0.3</text>
<text x="534.20" y="339.00" font-size="4.0" fill="#444" stroke="#444" stroke-width="0.14" text-anchor="start" font-family="'Liberation Sans', Arial, sans-serif" dominant-baseline="central">0</text>
<text x="11.30" y="10.20" font-size="9.0" fill="#111" stroke="#111" stroke-width="0.16" text-anchor="middle" font-family="'Liberation Serif', 'Times New Roman', serif" font-weight="bold" dominant-baseline="central">A</text>
<text x="146.60" y="10.10" font-size="9.0" fill="#111" stroke="#111" stroke-width="0.16" text-anchor="middle" font-family="'Liberation Serif', 'Times New Roman', serif" font-weight="bold" dominant-baseline="central">B</text>
<text x="225.20" y="10.10" font-size="9.0" fill="#111" stroke="#111" stroke-width="0.16" text-anchor="middle" font-family="'Liberation Serif', 'Times New Roman', serif" font-weight="bold" dominant-baseline="central">C</text>
<text x="13.20" y="282.50" font-size="9.0" fill="#111" stroke="#111" stroke-width="0.16" text-anchor="middle" font-family="'Liberation Serif', 'Times New Roman', serif" font-weight="bold" dominant-baseline="central">D</text>
<text x="351.70" y="282.50" font-size="9.0" fill="#111" stroke="#111" stroke-width="0.16" text-anchor="middle" font-family="'Liberation Serif', 'Times New Roman', serif" font-weight="bold" dominant-baseline="central">E</text>
</svg></body></html>
